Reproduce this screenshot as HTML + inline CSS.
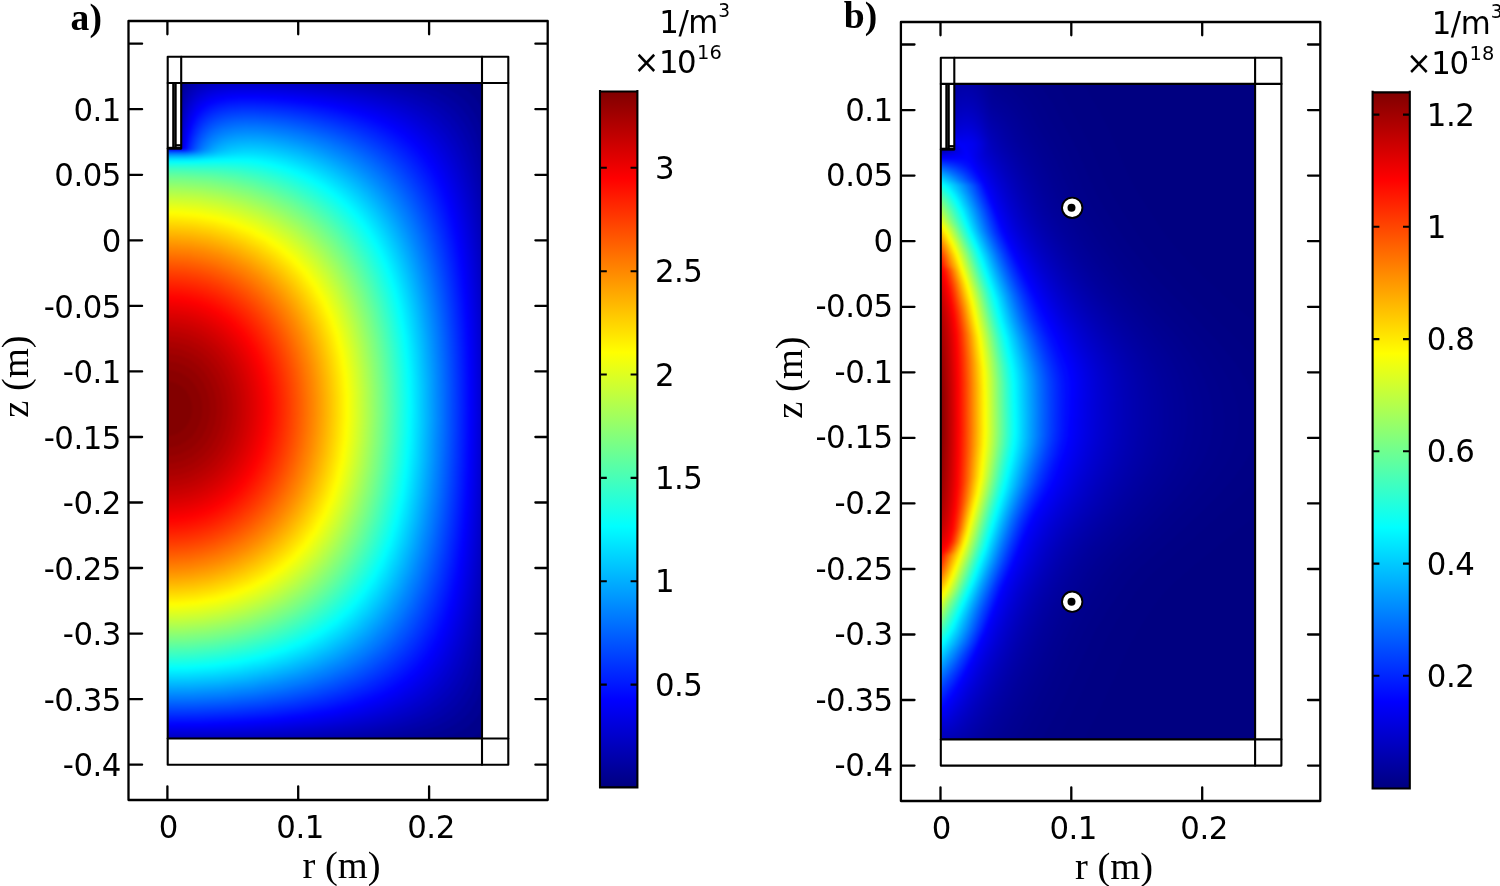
<!DOCTYPE html>
<html lang="en"><head><meta charset="utf-8"><title>Figure</title>
<style>html,body{margin:0;padding:0;background:#fff}body{width:1500px;height:886px;overflow:hidden}svg{display:block}.tk{font-family:"DejaVu Sans","Liberation Sans",sans-serif;font-size:30.8px;fill:#000;letter-spacing:-0.5px}.sup{font-size:18.6px}.ax{font-family:"Liberation Serif","Times New Roman",serif;font-size:38.5px;fill:#000}.pl{font-family:"Liberation Serif","Times New Roman",serif;font-weight:bold;font-size:37.6px;fill:#000}</style></head><body>
<svg width="1500" height="886" viewBox="0 0 1500 886">
<rect width="1500" height="886" fill="#fff"/>
<defs><filter id="bl" x="-5%" y="-5%" width="110%" height="110%" color-interpolation-filters="sRGB"><feGaussianBlur stdDeviation="1.3"/></filter></defs>
<clipPath id="clipa"><rect x="167.4" y="83.0" width="314.6" height="655.5"/></clipPath>
<g clip-path="url(#clipa)"><g filter="url(#bl)">
<rect x="159.4" y="75.0" width="330.6" height="671.5" fill="#000083"/>
<path fill="#00008b" d="M159.4,75 457.5,75 468.4,78.2 476.4,82.4 482.6,88 485.4,91.8 487.7,96 490.4,103.2 490.4,714.3 487.4,722.1 483.1,729 478,734 471.4,738 463.4,741 452.4,743.6 439.4,745.4 421.8,747 159.4,747Z"/>
<path fill="#000093" d="M184.6,76 185.9,75 416.4,75.1 431.4,77.3 443.4,79.9 453.4,83 461.4,86.6 468.4,91.2 474.4,97 478.7,103 482.7,111 487.1,125 490.4,142.4 490.4,675.1 488.2,688 485.7,698 482.5,707 479,714 474.8,720 469.4,725.5 463,730 455.4,733.7 441.4,738.2 422.4,741.6 398.4,744.1 367.4,746 340.7,747 159.4,747 159.4,80.8 180.4,80.9 181.4,80.4Z"/>
<path fill="#00009b" d="M191.4,76 194,75 372.1,75 394.4,77 412.4,79.4 426.4,82.1 438.4,85.4 448.4,89.3 456.8,94 463.4,99.1 469.7,106 474.9,114 479,123 482.5,134 485.7,148 488.3,165 490.4,184.3 490.4,633.2 487.9,656 484.8,674 480.9,689 476.2,701 470.4,710.7 463.4,718.5 454.4,725.1 443.4,730.4 428.4,735 410.4,738.5 387.4,741.3 358.4,743.4 321.4,745.1 274.4,746.3 213,747 159.4,747 159.4,88.6 180.4,88.7 181.4,87.9 183.4,83.2 185.4,80.3 188,78Z"/>
<path fill="#0000a3" d="M201,76 206.6,75 324.4,75 352.4,76.6 375.4,78.5 395,81 411.9,84 425.4,87.4 436.4,91.3 446.1,96 454.4,101.6 461.4,108.2 467.4,115.9 472.4,124.9 476.4,134.7 481.2,152 485,173 488,199 490.4,232 490.4,585.5 489.1,606 486.3,635 482.6,659 478,678 472.4,692.6 469,699 465.4,704.5 461.4,709.4 456.4,714.3 451.4,718.2 445.3,722 438.4,725.4 431.4,728.2 415.4,732.8 396.4,736.3 373.4,739.2 345.4,741.4 310.4,743.2 267.4,744.4 159.4,745.4 159.4,96.4 180.4,96.5 181.4,95.5 184.4,87.1 188.2,82 193.4,78.5Z"/>
<path fill="#0000ab" d="M218.6,76 239.4,75.2 268.4,75.3 303.4,76.4 335.4,78.1 360.4,80.2 381.4,82.7 399.4,85.8 414.4,89.4 426.4,93.3 436.7,98 445.4,103.2 453.6,110 460.4,117.7 465.8,126 470.7,136 475,148 477.9,159 480.6,172 485,203 488.2,243 490.4,293.1 490.4,524.4 488.3,572 485.4,610 481.9,638 477.6,660 472.1,678 468.7,686 465.4,692.2 461.4,698.5 457,704 452,709 446.4,713.6 440.4,717.5 433.4,721.2 425.4,724.6 417.4,727.3 401.4,731.4 381.4,734.8 358.4,737.6 330.4,739.8 296.4,741.5 256.4,742.8 159.4,743.7 159.4,104.3 180.4,104.4 181.4,103.1 183.2,96 185.4,90.4 188.4,86 191.4,83.1 195.4,80.7 201.4,78.6 209.2,77Z"/>
<path fill="#0000b3" d="M220.2,78 240.4,77.1 268.4,77.3 302.4,78.5 333.4,80.5 357.4,82.8 378.4,85.7 396.4,89.2 411.4,93.2 423.4,97.7 434.1,103 443,109 450.8,116 457.4,124 463.5,134 468.5,145 472.9,158 476.4,171.9 479.3,187 481.7,204 483.9,224 487.2,273 489.2,334 490,415 489,495 486.4,559 484.6,585 482.4,608 478.5,635 473.6,657 470.9,666 467.6,675 463.8,683 459.8,690 455.4,696.2 450.4,701.9 444.9,707 439.4,711.2 432.4,715.5 425.4,719 416.4,722.6 407.4,725.5 390.4,729.7 370.4,733.1 347.4,735.8 319.4,738.1 286.4,739.8 248.4,741.1 159.4,742 159.4,112.2 180.4,112.3 181.4,110.8 183.2,102 185.4,95.5 188.4,90.1 191.4,86.7 196.4,83.3 202.4,80.9 210.4,79.1Z"/>
<path fill="#0000bb" d="M221.6,80 241.4,79.1 269.4,79.3 302.4,80.7 332.4,83 356.4,85.6 376.4,88.7 393.4,92.4 408.8,97 421.1,102 431.4,107.6 440.4,114.1 448.5,122 455.4,131 461.7,142 466.8,154 471.2,168 474.7,183 477.6,199 480.1,217 482.2,238 485.5,289 487.4,351 487.9,429 486.5,503 483.6,562 481.6,586 479.1,608 474.8,634 469.3,656 466.2,665 462.5,674 458.9,681 454.4,688.1 449.4,694.5 444.2,700 438.4,705 431.4,709.9 424.3,714 416.4,717.6 407.4,721 397.4,724.1 380.4,728.1 360.4,731.4 337.4,734.1 310.4,736.4 278.4,738.1 242.4,739.4 159.4,740.3 159.4,120.2 180.4,120.3 181.4,118.5 183.3,108 185.6,100 188.4,94.2 192.4,89.3 197.4,85.7 203.4,83.2 211.4,81.3Z"/>
<path fill="#0000c3" d="M222.6,82 243.4,81 270.4,81.4 301.4,82.9 331.4,85.4 355.4,88.4 375.4,91.9 392.4,96 407.4,101 419.4,106.4 430.3,113 439.4,120.3 447.4,128.9 454.4,139 460.2,150 465.3,163 469.7,178 473.1,193 476.1,211 478.6,230 480.7,252 483.9,304 485.6,367 485.8,441 484.1,509 480.9,564 478.7,587 475.9,608 471.1,634 465.1,655 461.4,664.7 457.5,673 453.4,680.2 448.4,687.4 443.4,693.2 437.4,699 430.4,704.5 423.4,709 415.7,713 407.4,716.5 397.6,720 387.1,723 370.4,726.7 350.4,729.9 327.4,732.6 301.4,734.7 270.4,736.5 236.4,737.7 159.4,738.6 159.4,128.3 180.4,128.4 181.4,126.3 183.3,114 185.6,105 188.4,98.4 192.4,92.7 197.4,88.6 203.4,85.7 211.4,83.5Z"/>
<path fill="#0000cb" d="M223.6,84 243.4,83 270.4,83.4 301.4,85.1 330.4,87.8 353.4,90.9 373.4,94.8 391.4,99.5 406.2,105 418.4,111 429,118 438.1,126 445.8,135 453,146 458.8,158 464,172 468.4,188 471.7,204 474.6,222 477.1,242 479.2,265 482.3,319 483.8,383 483.6,453 481.5,516 479.9,543 477.9,568 475.4,589.9 472.5,609 467.3,634 464.1,645 460.7,655 456.8,664 452.4,672.6 447.7,680 442.4,686.8 436.6,693 430.4,698.4 423.4,703.5 415.8,708 407.5,712 398.4,715.6 388.1,719 376.9,722 359.4,725.6 340.4,728.5 318.4,731.1 292.4,733.2 263.4,734.8 231.4,736 159.4,736.9 159.4,136.4 180.4,136.6 181.4,134.2 183.3,120 185.6,110 188.4,102.6 192.4,96.2 197.4,91.6 204.4,87.9 212.4,85.6Z"/>
<path fill="#0000d3" d="M245.2,85 265.4,85.3 287.4,86.3 309.4,88 330.4,90.3 348.4,92.9 364.5,96 379.4,99.6 392.4,103.7 403.4,108.1 413.4,113.2 422.4,118.9 430.4,125.2 437.4,132.2 443.7,140 449.5,149 454.6,159 459.9,172 464.2,186 468,202 471.3,220 474.1,240 476.6,263 478.6,289 480.1,317 481.3,352 481.9,390 481.9,428 481.2,466 480,501 478.3,532 476.1,560 473.3,584 469.2,610 464.1,632 458.2,650 450.9,666 446.8,673 442.4,679.3 437.7,685 432.4,690.5 426.4,695.7 420.5,700 406.4,708 389.4,714.8 370.4,720.2 347.4,724.8 319.4,728.6 286.4,731.5 248.4,733.6 205.4,734.8 159.4,735.1 159.4,144.7 180.4,144.8 181.4,142.2 184.3,121 187.4,109.3 189.4,104.6 192.2,100 195.4,96.2 198.4,93.7 205.5,90 215.4,87.2 228.4,85.6Z"/>
<path fill="#0000db" d="M243.4,87 262.4,87.2 283.4,88.2 305.4,89.9 326.4,92.3 344.3,95 360.4,98.1 375.4,101.9 388,106 399.4,110.6 409.4,115.7 418.4,121.4 426.7,128 433.8,135 440.4,143 446.3,152 451.5,162 456.6,174 461.1,188 465.2,204 468.7,222 471.7,242 474.2,264 476.2,289 477.9,317 479.2,351 479.9,387 479.9,424 479.4,460 478.2,493 476.6,524 474.3,552 471.6,576 467.6,602 462.4,625 456.4,644 449.4,660 445.4,667 440.8,674 436.1,680 430.6,686 425.1,691 418.6,696 411.4,700.7 404.4,704.5 387.4,711.8 367.4,717.8 344.4,722.6 317.4,726.5 285.4,729.5 247.4,731.8 205.4,733.1 159.4,733.4 159.4,148.2 181.6,148 184,128 187.4,113.8 189.7,108 192.4,103.1 195.4,99.3 199.4,95.9 206.7,92 216.4,89.3 228.4,87.7Z"/>
<path fill="#0000e3" d="M242.3,89 260.4,89.1 280.4,90 301.4,91.7 322.4,94.2 340.4,97 356.4,100.2 371.1,104 384.4,108.3 395.6,113 406.4,118.5 415.4,124.4 423.7,131 431.4,138.7 438,147 443.8,156 449.1,166 454.4,178.7 459,193 463.1,209 466.5,226 469.4,245 472,267 474.1,291 475.8,318 477.1,350 477.8,385 478,420 477.4,455 476.4,487 474.8,517 472.6,544 469.9,569 465.7,596 460.6,619 454.3,639 446.9,656 442.4,664 437.7,671 433,677 427.4,683 421.4,688.5 415.4,693.2 401.4,701.7 384.4,709.2 364.4,715.4 341.4,720.4 314.4,724.5 282.4,727.7 245.4,730 204.4,731.3 159.4,731.7 159.4,148.7 180.4,148.7 182.3,148 184.9,129 188.4,115.2 190.6,110 193.4,105.1 196.4,101.4 200.4,97.9 207.4,94.1 216.4,91.4 227.4,89.8Z"/>
<path fill="#0000eb" d="M241.6,91 259.4,91.1 279.4,92 300.4,93.9 320.4,96.3 338.4,99.3 354.4,102.7 368.4,106.4 381.8,111 393.4,115.9 403.4,121.3 412.4,127.2 420.8,134 428.4,141.6 435.1,150 441,159 446.3,169 451.4,181 456.2,195 460.4,210.8 464,228 467,247 469.8,269 472,293 473.7,319 475.1,350 475.8,383 476,417 475.5,451 474.5,483 472.9,512 470.7,539 468.1,563 463.9,590 458.6,614 452.4,634 445.1,651 440.7,659 436.2,666 430.9,673 425.5,679 419.4,684.8 413.4,689.6 399.4,698.5 382.4,706.3 362.4,712.9 339.4,718.1 312.4,722.4 280.4,725.8 244.4,728.2 203.4,729.6 159.4,730 159.4,149 181.4,149 183,148 185.7,130 189.4,116.6 191.4,112 194.4,106.9 197.4,103.3 201.4,99.9 208.4,96.1 217.4,93.4 228.4,91.8Z"/>
<path fill="#0000f3" d="M241.2,93 258.4,93 277.4,94 297.4,95.7 317.4,98.3 334.4,101.1 350.4,104.6 365.4,108.7 378.4,113.2 389.4,117.9 399.4,123.2 408.4,129.1 417.4,136.3 425.1,144 431.7,152 437.7,161 443.7,172 448.9,184 453.7,198 458.1,214 461.7,231 464.9,250 467.6,271 469.8,294 471.6,320 473,350 473.8,382 474,415 473.6,448 472.6,479 471,508 468.9,534 466.2,558 461.8,586 456.5,610 450.2,630 442.5,648 438.1,656 433.5,663 428.4,669.8 422.9,676 416.6,682 410.4,687 396.5,696 379.4,704 359.4,710.6 336.4,716.1 309.4,720.5 278.4,723.9 242.4,726.4 202.4,727.9 159.4,728.3 159.4,149.2 183.1,149 183.8,148 187,129 190.4,118 192.7,113 195.4,108.7 198.4,105.2 202.4,101.9 209.4,98.1 217.4,95.6 228.4,93.8Z"/>
<path fill="#0000fb" d="M240.9,95 257.4,95 276.4,96 296.4,97.8 315.4,100.3 332.4,103.3 348.8,107 363.4,111.2 376.4,115.8 387.4,120.8 397.4,126.2 406.4,132.2 415.4,139.7 422.6,147 429.4,155.3 435.8,165 441.2,175 446.4,187 451.4,201.1 455.8,217 459.5,234 462.8,253 465.5,274 467.8,297 469.6,321 471,350 471.9,381 472.1,413 471.7,444 470.8,474 469.2,503 467.1,529 464.4,552.9 460,581 454.7,605 448.2,626 440.5,644 431.7,659 426.5,666 421.3,672 415.4,677.9 409.4,683 402.4,688.1 394.4,693.1 386.4,697.3 377.4,701.3 357.4,708.2 334.4,713.9 308.4,718.4 277.4,722 241.4,724.6 201.4,726.2 159.4,726.6 159.4,149.5 181.4,149.5 184,149 184.5,148 187.6,131 191.5,119 194.4,113.4 197.4,109.3 200.4,106.1 204.4,103.1 211.4,99.6 219.4,97.3 229.4,95.7Z"/>
<path fill="#0004ff" d="M240.7,97 256.4,96.9 274.4,97.9 294.4,99.8 313.4,102.4 330.4,105.4 346.4,109.2 360.4,113.3 373.4,118 384.4,123 394.4,128.5 403.9,135 412.4,142 420.3,150 426.7,158 433.4,168 438.8,178 444.1,190 449.1,204 453.3,219 457.2,236 460.5,255 463.3,275 465.7,298 467.5,322 469,350 469.9,380 470.2,411 469.8,442 468.9,471 467.3,499 465.2,525 462.6,548 458.3,576 452.7,601 446.2,622 438.6,640 434.3,648 429.4,655.8 424.4,662.6 419,669 413,675 406.4,680.7 392.4,690.2 384.4,694.5 375.4,698.7 355.4,705.9 332.4,711.7 306.4,716.4 275.4,720.2 240.4,722.8 201.4,724.4 159.4,724.8 159.4,149.7 181.4,149.7 184.9,149 188.2,133 191.4,123 195.4,115.1 200.4,108.9 207.1,104 215.4,100.5 226.4,98.2Z"/>
<path fill="#000cff" d="M240.6,99 255.4,98.9 273.4,99.8 292.4,101.7 311.4,104.4 328.4,107.6 344.4,111.4 358.4,115.6 371.4,120.5 382.4,125.7 392.4,131.3 402,138 410.3,145 417.4,152.3 424.5,161 431.1,171 436.5,181 441.9,193 446.9,207 451.2,222 455.1,239 458.4,257 461.2,277 463.6,299 465.5,323 467,350 467.9,379 468.2,409 467.9,439 467,468 465.5,495 463.4,520.6 460.8,544 456.4,572 450.8,597 444.4,618 436.4,636.8 432,645 427,653 421.9,660 416.4,666.4 410.4,672.4 404,678 397.3,683 389.5,688 381.4,692.4 372.4,696.6 352.4,703.9 329.4,709.8 303.4,714.6 272.4,718.5 238.4,721.1 200.4,722.7 159.4,723.1 159.4,149.9 181.4,149.9 185.7,149 189.1,134 192.1,125 196.4,116.6 201.4,110.7 208.4,105.7 216.4,102.4 227.4,100.1Z"/>
<path fill="#0014ff" d="M240.6,101 255.4,100.9 273.4,101.9 292.4,103.9 310.4,106.5 327.4,109.8 342.4,113.6 356.5,118 369.4,123 380.4,128.2 390.4,134 399.4,140.4 408.3,148 415.9,156 422.4,164.1 428.9,174 434.3,184 439.7,196 444.8,210 449.1,225 453.1,242 456.4,260 459.3,280 461.7,302 463.6,325 465.1,352 466,380 466.3,409 466,438 465.1,466 463.6,492 461.6,517 459,540 454.6,568 449,593 442.4,614.4 434.6,633 425.5,649 420.4,656.1 414.7,663 408.9,669 402.1,675 395.4,680.1 387.4,685.4 379.1,690 370.4,694.1 350.4,701.6 327.4,707.8 301.4,712.7 271.4,716.6 237.4,719.3 199.4,721 159.4,721.4 159.4,150.1 182.4,150.1 186.6,149 190,135 193.1,126 197.4,118.2 202.4,112.5 209.4,107.6 217.4,104.3 227.4,102.2Z"/>
<path fill="#001cff" d="M240.7,103 255.4,102.9 272.4,103.9 290.4,105.8 308.4,108.5 325.4,111.9 340.4,115.7 353.8,120 366.5,125 377.4,130.2 387.4,136 397.2,143 405.4,150 413.1,158 420.3,167 426.4,176.3 432.2,187 437.6,199 442.7,213 447.1,228 450.9,244 454.3,262 457.2,282 459.6,303 461.6,326 463.1,352 464,380 464.3,408 464.1,436 463.1,464 461.7,490 459.7,514 457,537 452.6,565 447,590 440.4,611.2 432.5,630 423.4,646 418.4,653.1 412.4,660.3 406,667 399.4,672.8 385.4,682.8 377.4,687.3 368.4,691.7 348.4,699.4 326.4,705.5 300.4,710.6 270.4,714.7 236.4,717.6 199.4,719.2 159.4,719.7 159.4,150.3 182.4,150.3 185.4,149.9 187.5,149 190.8,136 194.2,127 198.4,119.8 203.6,114 210.4,109.4 218.4,106.2 228.4,104.1Z"/>
<path fill="#0024ff" d="M240.8,105 255.4,104.9 271.4,105.8 289.4,107.8 306.4,110.4 322.4,113.7 337.4,117.6 351.4,122.1 364.4,127.3 375.4,132.6 385.4,138.6 394.4,145 402.6,152 410.3,160 417.4,168.7 423.6,178 429.7,189 435.4,201.5 440.4,215 444.9,230 448.7,246 452.2,264 455.1,283 457.6,304 459.6,327 461.1,353 462.1,380 462.4,407 462.1,435 461.3,462 459.8,488 457.7,512 455.2,534 450.7,562 445,587 438.4,608.2 430.5,627 421.4,643 416.4,650.1 410.4,657.5 404.2,664 397.6,670 390.4,675.6 383.4,680.3 375.3,685 366.4,689.4 346.4,697.2 324.4,703.5 298.4,708.8 268.4,712.9 235.4,715.8 198.4,717.5 159.4,717.9 159.4,150.6 182.4,150.6 186.3,150 188.4,149 191.7,137 195.3,128 199.4,121.3 204.4,115.9 211.4,111.2 219.4,108.1 229.4,106Z"/>
<path fill="#002cff" d="M241,107 255.4,106.9 271.4,107.9 288.4,109.8 305.4,112.5 321.4,115.9 336.4,119.9 350.4,124.6 362.4,129.5 373.3,135 383.3,141 392.4,147.6 400.9,155 408.6,163 415.7,172 422.3,182 427.8,192 433.4,204.4 438.4,218 442.9,233 446.8,249 450.3,267 453.2,286 455.7,307 457.7,329 459.2,354 460.2,380 460.5,407 460.2,434 459.4,460 457.9,485 455.9,509 453.3,531 448.8,559 443.1,584 436.4,605.3 428.4,624.3 423.8,633 418.9,641 413.9,648 408.2,655 402.4,661.1 395.4,667.5 388.5,673 381.1,678 364.4,687.1 344.4,695.1 322.4,701.5 296.4,706.9 266.4,711.1 233.4,714.1 197.4,715.8 159.4,716.2 159.4,150.8 182.4,150.8 186.4,150.3 188.4,149.6 189.4,149 192.6,138 196.4,129 201.1,122 206.2,117 212.4,113 220.4,110 229.4,108.1Z"/>
<path fill="#0034ff" d="M241.2,109 254.4,108.9 270.4,109.9 287.4,111.8 304.4,114.6 319.8,118 334.4,122 348.4,126.7 360.9,132 372.4,137.9 382.2,144 391.4,150.9 399.4,158 406.9,166 413.9,175 420.4,184.9 425.9,195 431.4,207.2 436.4,220.6 440.8,235 444.7,251 448.3,269 451.3,288 453.7,308 455.7,330 457.2,354 458.2,380 458.6,406 458.3,433 457.5,458 456.1,483 454.1,506 451.5,528 446.9,556 441.2,581 434.3,603 426.2,622 421.4,630.9 416.4,639 411.4,646 405.6,653 393.4,665 386.4,670.6 378.5,676 370.4,680.8 361.4,685.4 342.4,693 320.4,699.6 294.4,705.1 265.4,709.3 232.4,712.3 197.4,714 159.4,714.5 159.4,151 182.4,151 188.7,150 190.3,149 194.3,137 198.2,129 202.4,123.2 207.4,118.5 213.4,114.8 221.4,111.8 230.4,110Z"/>
<path fill="#003cff" d="M241.5,111 255.4,110.9 270.4,111.9 286.4,113.8 303.4,116.7 318.4,120.1 333.4,124.3 346.4,128.8 358.5,134 369.4,139.6 379.4,145.8 388.4,152.5 396.9,160 404.4,168 411.5,177 418.1,187 423.6,197 429.1,209 434.3,223 438.7,237 442.7,253 446.1,270 449.2,289 451.7,309 453.8,331 455.3,355 456.3,380 456.7,405 456.5,431 455.6,456 454.2,481 452.2,504 449.7,525 445.1,553 439.4,578 432.4,600 424.3,619 419.6,628 414.6,636 404,650 398.4,656 391.4,662.6 384.4,668.2 376.4,673.8 368.4,678.5 359.4,683.2 340.4,691 318.4,697.6 292.4,703.2 263.4,707.5 231.4,710.5 196.4,712.3 159.4,712.7 159.4,151.3 182.4,151.3 186.4,150.9 189.9,150 191.4,149 195.4,137.5 199.4,130 203.4,124.7 208.4,120.2 214.4,116.6 222.4,113.7 231.4,111.9Z"/>
<path fill="#0044ff" d="M241.9,113 255.4,113 270.4,114 286.4,116 302.4,118.8 317.4,122.2 332.4,126.6 345.4,131.3 357.4,136.5 368.4,142.4 378.4,148.8 387.4,155.6 395.4,162.9 402.9,171 409.8,180 416.3,190 421.8,200 427.4,212.3 432.4,225.5 436.9,240 440.9,256 444.3,273 447.4,292 449.9,312 451.9,333 453.5,357 454.4,381 454.8,406 454.5,431 453.7,455 452.3,479 450.3,502 447.8,523 443.1,551 437.4,575.6 430.6,597 422.4,616.3 413,633 407.4,640.9 401.6,648 395.4,654.6 388.5,661 374.4,671.5 366.4,676.3 357.5,681 338.4,689 316.4,695.7 291.4,701.3 262.4,705.7 230.4,708.8 196.4,710.5 159.4,711 159.4,151.6 183.4,151.5 187.8,151 191,150 192.4,149 196.4,138.5 200.4,131.3 204.4,126.3 209.4,121.9 215.4,118.4 223.4,115.6 232.4,113.8Z"/>
<path fill="#004cff" d="M242.4,115 255.4,115 270.4,116 286.4,118.1 302,121 317.4,124.7 331.4,128.9 344.4,133.7 356.1,139 366.4,144.5 376.4,151 385.4,157.9 393.4,165.3 401.4,174 408.3,183 414.4,192.5 420.1,203 425.5,215 430.8,229 435.1,243 439.1,259 442.6,276 445.5,294 448.1,314 450,335 451.6,358 452.5,382 452.6,431 451.8,455 450.4,478 448.4,500 445.9,521 441.2,549 435.5,573 428.5,595 420.4,614 415.6,623 410.7,631 405.4,638.5 399.4,645.9 393.4,652.3 386.4,658.8 372.4,669.3 364.4,674.2 355.4,679 336.4,687 314.4,693.9 289.4,699.5 261.4,703.8 229.4,707 195.4,708.8 159.4,709.3 159.4,151.8 183.4,151.8 188.4,151.2 192.2,150 193.6,149 197.4,139.5 201.4,132.6 205.4,127.8 210.4,123.6 216.4,120.2 223.4,117.7 232.4,115.9Z"/>
<path fill="#0054ff" d="M243,117 255.4,117 270.4,118.1 285.4,120.1 301.4,123.1 316.4,126.8 329.9,131 342.4,135.7 354.4,141.2 365,147 374.4,153.2 383.2,160 391.4,167.5 399.1,176 406,185 412.4,194.8 417.9,205 423.4,217 428.4,230 432.8,244 436.9,260 440.5,277 443.5,295 446,314 448,335 449.6,358 450.6,381 451,405 450.7,430 449.9,454 448.5,477 446.5,499 444,519 439.4,546.2 433.5,571 426.4,593 418.2,612 408.5,629 403.4,636.2 397.4,643.6 385,656 377.7,662 370.4,667.2 362.4,672.1 353.4,676.9 334.4,685.1 312.4,692 287.4,697.7 259.4,702.1 228.4,705.3 195.4,707.1 159.4,707.5 159.4,152.1 183.4,152.1 188.4,151.5 192.4,150.4 194.7,149 198.4,140.5 202.4,134 206.4,129.4 211.4,125.3 217.4,122 224.4,119.6 233.4,117.8Z"/>
<path fill="#005cff" d="M243.7,119 256.4,119.1 270.4,120.2 285.4,122.3 301.4,125.4 315.4,129 329.4,133.4 341.4,138.1 353.4,143.7 363.4,149.3 373.4,156 382.2,163 390.4,170.8 397.7,179 404.6,188 410.9,198 416.3,208 421.8,220 426.7,233 431.1,247 435.2,263 438.8,280 441.8,298 444.2,317 446.3,338 447.8,361 448.8,384 448.8,431 448,454 446.5,477 444.5,498 442,518 437.3,545 431.4,569.6 424.4,591 416.1,610 406.4,626.8 395.4,641.3 389.2,648 382.8,654 368.4,665.1 360.4,670 351.4,674.9 332.4,683.1 310.4,690.2 286.4,695.8 258.4,700.3 227.4,703.5 194.4,705.3 159.4,705.8 159.4,152.4 184.4,152.3 189.4,151.7 193.4,150.6 196,149 199.8,141 204.4,134.2 208.4,130 213.4,126.4 219.4,123.4 226.4,121.2 234.4,119.7Z"/>
<path fill="#0064ff" d="M244.6,121 257.4,121.2 271.4,122.4 286.4,124.6 301.4,127.7 315.4,131.4 328.4,135.7 340.4,140.4 352.4,146.2 362.4,152 371.4,158.1 380.4,165.3 388.5,173 395.6,181 402.4,190 408.8,200 414.8,211 420.2,223 425.1,236 429.5,250 433.6,266 437.1,283 440.1,301 442.5,320 444.5,340 446,362 446.9,385 446.9,431 444.7,475 442.7,496 440.2,516 435.4,543 429.6,567 422.4,588.9 414,608 404.4,624.6 393.4,639.2 387.4,645.6 380.7,652 366.4,663 358.4,668 349.4,672.9 330.4,681.3 308.4,688.4 284.4,694 256.4,698.6 226.4,701.7 194.4,703.6 159.4,704 159.4,152.7 184.4,152.6 189.4,152.1 193.9,151 197.3,149 201.4,141.1 205.4,135.6 209.4,131.6 214.4,128.1 220.4,125.2 227.4,123 235.4,121.6Z"/>
<path fill="#006cff" d="M246,123 258.4,123.3 272.4,124.6 287.4,127 301.4,130 315.4,133.9 328.4,138.3 340.4,143.3 351.9,149 362,155 371.4,161.6 379.4,168.3 387.4,176 394.4,184.1 401.4,193.5 407.4,203 413.2,214 418.6,226 423.5,239 427.8,253 431.9,269 435.2,285 438.2,303 440.7,322 442.7,342 444.1,364 445,386 445,431 444.2,453 442.7,475 440.7,496 438.2,515 433.4,542 427.4,566 420.4,587 412,606 402.1,623 396.4,630.9 390.6,638 384.4,644.6 377.5,651 363.4,661.7 355.4,666.6 346.4,671.5 327.4,679.8 306.4,686.6 282.4,692.3 255.4,696.8 225.4,700 193.4,701.8 159.4,702.3 159.4,153 184.4,152.9 190.4,152.3 195.4,151 198.6,149 202.6,142 207.4,136 211.4,132.5 215.4,129.8 221.4,127 228.4,124.9 236.4,123.6Z"/>
<path fill="#0074ff" d="M234,126 244.4,125.1 257.4,125.2 271.4,126.6 286.4,129 301.4,132.3 315.4,136.3 328.6,141 341.4,146.5 352.4,152.3 362.4,158.5 371.4,165.2 380.3,173 388.1,181 395.4,190 402.3,200 408.2,210 414.1,222 419,234 423.5,247 427.8,262 431.6,278 434.8,295 437.5,313 439.8,332 441.5,353 442.7,374 443.3,396 443.4,419 442.8,441 441.6,463 440,483 437.8,503 433.3,531 427.5,557 420.7,579 412.4,599.2 402.7,617 391.9,632 385.8,639 378.8,646 371.9,652 364.4,657.6 356.3,663 347.5,668 328.4,676.8 307.3,684 283.3,690 255.4,694.8 225.4,698.1 193.4,700.1 159.4,700.5 159.4,153.3 185.4,153.2 191.4,152.5 197,151 200.1,149 203.4,143.5 206.4,139.6 213.4,133.4 217.4,131 222.4,128.8Z"/>
<path fill="#007cff" d="M234.5,128 245.4,127.1 257.4,127.3 271.4,128.7 286.4,131.2 301.4,134.6 315.4,138.8 328.4,143.5 340.4,148.9 351.4,154.8 361.1,161 370.4,168 378.4,175 386.1,183 393.4,192 400.3,202 406.2,212 412.1,224 417.1,236 421.6,249 426,264 429.6,279 432.8,296 435.6,314 437.9,333 440.8,374 441.5,418 439.8,461 438.2,481 436,501 431.5,529 425.9,554 418.8,577 410.5,597 406,606 400.7,615 390,630 383.9,637 376.8,644 369.9,650 362.4,655.7 354.4,661 345.4,666.2 326.4,675 305.4,682.2 281.4,688.2 254.4,693 224.4,696.4 193.4,698.3 159.4,698.8 159.4,153.7 185.4,153.6 192.4,152.7 197.4,151.4 201.7,149 207.5,141 211.4,137.3 215.4,134.4 224.4,130.3Z"/>
<path fill="#0083ff" d="M235,130 246.4,129.1 258.4,129.4 272.4,130.9 286.4,133.4 300.4,136.7 314.4,140.9 327.4,145.8 339.4,151.2 349.9,157 359.4,163.1 368.5,170 377.4,177.9 385,186 392.2,195 398.4,204 404.4,214.2 410.2,226 415.2,238 419.8,251 424.1,266 427.7,281 431,298 433.8,316 436,334 437.7,354 438.9,375 439.6,418 438,460 436.3,480 434,500 429.5,528 423.8,553 416.9,575 408.4,595.4 398.8,613 393.4,621 387.4,628.7 374.9,642 368,648 360.4,653.8 344.1,664 324.9,673 304.4,680.2 280.4,686.3 253.4,691.2 224.4,694.5 193.4,696.5 159.4,697 159.4,154 185.4,153.9 192.4,153.2 197.6,152 202.2,150 209.4,141.5 216.4,136.1 224.4,132.5Z"/>
<path fill="#008bff" d="M235.6,132 246.4,131.2 258.4,131.5 271.4,132.9 285.4,135.3 299.4,138.7 313.4,143 326.4,148 338.4,153.6 348.4,159.1 358.4,165.6 367.4,172.6 375.6,180 383.1,188 390.3,197 397.1,207 402.9,217 408.4,228.1 413.7,241 418.3,254 422.4,268.3 426.1,284 429.3,300 432,318 434.2,336 435.9,356 437.1,377 437.7,419 436,460 434.4,480 432.1,499 427.5,527 421.7,552 414.7,574 406.4,593.7 396.9,611 391.4,619.1 385.4,626.8 373,640 366.2,646 358.4,652 342.4,662 323.4,671 302.4,678.4 278.4,684.6 251.4,689.5 222.4,692.9 191.4,694.8 159.4,695.2 159.4,154.3 185.4,154.3 192.4,153.6 198.4,152.3 204,150 211.4,142.1 218.4,137.3 226.4,134Z"/>
<path fill="#0093ff" d="M236.3,134 246.4,133.2 258.4,133.6 271.4,135 285.4,137.5 299.2,141 312.4,145.1 325.4,150.2 337.4,155.9 347.4,161.5 357.1,168 366.1,175 374.4,182.7 382.1,191 389.2,200 395.4,209.2 401.4,219.6 406.9,231 412.3,244 416.8,257 420.8,271 424.4,286.1 427.7,303 430.3,320 432.4,338 434.2,358 435.3,378 435.8,419 434.1,460 432.5,479 430.2,498 425.7,525 419.9,550 412.9,572 404.4,592 394.4,609.9 383.4,625 371.2,638 364.4,644 356.6,650 340.4,660.2 321.4,669.2 300.4,676.7 277.4,682.8 251.4,687.6 222.4,691 191.4,693 159.4,693.5 159.4,154.7 186.4,154.6 193.4,153.9 199.4,152.6 205.9,150 213.2,143 219.4,139 227.4,135.8Z"/>
<path fill="#009bff" d="M237,136 247.4,135.3 259.4,135.7 272.4,137.3 285.4,139.8 299.4,143.4 312.4,147.6 324.4,152.4 336.4,158.2 346.5,164 356.4,170.7 365.4,177.9 372.9,185 380.4,193.1 387.4,202.1 394,212 399.7,222 405.4,233.6 410.4,245.8 415,259 419,273 422.6,288 425.7,304 428.4,321 430.5,339 433.4,378 434,419 432.3,459 430.6,478 428.3,497 423.8,524 418.1,548 411.1,570 402.6,590 397.9,599 392.5,608 381.6,623 369.4,636 362.4,642.2 354.9,648 338.4,658.4 319.4,667.5 298.4,675 275.4,681.1 249.4,685.9 221.4,689.3 191.4,691.2 159.4,691.7 159.4,155.1 186.4,155 193.4,154.3 200.4,153 208,150 215,144 221.4,140.2 228.4,137.7Z"/>
<path fill="#00a3ff" d="M237.7,138 247.4,137.4 259.4,137.8 272.4,139.4 285.4,142 298.4,145.4 311.4,149.7 323.4,154.6 335.4,160.4 345.4,166.3 354.4,172.5 363.4,179.7 371.4,187.2 378.5,195 385.5,204 392.2,214 397.9,224 403.4,235.2 408.7,248 413.2,261 417.2,275 420.8,290 424,306 428.7,340 430.4,359 431.5,379 432.1,419 430.3,459 428.6,478 426.4,496.2 421.8,523 416,547 408.9,569 400.8,588 390.7,606 379.8,621 367.4,634.2 353.2,646 345.4,651.3 336.4,656.7 318.4,665.4 297.4,673 274.4,679.2 248.4,684.1 220.4,687.5 190.4,689.5 159.4,689.9 159.4,155.5 186.4,155.4 193.4,154.8 200.4,153.6 208.5,151 217.4,144.7 223.4,141.6 230.4,139.3Z"/>
<path fill="#00abff" d="M238.5,140 248.4,139.4 260.4,140 272.4,141.6 285.4,144.2 298.4,147.7 311.4,152.2 323.4,157.2 334.4,162.7 344.4,168.7 353.4,175 362.4,182.3 370.4,190 377.5,198 384.5,207 391.1,217 396.7,227 402.4,238.9 407.3,251 411.7,264 415.8,278 419.3,293 422.4,309 427,343 429.7,381 430.2,421 428.3,460 424.4,496 419.9,522 414,546 406.8,568 398.4,587.2 388.4,604.8 377.4,619.7 364.9,633 350.4,644.8 334.3,655 315.7,664 295.4,671.4 272.4,677.5 247.4,682.3 219.4,685.8 190.4,687.7 159.4,688.1 159.4,155.9 186.4,155.8 200.4,154.2 205.5,153 211,151 219.4,145.8 225.4,143 231.4,141.2Z"/>
<path fill="#00b3ff" d="M239.4,142 249.4,141.5 260.4,142.1 272.4,143.7 285.4,146.4 298.4,150.1 310.4,154.2 322.4,159.3 333.4,165 343.3,171 352.4,177.4 360.4,184 368.7,192 375.8,200 382.7,209 389.3,219 394.9,229 400.4,240.3 405.5,253 410,266 414,280 417.6,295 420.5,310 423.1,327 425.2,344 427.9,382 428.3,421 426.5,459 424.8,477 422.5,495 417.9,521 412,545 405,566 396.4,585.7 386.5,603 375.5,618 363.2,631 356.4,637 348.6,643 332.4,653.3 314.4,662 294.4,669.4 271.4,675.7 246.4,680.5 218.4,684 189.4,685.9 159.4,686.3 159.4,156.3 186.4,156.3 200.4,154.8 211.4,152 222.4,146.5 227.4,144.5 233.4,142.9Z"/>
<path fill="#00bbff" d="M240.5,144 250.4,143.6 261.4,144.3 273.4,146.1 286.4,148.9 299.4,152.7 311.1,157 322.4,162 333.4,167.8 342.4,173.4 351.5,180 359.8,187 367.9,195 374.9,203 381.7,212 388.2,222 393.7,232 398.9,243 403.8,255 408.3,268 412.3,282 415.9,297 418.8,312 421.4,329 423.4,346 426,383 426.4,422 424.5,460 420.5,495 415.8,521 410,544 402.9,565 394.5,584 384.8,601 373.8,616 361.4,629.1 347,641 330.4,651.6 312.4,660.4 292.4,667.8 269.7,674 244.4,678.9 217.4,682.2 189.4,684.1 159.4,684.5 159.4,156.7 186.4,156.7 200.4,155.4 213.4,152.4 229.4,146Z"/>
<path fill="#00c3ff" d="M241.8,146 251.4,145.7 262.4,146.6 274.4,148.4 287.4,151.4 299.4,155.1 311.4,159.6 322.4,164.6 332.4,170 342.4,176.4 351.2,183 359.4,190.1 367.2,198 374,206 380.7,215 387.1,225 392.5,235 397.7,246 402.5,258 406.9,271 410.8,285 414.4,300 417.2,315 419.8,332 421.8,349 424.2,385 424.5,423 422.6,460 420.8,478 418.5,495 413.8,520 408,543 400.8,564 392.3,583 382.4,600 371.4,614.8 358.8,628 344.4,639.8 328.4,649.9 310.4,658.7 290.4,666.1 268.4,672.2 243.9,677 217.4,680.4 189.4,682.3 159.4,682.7 159.4,157.2 185.4,157.2 199.4,156.2 213.4,153.4 232.4,147.4Z"/>
<path fill="#00cbff" d="M243.4,148 253.4,147.9 264.4,148.9 276.4,151 288.4,154 300.4,157.8 311.4,162.1 322.4,167.3 332.6,173 341.8,179 350.9,186 358.7,193 366.4,200.9 373.2,209 379.7,218 385.9,228 391.3,238 396.4,249 401.4,261.7 405.5,274 409.4,288 412.9,303 415.7,318 420.1,351 422.4,387 422.6,424 420.6,461 416.4,495 411.7,520 405.7,543 398.4,563.7 390.1,582 380.4,598.5 369.4,613.2 356.4,626.7 342.6,638 326.4,648.3 308.4,657.1 288.4,664.5 266.4,670.5 242.4,675.3 216.4,678.6 188.4,680.5 159.4,680.9 159.4,157.7 185.4,157.7 199.4,156.8 212.4,154.6 233.4,149.3Z"/>
<path fill="#00d3ff" d="M244.8,150 255.4,150.1 266.4,151.3 277.4,153.4 289.4,156.5 301.4,160.5 312.3,165 322.5,170 332.4,175.7 341.7,182 350.4,188.9 358.2,196 365.4,203.6 372.3,212 378.7,221 384.8,231 390.1,241 395.1,252 399.8,264 404.1,277 408,291 411.4,306 414.1,321 418.4,354 420.6,390 420.7,426 418.6,462 414.4,495 409.5,520 403.7,542 396.4,562.5 387.9,581 378.4,597 367.1,612 354.6,625 340.4,636.5 324.4,646.7 306.4,655.5 286.4,662.9 265.4,668.7 241.4,673.5 215.4,676.8 188.4,678.7 159.4,679.1 159.4,158.2 185.4,158.2 198.4,157.5 211.4,155.7 233.4,151.2Z"/>
<path fill="#00dbff" d="M243,152 253.4,152 263.4,153 274.4,154.9 286.4,157.8 297.4,161.4 309,166 319.4,171 329.9,177 339.4,183.4 347.9,190 355.6,197 363.3,205 369.9,213 376.4,222 382.4,231.6 388,242 393,253 397.8,265 402.1,278 405.8,291 409.3,306 412.1,321 416.4,353 418.7,388 418.9,424 416.9,459 412.9,492 408.3,516 402.3,539 395.3,559 386.7,578 377.4,594.1 366.4,609 353.4,622.7 339.4,634.2 323.4,644.5 305.4,653.4 285.4,660.9 264.4,666.8 240.4,671.7 214.4,675.1 187.4,676.9 159.4,677.3 159.4,158.7 185.4,158.8 197.4,158.2 210.4,156.7 233.4,152.9Z"/>
<path fill="#00e3ff" d="M238.5,154 248.4,153.7 259.4,154.5 270.4,156.1 281.4,158.6 293.4,162.3 304.4,166.5 315.4,171.6 325.4,177 334.6,183 343.4,189.5 351.4,196.4 359.4,204.4 366.8,213 373.4,221.9 379.2,231 384.8,241 390.1,252 395,264 399.2,276 403,289 406.5,303 409.5,318 414,349 416.6,383 417.1,419 415.4,454 411.6,487 407.1,512 401.4,534.4 394.5,555 386.1,574 376.5,591 365.6,606 353.4,619.2 339.4,631.1 323.4,641.8 305.4,650.9 285.4,658.7 264.4,664.7 240.4,669.7 214.4,673.2 187.4,675.1 159.4,675.5 159.4,159.3 185.4,159.4 197.4,158.9Z"/>
<path fill="#00ebff" d="M232.4,156 243.4,155.5 253.4,155.8 264.4,157.1 275.4,159.3 287.4,162.6 298.4,166.4 309,171 319.4,176.3 329.4,182.4 338.4,188.7 346.4,195.3 354.6,203 361.9,211 369,220 375.1,229 381,239 386.4,249.5 391.4,261 395.9,273 400,286 403.7,300 406.7,314 411.6,345 414.5,378 415.3,413 414,448 410.5,481 406.2,506 400.4,530 393.6,551 385.4,570.1 375.5,588 364.8,603 352.4,616.7 338.4,628.8 322.4,639.6 304.4,648.9 284.4,656.8 263.4,662.9 239.4,667.9 214.4,671.3 187.4,673.3 159.4,673.7 159.4,159.9 195.4,159.6Z"/>
<path fill="#00f3ff" d="M224.4,158 236.4,157.2 247.4,157.2 257.4,158 268.4,159.8 279.4,162.4 290.9,166 301.4,170.1 312.4,175.2 322.4,180.8 331.9,187 341.1,194 349,201 356.4,208.5 363.6,217 370.4,226.2 376.6,236 382.1,246 387.4,257.3 392.1,269 396.5,282 400.3,295 403.6,309 408.9,339 412.2,372 413.4,406 412.5,441 409.5,474 405.4,500 399.9,524 393,546 384.8,566 375.4,583.6 364.4,599.6 352.4,613.2 338.4,625.7 322.4,636.8 304.4,646.4 285.4,654.1 263.4,660.8 239.4,665.9 214.4,669.4 187.4,671.4 159.4,671.9 159.4,160.5 193.4,160.4Z"/>
<path fill="#00fbff" d="M227.7,159 239.4,158.7 250.4,159.1 260.4,160.3 271.4,162.4 282.4,165.4 293.4,169.2 304.4,173.8 314.4,178.9 324.4,184.8 333.3,191 342,198 349.6,205 357.4,213.3 364.4,222 370.7,231 376.4,240.4 382,251 386.9,262 391.4,273.5 395.5,286 399.1,299 402.4,313 407.4,343 410.6,376 411.6,410 410.4,444 407.2,476 403.1,501 397.7,524 390.7,546 382.7,565 373.4,582.2 362.5,598 350.2,612 336.4,624.2 320.9,635 303.4,644.4 284.4,652.2 262.4,658.9 238.4,664.1 213.4,667.6 187.4,669.6 159.4,670 159.4,161.2 193.4,161.1Z"/>
<path fill="#04fffb" d="M213.1,161 239.4,160.2 249.4,160.8 259.4,162 270.4,164.2 281.4,167.3 292,171 302.4,175.4 312.4,180.4 322.4,186.3 332,193 340.4,199.8 348.1,207 355.6,215 362.9,224 369.4,233.4 375.4,243.4 380.9,254 385.7,265 390.3,277 394.4,289.7 398,303 403.7,331 407.6,362 409.5,395 409.3,429 407,462 403.3,489 398.1,514 391.5,537 383.9,557 374.4,575.9 364,592 357.8,600 351.6,607 337.8,620 322.4,631.2 313.4,636.7 304.4,641.4 284.4,649.9 263.4,656.5 239.4,661.9 214.4,665.6 187.4,667.7 159.4,668.2 159.4,161.9 190.4,161.9Z"/>
<path fill="#0cfff3" d="M213.4,162 238.4,161.7 249.4,162.5 259.4,163.9 270.4,166.3 281.4,169.5 292.4,173.5 302.4,177.9 312.4,183 322.1,189 331.4,195.6 339.4,202.1 347.4,209.7 355,218 362.1,227 368.2,236 374.1,246 379.3,256 384.1,267 388.7,279 392.8,292 396.3,305 402,333 405.9,364 407.7,397 407.4,430 405,462 401.4,488.1 396.2,513 389.6,536 381.8,556 372.4,574.7 361.8,591 350.1,605 336.4,618 328.7,624 320.4,629.7 303.4,639.3 283.4,648 262.4,654.7 238.4,660.1 213.4,663.8 187.4,665.9 159.4,666.3 159.4,162.6 190.4,162.7Z"/>
<path fill="#14ffeb" d="M215.9,163 240.4,163.3 251.4,164.5 261.4,166.2 272.4,168.9 282.4,172 292.8,176 303.4,180.8 313.4,186.3 322.4,192 331.4,198.6 339.4,205.4 347.2,213 354.4,221.1 361.3,230 367.4,239.1 373.1,249 378.2,259 383,270 387.4,282 391.4,294.6 394.9,308 400.5,336 404.2,367 405.8,399 405.5,431 403,463 399.2,489 394.1,513 387.6,535 379.8,555 370.4,573.4 359.5,590 347.4,604.3 333.8,617 318.4,628.2 301.1,638 282.4,646 260.8,653 237.4,658.3 212.4,662 186.4,664.1 159.4,664.5 159.4,163.4 191.4,163.5Z"/>
<path fill="#1cffe3" d="M159.4,165 159.4,164.2 228.4,164.2 245.4,165.4 261.4,168.1 280.4,173.5 290.4,177.3 299.4,181.4 308.4,186.1 317.4,191.5 333,203 340.4,209.6 347.4,216.7 353.7,224 359.8,232 370.5,249 375.6,259 380.1,269 388.1,291 394.5,315 399.2,341 402.4,369 404,400 403.5,432 401,463 396.6,492 390.3,519 386.7,531 382.4,542.9 377.8,554 372.9,564 367.4,574 361.4,583.3 354.9,592 348.4,599.7 341.4,607 333.7,614 325.4,620.5 316.4,626.7 307.4,632.1 298,637 287.4,641.7 276.4,645.9 253.4,652.8 227.4,658 200.4,661.3 180.4,662.4 159.4,662.6Z"/>
<path fill="#24ffdb" d="M159.4,166 159.4,165.1 226.4,165.6 244.1,167 260.4,169.9 270.4,172.5 280.4,175.8 290.4,179.7 299.4,183.9 308.4,188.7 316.9,194 332.4,205.6 339.4,212 346.4,219.2 353,227 359,235 369.5,252 379,272 386.8,294 393,318 397.7,344 400.8,372 402.1,403 401.5,435 398.8,465 394.2,494 387.9,520 380,543 375.3,554 370.3,564 364.6,574 358.7,583 352.4,591.3 345.4,599.4 337.9,607 330.4,613.6 322.1,620 313.4,625.9 304.4,631.1 294.9,636 284.4,640.6 273.4,644.7 250.4,651.4 224.4,656.5 197.4,659.6 179.4,660.6 159.4,660.8Z"/>
<path fill="#2cffd3" d="M159.4,167 159.4,166 223.4,166.8 242.4,168.5 259.4,171.6 269.4,174.3 279.4,177.6 289.4,181.7 298.4,185.9 307.4,190.8 315.7,196 324.1,202 331.5,208 339.1,215 345.7,222 352.4,230 358.2,238 368.5,255 377.8,275 385.5,297 391.6,321 396.1,347 399.1,375 400.3,406 399.4,437 396.6,467 391.9,495 385.4,520.9 381.4,533 377.2,544 372.4,554.8 367.4,564.6 361.9,574 355.8,583 343.4,598.1 336.4,605.1 328.4,612.2 320.4,618.3 311.4,624.4 302.4,629.6 292.4,634.7 282.4,639 271.4,643.1 247.8,650 222.4,654.9 195.4,657.9 178.4,658.7 159.4,658.9Z"/>
<path fill="#34ffcb" d="M159.4,168 159.4,167 169.4,167 221.4,168.1 240.9,170 258.4,173.4 268.4,176.1 278.4,179.5 288.4,183.6 297.4,187.9 314.5,198 322.9,204 330.4,210.2 337.7,217 344.3,224 350.4,231.3 356.4,239.5 367,257 376.2,277 383.9,299 390,323 394.4,349 397.2,376 398.4,406 397.5,437 394.8,466 390.1,494 383.8,519 375.7,542 370.8,553 365.7,563 360.4,572 354.3,581 348.2,589 341.1,597 334.1,604 326.4,610.7 318.3,617 309.4,622.9 300.4,628.1 290.8,633 280.4,637.5 269.4,641.6 246.4,648.2 221.4,653.1 194.4,656 177.4,656.9 159.4,657Z"/>
<path fill="#3cffc3" d="M159.4,169 159.4,168.1 172.4,168.1 219.4,169.4 239.4,171.5 257.4,175.1 267.4,178 277.4,181.4 287.4,185.6 296.4,189.9 313.4,200 321.6,206 329.4,212.5 336.4,219.1 343.4,226.6 355.3,242 365.5,259 374.7,279 382.3,301 388.3,325 392.7,351 395.5,378 396.5,408 395.6,438 392.7,467 387.8,495 381.3,520 377.2,532 372.9,543 368.3,553 363,563 357.4,572.3 351.4,581 345.1,589 338.4,596.4 331.4,603.3 323.4,610.1 315.4,616.1 306.5,622 297.4,627.2 287.7,632 277.4,636.4 266.4,640.4 243.4,646.8 218.4,651.5 192.4,654.3 177.4,655 159.4,655.1Z"/>
<path fill="#44ffbb" d="M159.4,170 159.4,169.2 176.4,169.3 218.4,170.8 238.4,173.1 257.4,177.2 277.4,183.7 295.5,192 312.4,202.2 320.4,208 328.4,214.7 341.5,228 348,236 353.8,244 364.4,261.8 373.1,281 380.4,302 386.5,326 390.9,352 393.6,379 394.6,408 393.6,438 390.7,467 385.9,494 379.4,518.8 371.3,541 366.8,551 361.5,561 356.1,570 350,579 343.7,587 337.4,594 330.4,601 322.3,608 314.4,614 305.4,620 296.4,625.1 286.4,630.1 276.4,634.4 265.4,638.5 242.4,645 217.4,649.7 191.4,652.4 176.4,653.1 159.4,653.2Z"/>
<path fill="#4cffb3" d="M159.4,171 159.4,170.4 179.4,170.6 216.4,172.2 237.4,174.8 256.4,178.9 276.4,185.6 294.5,194 311.4,204.3 319.4,210.2 327.4,217 334.4,223.8 340.9,231 347.4,239 353,247 363.4,264.8 372,284 379.4,306 385.2,330 389.3,355 391.9,382 392.7,411 391.6,440 388.6,468 383.6,495 377.1,519 368.9,541 364.3,551 358.9,561 353.4,570 347,579 340.4,587.2 333.4,594.8 326.4,601.4 318.5,608 302.4,619.1 293.4,624.2 283.4,629.1 262.4,637.2 239.4,643.6 215.4,648 189.4,650.6 159.4,651.3Z"/>
<path fill="#54ffab" d="M159.4,172 185.4,172 216.4,173.8 237.4,176.6 256.2,181 276.4,187.9 294.4,196.5 311.2,207 326.1,219 333.2,226 339.6,233 351.4,248.8 361.5,266 370.4,285.9 377.5,307 383.4,331 387.5,356 390,383 390.8,412 389.6,441 386.5,469 381.5,495 374.9,519 366.9,540 362.3,550 356.8,560 351.3,569 345.4,577.3 339.2,585 332.4,592.4 325.4,599.1 317.4,605.9 309.2,612 300.4,617.6 282.4,627.1 272.4,631.4 261.4,635.3 238.4,641.8 214.4,646.2 188.4,648.8 159.4,649.4Z"/>
<path fill="#5cffa3" d="M159.4,174 159.4,173.1 176.4,173.2 212.2,175 234.4,177.9 254.4,182.6 274.4,189.5 292.4,198 301,203 309.4,208.5 317.4,214.6 324.7,221 331.9,228 338.2,235 344.4,242.8 350.1,251 360.4,268.9 368.9,288 376.2,310 381.7,333 385.8,358 388.2,384 388.9,413 387.7,441 384.6,468 379.7,494 373.3,517 365,539 360.2,549 354.8,559 349.4,567.6 343.4,576 336.9,584 330.4,591.1 323.2,598 315.4,604.5 307.4,610.4 298.7,616 280.4,625.6 270.4,629.8 259.4,633.8 237.4,639.9 213.4,644.3 187.4,646.9 159.4,647.5Z"/>
<path fill="#64ff9b" d="M159.4,175 159.4,174.5 180.4,174.7 211.4,176.5 233.4,179.6 253.4,184.4 273.4,191.4 291.4,200 299.9,205 308.4,210.7 323.4,222.9 330.4,229.8 336.8,237 348.4,252.6 358.4,270 366.9,289 374.3,311 379.9,334 383.9,359 386.3,385 387,413 385.7,441 382.6,468 377.6,494 370.8,518 362.6,539 352.7,558 347,567 341.3,575 334.7,583 328.2,590 320.8,597 313.4,603.1 305.4,609 296.4,614.7 278.4,624.1 258.1,632 235.4,638.3 211.4,642.6 186.4,645 159.4,645.6Z"/>
<path fill="#6cff93" d="M159.4,177 159.4,176 175.4,176.1 193.4,176.8 208.8,178 231.4,181.2 252.4,186.2 272.4,193.3 290.4,202 299.4,207.4 307.4,212.8 322.2,225 335.4,239 346.5,254 356.9,272 365.4,291 372.4,312 378,335 382.1,360 384.4,386 385,414 383.7,442 380.4,469 375.5,494 368.8,517 360.6,538 350.7,557 344.9,566 339.1,574 332.4,582 325.9,589 311.4,601.7 303.4,607.5 294.8,613 276.4,622.6 256.4,630.3 234.4,636.4 210.4,640.7 185.4,643.1 159.4,643.6Z"/>
<path fill="#74ff8b" d="M159.4,178 159.4,177.6 182.4,177.9 210.4,179.9 232.4,183.3 252.4,188.4 271.4,195.2 289.4,204 298.4,209.5 306.4,215 320.9,227 334,241 345.4,256.4 355.4,273.9 363.8,293 370.8,314 376.3,337 380.2,361 382.5,387 383.1,415 381.7,442 378.6,468 373.6,493 366.9,516 358.6,537 353.7,547 348.6,556 337.4,572.3 331.1,580 324.4,587.1 317.4,593.7 309.8,600 301.6,606 293.4,611.2 275.4,620.6 255.4,628.4 233.4,634.5 210.4,638.7 185.4,641.2 159.4,641.7Z"/>
<path fill="#7cff83" d="M159.4,180 159.4,179.2 177.4,179.3 192.4,180 207.4,181.3 230.4,184.9 250.5,190 270.4,197.2 288.2,206 304.4,216.4 312.4,222.6 319.4,228.8 332.4,242.7 343.7,258 354,276 362.3,295 369.2,316 374.7,339 378.5,363 380.6,388 381.1,415 379.8,442 376.6,468 371.5,493 365,515 356.6,536 351.7,546 346.5,555 335.4,571.1 328.8,579 322.2,586 314.7,593 307.4,598.9 291.4,609.7 273.4,619.1 253.4,626.8 231.4,632.9 208.4,637 184.4,639.3 159.4,639.7Z"/>
<path fill="#83ff7c" d="M159.4,181 184.4,181.3 208.4,183.3 230.4,186.9 250.4,192.1 269.4,199.1 287.4,208.1 303.4,218.5 311.4,224.8 318.3,231 331.3,245 342.2,260 352,277 360.4,296.1 367.3,317 372.8,340 376.6,364 378.7,389 379.2,416 377.7,443 374.4,469 369.4,492.8 362.8,515 354.7,535 345.1,553 339.4,561.8 333.3,570 327.4,577.1 320.4,584.5 306.1,597 297.8,603 289.4,608.3 271.4,617.5 251.4,625.2 230.4,631 207.4,635.1 183.4,637.3 159.4,637.8Z"/>
<path fill="#8bff74" d="M159.4,183 159.4,182.6 181.4,182.9 206.8,185 228.4,188.5 249.4,194 268.4,201.1 286.1,210 302.4,220.7 316.4,232.4 329.1,246 340.4,261.4 350,278 358.4,297 365.4,317.9 370.7,340 374.6,364 376.8,389 377.2,416 375.8,442 372.7,467 367.7,491 361.2,513 353.1,533 343.4,551.4 337.8,560 331.9,568 319.4,582.2 312.1,589 304.4,595.4 288.4,606.2 270.4,615.6 250.4,623.3 229.4,629.1 207.4,633.1 183.4,635.3 159.4,635.8Z"/>
<path fill="#93ff6c" d="M159.4,185 159.4,184.5 179.4,184.7 205.4,186.7 227.4,190.4 247.4,195.6 266.4,202.6 284.4,211.6 300.3,222 314.6,234 327.4,247.6 338.7,263 348.5,280 356.9,299 363.8,320 369.1,342 372.7,365 374.9,390 375.3,416 373.9,442 370.6,467 365.6,491 358.9,513 350.7,533 341,551 329.8,567 317.3,581 309.7,588 302.4,594 286.4,604.8 268.5,614 249.4,621.4 228.4,627.2 206.4,631.2 182.4,633.4 159.4,633.8Z"/>
<path fill="#9bff64" d="M159.4,187 159.4,186.3 177.4,186.5 203.4,188.4 225.4,192 246.4,197.5 265.4,204.6 283.4,213.7 299.1,224 313.3,236 326.3,250 337.3,265 347,282 354.9,300 361.6,320 367,342 370.7,365 372.9,390 373.3,416 371.9,442 368.6,467 363.7,490 357.3,511 349.2,531 339.5,549 328.4,565 316,579 308.5,586 301.4,591.8 285.4,602.7 268.4,611.6 249.4,619.1 228.4,625 206.4,629.1 182.4,631.4 159.4,631.8Z"/>
<path fill="#a3ff5c" d="M159.4,189 159.4,188.2 176.4,188.3 202.4,190.3 224.4,193.9 245.4,199.4 264.4,206.6 281.4,215.1 297.4,225.6 312,238 324.4,251.3 335.4,266.3 345,283 353.4,302 360,322 365.3,344 369,367 371,391 371.4,417 369.9,442 366.7,466 361.8,489 355.4,510 347.2,530 337.4,548 326.2,564 313.6,578 299.4,590.4 283.8,601 266.4,610.1 247.4,617.5 226.4,623.3 204.4,627.3 181.4,629.4 159.4,629.8Z"/>
<path fill="#abff54" d="M159.4,191 159.4,190.1 175.4,190.2 188.4,190.9 201.4,192.1 223.4,195.8 244.4,201.4 263.4,208.6 280.4,217.2 296.4,227.8 310.4,239.7 322.8,253 333.7,268 343.4,284.9 351.4,303 358.1,323 363.4,344.9 367.1,368 369,391 369.4,416 368,441 364.8,465 359.9,488 353.4,509.2 345.2,529 335.4,546.9 324.4,562.5 312.3,576 298.4,588.2 282.7,599 265.4,608.1 246.4,615.6 226.4,621.2 204.4,625.2 181.4,627.4 159.4,627.8Z"/>
<path fill="#b3ff4c" d="M159.4,193 159.4,192.1 174.4,192.2 187.4,192.8 200.4,194 222.4,197.7 243.4,203.3 261.4,210.1 278.9,219 294.4,229.2 308.4,241 320.6,254 331.6,269 341.4,285.9 349.5,304 356.2,324 361.4,345.4 365,368 367.1,392 367.4,417 365.9,442 362.6,466 357.7,488 351.2,509 343.2,528 333.9,545 322.6,561 310,575 296.2,587 280.4,597.7 263.4,606.5 244.4,613.9 224.4,619.5 202.4,623.4 180.4,625.4 159.4,625.7Z"/>
<path fill="#bbff44" d="M159.4,195 159.4,194.1 174.4,194.2 187.4,194.8 200.4,196.1 222.4,199.8 242.4,205.3 260.4,212.1 277.8,221 293.4,231.3 307.1,243 319.4,256.3 330.2,271 339.4,287 347.5,305 354.3,325 359.4,346 363.1,369 365.1,392 365.4,417 363.9,441 360.7,465 355.8,487 349.4,507.6 341.4,526.6 331.8,544 321.3,559 308.7,573 295,585 279.4,595.6 262.4,604.5 243.4,612 223.4,617.5 202.4,621.3 180.4,623.4 159.4,623.7Z"/>
<path fill="#c3ff3c" d="M159.4,197 159.4,196.1 174.4,196.2 187.4,196.8 199.4,198 221.4,201.8 241.4,207.2 259.4,214.1 276.4,222.8 291.7,233 305.4,244.6 317.8,258 328.4,272.4 337.9,289 345.9,307 352.4,326.1 357.5,347 361.1,369 363.1,392 363.4,416 362,440 358.8,464 353.9,486 347.7,506 339.7,525 330.4,542 319.4,557.6 307.4,571 293.4,583.2 278.4,593.5 261.4,602.5 243.4,609.7 223.4,615.3 202.4,619.2 180.4,621.3 159.4,621.6Z"/>
<path fill="#cbff34" d="M159.4,199 159.4,198.1 174.4,198.2 187.4,198.9 199.4,200.1 220.4,203.7 240.4,209.2 258.4,216.1 275.4,224.9 290.4,235 304.4,246.9 316.4,260 327.3,275 336.4,291 344.4,309 350.7,328 355.8,349 359.3,371 361.1,393 361.4,417 360,440 356.8,463 352,485 345.7,505 337.7,524 328.3,541 317.4,556.3 305,570 291.4,581.8 276.4,592 259.4,600.9 241.4,608 221.4,613.6 200.4,617.4 179.4,619.3 159.4,619.5Z"/>
<path fill="#d3ff2c" d="M159.4,201 159.4,200.2 174.4,200.3 198.4,202.1 219.4,205.7 239.4,211.2 257,218 273.4,226.4 288.4,236.4 302.4,248.3 314.4,261.2 325.2,276 334.4,292 342.4,310 348.8,329 353.9,350 357.3,372 359.1,394 359.3,418 357.8,441 354.5,464 349.8,485 343.4,504.9 335.7,523 326.2,540 315.5,555 303.4,568.3 289.9,580 275.3,590 258.4,598.9 240.4,606 221.4,611.4 200.4,615.2 179.4,617.2 159.4,617.5Z"/>
<path fill="#dbff24" d="M159.4,203 159.4,202.2 175.4,202.4 198.4,204.2 219.4,207.9 238.4,213.2 255.9,220 272.4,228.5 287.4,238.6 300.8,250 312.8,263 323.4,277.5 332.4,293.1 340.4,311 346.8,330 351.7,350 355.3,372 357.1,394 357.3,417 355.9,440 352.6,463 347.8,484 341.4,504 333.6,522 324.4,538.5 314.1,553 302.4,566 288.7,578 273.4,588.4 257.4,596.9 239.4,604 220.4,609.4 200.4,613.1 179.4,615.1 159.4,615.4Z"/>
<path fill="#e3ff1c" d="M159.4,205 159.4,204.3 176.4,204.5 198.4,206.4 218.4,209.9 237.4,215.2 255.4,222.3 271.4,230.6 286.4,240.8 299.4,252 311.4,265 321.6,279 330.8,295 338.4,312 344.9,331 349.8,351 353.3,373 355.1,395 355.3,418 353.8,440 350.7,462 345.9,483 339.4,503 331.6,521 322.4,537.3 311.8,552 300,565 286.4,576.8 271.4,586.9 255.4,595.3 237.4,602.3 218.4,607.6 198.4,611.2 178.4,613 159.4,613.2Z"/>
<path fill="#ebff14" d="M159.4,207 159.4,206.5 176.4,206.6 198.4,208.5 218.4,212.2 237.4,217.6 254.4,224.3 270.4,232.7 285.4,243 298.1,254 310,267 320.1,281 329.3,297 336.8,314 342.9,332 347.8,352 351.2,373 353.1,395 353.2,418 351.7,440 348.5,462 343.9,482 337.8,501 330.1,519 321.1,535 310.4,550 298.6,563 285.4,574.5 270.4,584.8 254.4,593.2 237.4,600 218.4,605.4 198.4,609 178.4,610.8 159.4,611.1Z"/>
<path fill="#f3ff0c" d="M159.4,209 159.4,208.6 177.4,208.8 198.4,210.7 217.4,214.2 236.4,219.6 253.4,226.4 269.4,234.9 283.4,244.4 296.4,255.7 308.4,268.8 318.4,282.6 327.2,298 334.8,315 341,333 345.9,353 349.2,374 351,395 351.2,417 349.7,439 346.6,461 342,481 335.8,500 328,518 319,534 308.4,548.7 296.4,561.8 283.5,573 269.4,582.6 253.4,591.1 236.3,598 217.4,603.4 198.4,606.8 178.4,608.7 159.4,609Z"/>
<path fill="#fbff04" d="M159.4,211 178.4,211 198.4,212.9 217.4,216.5 235.4,221.7 252.4,228.5 267.4,236.4 281.5,246 294.4,257.1 306.3,270 316.4,283.8 325.2,299 332.8,316 339,334 343.9,354 347.1,374 348.9,395 349.1,417 347.6,439 344.6,460 340,480 333.8,499 326.4,516.1 317.4,532.1 306.7,547 295.4,559.5 282.2,571 267.6,581 252.4,589 235.4,595.9 217.4,601.1 198.4,604.6 178.4,606.5 159.4,606.8Z"/>
<path fill="#fffb00" d="M159.4,213 179.4,213.3 198.4,215.1 217.4,218.8 235.2,224 251.4,230.6 267,239 280.4,248.2 293.4,259.5 304.8,272 315,286 323.6,301 331.2,318 337.3,336 341.9,355 345.1,375 346.9,396 347,418 345.5,439 342.4,460 337.7,480 331.4,499 323.9,516 314.7,532 304.5,546 293.4,558.1 280.4,569.4 266.3,579 250.4,587.4 233.4,594.2 215.4,599.2 196.4,602.7 177.4,604.4 159.4,604.6Z"/>
<path fill="#fff300" d="M159.4,216 159.4,215.1 173.4,215.2 195.4,216.9 214.4,220.4 232.4,225.5 248.8,232 264.4,240.2 278.4,249.7 291.4,260.9 302.6,273 312.8,287 321.5,302 329.2,319 335.3,337 339.9,356 343.1,376 344.8,396 344.9,418 343.4,439 340.4,459 335.7,479 329.8,497 322.3,514 313.4,529.7 303.4,543.5 292.1,556 279.4,567.1 265.4,576.8 250.1,585 233.4,591.7 215.4,596.9 196.4,600.5 177.4,602.2 159.4,602.4Z"/>
<path fill="#ffeb00" d="M159.4,218 159.4,217.3 174.4,217.4 195.4,219.2 214.4,222.7 232.4,227.9 248.4,234.4 263.4,242.3 277.4,251.9 290.1,263 301.4,275.4 311.3,289 319.9,304 327.1,320 333,337 337.7,356 341,376 342.6,396 342.8,417 341.4,438 338.4,458 333.7,478 327.7,496 320.4,512.6 311.7,528 301.6,542 290.4,554.3 277.4,565.6 263.4,575.2 248.4,583.2 231.4,590 214.4,594.8 196.4,598.2 177.4,600 159.4,600.2Z"/>
<path fill="#ffe300" d="M159.4,220 159.4,219.6 176.4,219.8 195.4,221.5 214.2,225 231.4,230 247.4,236.5 262.4,244.6 276.1,254 288.4,264.7 299.4,276.7 309.1,290 317.8,305 325,321 330.9,338 335.7,357 338.8,376 340.5,396 340.7,417 339.3,437 336.4,457 331.9,476 326,494 318.6,511 310.1,526 300.1,540 289.2,552 276.4,563.3 262.4,573 247.5,581 231.4,587.5 214.4,592.5 196.4,595.9 177.4,597.7 159.4,598Z"/>
<path fill="#ffdb00" d="M159.4,222 178.4,222.1 196.4,223.9 213.4,227.2 230.4,232.1 246.4,238.7 260.4,246.2 274.4,255.8 286.4,266.2 297.4,278.1 307.4,291.7 315.7,306 323,322 328.9,339 333.4,357 336.6,376 338.4,396 338.5,417 337.1,437 334.3,456 329.9,475 324,493 317,509 308.4,524.2 298.4,538.2 287.4,550.4 275.4,561 261.4,570.8 246.4,578.9 230.4,585.4 213.4,590.4 195.4,593.8 177.4,595.5 159.4,595.7Z"/>
<path fill="#ffd300" d="M159.4,225 159.4,224.1 172.4,224.2 193.4,225.8 211.4,229.1 228.4,233.9 244.4,240.4 258.7,248 272.4,257.3 284.7,268 295.8,280 305.3,293 313.5,307 320.9,323 326.8,340 331.4,358 334.5,377 336.2,397 336.4,417 335,437 332.1,456 327.6,475 321.5,493 314.4,508.9 305.7,524 296.2,537 285.3,549 272.7,560 259.4,569.1 244.8,577 229.4,583.2 212.4,588.2 194.4,591.6 176.4,593.2 159.4,593.4Z"/>
<path fill="#ffcb00" d="M159.4,227 159.4,226.4 174.4,226.5 193.4,228.1 210.4,231.2 227.4,236.1 242.4,242.1 257.4,250 270.5,259 283.3,270 294.2,282 303.8,295 311.9,309 319.2,325 325,342 329.4,359.5 332.4,378 334.1,397 334.2,417 332.7,437 329.8,456 325.5,474 319.8,491 312.7,507 304.1,522 294.4,535.4 283.4,547.4 271.4,557.9 258.2,567 243.4,575 228.4,581.1 211.4,586 194.4,589.3 176.4,590.9 159.4,591.1Z"/>
<path fill="#ffc300" d="M159.4,229 176.4,228.9 194.4,230.6 211.4,233.9 227.4,238.7 242.4,244.8 256.4,252.3 269.4,261.2 281.7,272 292.4,283.6 301.5,296 309.7,310 317.1,326 322.7,342 327.2,360 330.2,378 331.9,397 332,417 330.6,436 327.7,455 323.4,473 317.7,490 311,505 302.5,520 293.2,533 282.4,544.9 270.4,555.5 257.4,564.6 243.4,572.3 227.4,578.9 211.4,583.6 194.4,586.9 176.4,588.6 159.4,588.8Z"/>
<path fill="#ffbb00" d="M159.4,232 159.4,231 171.4,231.1 191.4,232.6 208.4,235.6 225.4,240.5 240.4,246.6 254.4,254 267.4,262.9 279.4,273.2 289.5,284 299.2,297 307.5,311 314.5,326 320.4,342.5 324.9,360 328,378 329.6,397 329.8,416 328.5,435 325.6,454 321.4,471.6 315.9,488 308.9,504 300.9,518 291.4,531.2 280.8,543 269.4,553.1 256.4,562.3 242.4,570 227.4,576.3 211.4,581.2 194.4,584.5 176.4,586.3 159.4,586.5Z"/>
<path fill="#ffb300" d="M159.4,234 159.4,233.4 173.4,233.5 191.4,235 208.4,238.1 224.4,242.7 239.4,248.8 253.4,256.3 266,265 277.6,275 288.4,286.6 297.6,299 305.8,313 312.8,328 318.4,344 322.8,361 325.8,379 327.4,397 327.6,416 326.2,435 323.5,453 319.2,471 313.4,488 306.7,503 298.6,517 289.4,529.7 279.2,541 267.4,551.5 254.4,560.6 240.4,568.2 225.4,574.4 209.4,579.2 193.4,582.3 176.4,583.9 159.4,584.1Z"/>
<path fill="#ffab00" d="M159.4,236 176.4,236 192.4,237.6 208.4,240.6 224.4,245.4 238.4,251.1 252.4,258.7 264.5,267 276.4,277.3 286.4,288.1 295.9,301 303.6,314 310.6,329 316.3,345 320.4,361 323.5,379 325.1,397 325.3,416 324.1,434 321.4,452 317,470 311.6,486 304.9,501 297,515 287.6,528 277.4,539.2 265.4,549.8 252.4,558.9 239.4,565.9 224.9,572 209.4,576.7 193.4,579.8 176.4,581.5 159.4,581.7Z"/>
<path fill="#ffa300" d="M159.4,239 159.4,238.2 171.4,238.3 190.4,239.7 206.4,242.7 222.4,247.3 236.5,253 250.4,260.4 262.9,269 274.4,278.9 284.7,290 293.6,302 301.4,315 308.4,330 314.1,346 318.3,362 321.2,379 322.9,397 323.1,415 321.9,433 319.2,451 315.2,468 309.8,484 303.2,499 295.3,513 285.9,526 275.4,537.6 264.4,547.4 252.2,556 238.4,563.6 223.4,569.9 208.4,574.4 192.4,577.5 176.4,579.1 159.4,579.3Z"/>
<path fill="#ff9b00" d="M159.4,241 159.4,240.7 174.4,240.8 191.4,242.3 207.4,245.4 222.4,249.9 236.4,255.7 249.4,262.8 261.4,271.1 272.8,281 283,292 291.9,304 299.6,317 306.6,332 312.2,348 316.3,364 319.1,381 320.6,398 320.7,416 319.4,434 316.8,451 312.7,468 307.2,484 300.4,499 292.4,512.8 283.5,525 273.4,536 262,546 249.4,554.7 236.4,561.8 222.4,567.6 207.4,572.1 191.4,575.2 175.4,576.7 159.4,576.9Z"/>
<path fill="#ff9300" d="M159.4,244 159.4,243.1 170.4,243.2 188.4,244.4 204.4,247.3 220.4,251.9 234.4,257.6 248,265 260.4,273.6 271.2,283 281.3,294 290.2,306 297.8,319 304.4,333 309.7,348 313.9,364 316.8,381 318.3,398 318.4,416 317.2,433 314.6,450 310.5,467 305.4,482 298.7,497 290.6,511 281.8,523 271.8,534 260.4,544 248.4,552.3 235.4,559.4 221.4,565.3 206.4,569.7 191.4,572.7 175.4,574.2 159.4,574.4Z"/>
<path fill="#ff8b00" d="M159.4,246 159.4,245.6 174.4,245.8 190.4,247.3 205.4,250.1 220.4,254.6 233.4,260 246.4,267 258.4,275.3 269.4,284.9 279.4,295.7 287.8,307 295.5,320 302.1,334 307.5,349 311.6,365 314.4,381 315.9,398 316.1,415 314.9,432 312.4,449 308.4,465.4 303.1,481 296.9,495 289.4,508.1 280.4,520.6 270.4,531.7 259.4,541.4 247.4,549.9 234.5,557 220.4,562.9 206.4,567.1 191.4,570.1 175.4,571.7 159.4,571.9Z"/>
<path fill="#ff8300" d="M159.4,249 159.4,248.2 170.4,248.2 188.4,249.5 203.4,252.3 218.4,256.7 231.4,262 244.5,269 256.4,277.1 267.4,286.6 277.4,297.4 286,309 293.4,321.4 299.8,335 305.2,350 309.2,365 312,381 313.5,398 313.7,415 312.5,432 309.9,449 306,465 300.8,480 294.5,494 287,507 278.4,518.9 268.4,529.9 258.2,539 246.4,547.4 233.4,554.6 219.4,560.5 205.4,564.7 190.4,567.7 175.4,569.2 159.4,569.4Z"/>
<path fill="#ff7c00" d="M159.4,251 174.4,250.9 189.4,252.3 204.4,255.2 218.4,259.5 231.6,265 244.3,272 255.7,280 266,289 275.3,299 283.5,310 291.3,323 297.5,336 302.9,351 306.9,366 309.7,382 311.1,398 311.3,415 310.1,432 307.6,448 303.7,464 298.5,479 292.4,492.5 285.2,505 276.5,517 267.4,527.2 256.4,537 245.2,545 232.4,552.2 219.4,557.7 205.4,562.1 190.4,565.1 175.4,566.6 159.4,566.8Z"/>
<path fill="#ff7400" d="M159.4,254 159.4,253.3 171.4,253.4 187.4,254.6 202.4,257.4 216.4,261.6 229.4,266.9 241.4,273.3 252.6,281 263.4,290.2 272.6,300 281.4,311.6 288.9,324 295.1,337 300.3,351 304.3,366 307.2,382 308.7,398 308.9,415 307.8,431 305.3,447 301.7,462 296.6,477 290.4,490.7 283.4,503 274.7,515 265.4,525.4 254.6,535 243.4,543 231.4,549.7 218.4,555.3 204.4,559.6 190.4,562.5 175.4,564 159.4,564.2Z"/>
<path fill="#ff6c00" d="M159.4,256 175.4,256.2 189.4,257.6 203.4,260.4 216.4,264.4 229.4,269.9 241.4,276.5 252.4,284.3 262.4,293 271.6,303 279.8,314 287,326 293.4,339.6 298.4,353.5 302.2,368 304.8,383 306.3,399 306.4,415 305.3,431 302.8,447 299,462 294.2,476 288.3,489 281.4,501.1 272.9,513 263.4,523.5 253.4,532.5 242.4,540.4 230.4,547.1 217.4,552.8 203.9,557 189.4,559.9 175.4,561.3 159.4,561.6Z"/>
<path fill="#ff6400" d="M159.4,259 159.4,258.6 172.4,258.7 187.4,260 201.4,262.7 214.4,266.6 227.4,272 239.4,278.5 250.4,286.2 260.4,294.9 269.4,304.6 277.4,315.2 284.5,327 290.7,340 295.9,354 299.6,368 302.3,383 303.8,399 303.9,415 302.8,431 300.4,446 296.6,461 291.8,475 285.9,488 278.4,500.8 270.4,511.7 261.4,521.6 251.4,530.5 240.4,538.4 228.4,545.1 215.4,550.6 202.4,554.6 188.4,557.4 174.4,558.7 159.4,558.9Z"/>
<path fill="#ff5c00" d="M159.4,262 159.4,261.4 170.4,261.4 186.4,262.6 200.4,265.3 213.4,269.1 225.4,274.1 237.4,280.6 248.4,288.2 258.4,296.8 267.4,306.5 275.4,317.1 282.4,328.7 288.4,341.3 293.4,355 297.2,369 299.9,384 301.3,399 301.4,415 300.3,430 298,445 294.5,459 289.7,473 283.9,486 277,498 269.1,509 260.1,519 250.1,528 239.4,535.7 227.4,542.5 214.5,548 201.5,552 188.4,554.6 174.4,556 159.4,556.2Z"/>
<path fill="#ff5400" d="M159.4,265 159.4,264.1 168.4,264.1 184.4,265.2 198.4,267.7 211.4,271.4 223.4,276.3 235.4,282.7 246.4,290.2 256.4,298.8 265.4,308.5 273.3,319 280.4,330.8 286.2,343 291,356 294.8,370 297.3,384 298.7,399 298.9,414 297.8,429 295.5,444 292.1,458 287.4,471.6 281.9,484 275,496 267.1,507 258.2,517 248.4,525.7 237.4,533.6 226.4,539.8 214.4,545 201.4,549.1 188.4,551.8 174.4,553.2 159.4,553.4Z"/>
<path fill="#ff4c00" d="M159.4,267 173.4,267 186.4,268.3 199.4,270.8 211.4,274.4 223.4,279.4 234.4,285.4 245.3,293 254.5,301 263.4,310.5 271.3,321 277.9,332 283.7,344 288.5,357 292.3,371 294.8,385 296.1,399 296.3,414 295.2,429 293,443 289.6,457 285.1,470 279.4,482.7 273,494 265.1,505 256.4,514.7 247.3,523 236.4,530.9 225.4,537.1 213.4,542.4 200.4,546.5 187.4,549.1 174.4,550.4 159.4,550.6Z"/>
<path fill="#ff4400" d="M159.4,270 172.4,269.9 185.4,271 198.4,273.5 210.4,277.1 222,282 233,288 243.1,295 252.4,303 260.9,312 268.5,322 275.3,333 281.1,345 286,358 289.5,371 292.1,385 293.4,399 293.6,414 292.7,428 290.5,442 287.1,456 282.6,469 277.2,481 270.4,492.7 263,503 254.4,512.6 245.4,520.7 235.4,528 224.4,534.4 212.4,539.7 200.4,543.5 187.4,546.2 174.4,547.6 159.4,547.8Z"/>
<path fill="#ff3c00" d="M159.4,273 159.4,272.7 171.4,272.7 184.4,273.8 197.4,276.3 209.4,279.9 220.4,284.5 231.4,290.4 241.4,297.4 250.4,305.1 258.8,314 266.4,324 273.1,335 278.5,346 283,358 286.7,371 289.3,385 290.7,399 291,414 289.9,428 287.7,442 284.5,455 280,468 274.5,480 268.1,491 260.9,501 252.4,510.4 243.4,518.6 233.4,525.8 222.6,532 211.4,536.9 199.4,540.7 187.4,543.3 174.4,544.7 159.4,544.9Z"/>
<path fill="#ff3400" d="M159.4,276 159.4,275.6 171.4,275.7 184.4,276.8 196.4,279.1 208.4,282.7 219.4,287.3 230.4,293.4 240.4,300.4 249.1,308 257.4,317 264.4,326.3 270.9,337 276.4,348.4 280.7,360 284.3,373 286.7,386 288.1,400 288.2,414 287.3,427 285.1,441 281.9,454 277.7,466 272.3,478 265.9,489 258.7,499 250.4,508.2 241.4,516.3 231.4,523.5 221.4,529.2 210.4,534.1 198.4,537.9 186.4,540.4 174.4,541.7 159.4,541.9Z"/>
<path fill="#ff2c00" d="M159.4,279 159.4,278.6 171.4,278.7 183.4,279.7 195.4,282 206.4,285.2 217.4,289.7 228.4,295.7 237.5,302 246.8,310 254.4,318.1 262,328 268.4,338.5 273.9,350 278.4,362 281.7,374 284,387 285.3,400 285.4,414 284.5,427 282.4,440 279.2,453 275,465 269.5,477 263.4,487.4 256.4,497 248.4,505.9 239.5,514 230.4,520.5 220.4,526.3 209.4,531.2 198.4,534.8 186.4,537.4 174.4,538.7 159.4,538.9Z"/>
<path fill="#ff2400" d="M159.4,282 171.4,281.8 182.4,282.7 194.4,284.9 205.4,288.2 216.4,292.7 226.4,298.1 235.4,304.3 244.4,312 252.4,320.5 259.7,330 265.8,340 271.2,351 275.6,363 278.9,375 281.1,387 282.4,400 282.6,414 281.6,427 279.5,440 276.4,452 272.2,464 267.2,475 261.4,485 254.4,494.6 247,503 238.4,510.8 229.4,517.5 219.4,523.3 208.4,528.3 197.4,531.8 186.4,534.2 174.4,535.6 159.4,535.8Z"/>
<path fill="#ff1c00" d="M159.4,285 171.4,284.9 182.4,285.9 193.4,287.9 204.4,291.2 214.4,295.3 224.4,300.6 233.7,307 242.4,314.5 250.4,323 257.3,332 263.4,342 268.3,352 272.5,363 275.9,375 278.2,387 279.5,400 279.7,413 278.9,425 276.9,438 273.9,450 270.2,461 265.3,472 259.4,482.3 252.5,492 245.4,500.1 236.9,508 228.4,514.3 218.4,520.3 208.4,524.9 197.4,528.6 186.4,531 174.4,532.4 159.4,532.7Z"/>
<path fill="#ff1400" d="M159.4,289 159.4,288.1 171.4,288.2 179.4,288.8 191.4,290.8 202.4,293.9 212.5,298 222.4,303.2 231.4,309.3 240.4,317 247.9,325 254.8,334 260.9,344 265.8,354 270,365 273.1,376 275.3,388 276.5,400 276.8,412 276,424 274.2,436 271.4,448 267.7,459 262.8,470 257.2,480 250.4,489.5 243,498 234.4,505.8 225.4,512.4 216.4,517.7 206.4,522.2 196.4,525.5 185.4,527.9 174.4,529.2 159.4,529.4Z"/>
<path fill="#ff0c00" d="M159.4,292 159.4,291.4 168.4,291.4 180.4,292.2 191.4,294.2 201.4,297.1 211.4,301.1 220.6,306 229.4,312 237.7,319 245.4,327 251.6,335 257.4,344.2 262.8,355 267,366 270.1,377 272.2,388 273.5,400 273.7,412 273,424 271.1,436 268.4,447 264.7,458 260.3,468 254.6,478 248.3,487 241.3,495 233.4,502.4 224.6,509 215.4,514.4 205.4,519 195.4,522.3 185.4,524.6 174.4,525.9 159.4,526.1Z"/>
<path fill="#ff0400" d="M159.4,295 171.4,294.9 181.4,295.7 191.4,297.7 201.4,300.7 210.4,304.4 219.4,309.2 227.8,315 236,322 243.4,329.8 249.6,338 255.2,347 260.2,357 264,367 267.1,378 269.2,389 270.4,400 270.6,412 269.9,423 268.1,435 265.4,446 261.7,457 257.1,467 252,476 245.6,485 238.6,493 231,500 222.4,506.4 213.4,511.7 204.4,515.7 194.4,519.1 184.4,521.3 173.4,522.6 159.4,522.7Z"/>
<path fill="#fb0000" d="M159.4,299 159.4,298.3 170.4,298.3 178.4,298.9 188.4,300.5 198.4,303.3 208.4,307.3 217.2,312 225.4,317.5 233.4,324.3 240.4,331.6 246.9,340 252.4,348.7 257,358 260.9,368 263.8,378 266,389 267.2,400 267.4,412 266.7,423 265,434 262.4,444.8 258.9,455 254.4,465 249.3,474 243.4,482.3 236.7,490 229.2,497 221.2,503 212.4,508.2 203.4,512.4 193.4,515.8 183.4,518 173.4,519.1 159.4,519.3Z"/>
<path fill="#f30000" d="M159.4,302 170.4,301.9 179.4,302.6 189.4,304.4 198.4,307.1 207.4,310.8 215.4,315.1 223.4,320.5 231.1,327 237.8,334 244.1,342 249.2,350 253.7,359 257.7,369 260.6,379 262.7,389 263.9,400 264.2,411 263.5,422 261.9,433 259.5,443 256.1,453 251.6,463 246.5,472 240.8,480 234.4,487.3 227.2,494 219.4,499.9 210.9,505 202.3,509 192.4,512.3 183.4,514.3 173.4,515.5 159.4,515.7Z"/>
<path fill="#eb0000" d="M159.4,306 159.4,305.5 168.4,305.5 178.4,306.2 187.4,307.8 196.4,310.3 205.4,313.9 213.4,318.2 221.4,323.6 228.4,329.4 235.4,336.7 241.1,344 246.4,352.3 250.8,361 254.4,370 257.4,380 259.4,390 260.5,400 260.8,411 260.2,421 258.8,431 256.4,441.2 253.1,451 249.2,460 244.2,469 238.6,477 232.4,484.1 225.1,491 217.4,496.8 209.4,501.6 201.4,505.3 192.4,508.5 183.4,510.6 173.4,511.8 159.4,512Z"/>
<path fill="#e30000" d="M159.4,310 159.4,309.4 170.4,309.4 177.4,309.9 186.4,311.5 195.4,314 204.4,317.7 212.3,322 219.6,327 226.4,332.7 232.4,339 238.4,346.5 243.4,354.4 247.8,363 251.3,372 254,381 256,391 257.1,401 257.3,411 256.7,421 255.2,431 252.8,441 249.7,450 245.6,459 241.1,467 235.4,475 229.4,481.8 222.8,488 215.4,493.6 208.1,498 199.5,502 191.4,504.8 182.4,506.9 173.4,508 159.4,508.2Z"/>
<path fill="#db0000" d="M159.4,314 159.4,313.3 176.4,313.8 185.4,315.3 193.4,317.5 201.4,320.7 209.4,324.8 216.4,329.5 223.4,335.3 229.9,342 235.4,348.9 240.4,356.8 244.4,364.6 247.7,373 250.4,382 252.3,391 253.4,401 253.7,411 253.2,420 251.7,430 249.5,439 246.5,448 242.4,457 237.9,465 232.9,472 226.8,479 220.4,484.9 213.4,490.2 206.4,494.4 198.4,498.2 190.4,500.9 182.4,502.8 173.4,504 159.4,504.2Z"/>
<path fill="#d30000" d="M159.4,318 159.4,317.4 175.4,317.9 183.4,319.1 191.4,321.2 199.4,324.3 206.7,328 213.4,332.3 220.4,338 226.4,344 232,351 236.6,358 240.8,366 244,374 246.8,383 248.6,392 249.7,401 250,410 249.5,419 248.2,428 246.1,437 243.1,446 239.6,454 235.4,461.5 230.4,468.7 225,475 218.8,481 212.4,485.9 205.4,490.3 197.4,494.1 189.4,496.9 181.4,498.8 173.4,499.9 159.4,500.1Z"/>
<path fill="#cb0000" d="M159.4,322 168.4,321.8 176.4,322.3 184.4,323.7 191.4,325.7 198.4,328.5 205.4,332.2 212.4,336.9 218.4,341.9 224.3,348 229.1,354 233.4,360.7 237.2,368 240.5,376 242.9,384 244.6,392 245.7,401 246,410 245.5,419 244.2,428 242.3,436 239.6,444 236,452 232.1,459 227.4,465.8 222.1,472 216.4,477.4 210.4,482.1 203.4,486.5 196.2,490 188.4,492.8 181.4,494.4 173.4,495.5 159.4,495.8Z"/>
<path fill="#c30000" d="M159.4,327 159.4,326.3 174.4,326.6 182.4,327.9 189.4,329.8 196.4,332.5 203.1,336 209.4,340.2 215.3,345 220.4,350.1 225.4,356.3 229.8,363 233.5,370 236.4,377 238.9,385 240.6,393 241.6,401 241.9,410 241.5,418 240.4,426 238.5,434 235.8,442 232.8,449 228.9,456 224.4,462.6 219.4,468.5 213.6,474 207.4,478.8 201.4,482.5 195.4,485.4 188.4,488 181.4,489.8 173.4,491 159.4,491.3Z"/>
<path fill="#bb0000" d="M159.4,332 159.4,331 172.4,331.2 179.4,332.1 186.4,333.8 193.4,336.4 199.4,339.3 205.4,343.1 211.6,348 216.7,353 221.7,359 225.7,365 229.4,371.8 232.4,378.9 234.6,386 236.2,393 237.3,401 237.6,409 237.2,417 236.1,425 234.5,432 232.3,439 229.3,446 225.5,453 221.4,459 216.4,464.9 211.4,469.8 206.1,474 200.4,477.6 194.4,480.7 187.4,483.4 180.4,485.2 173.4,486.2 159.4,486.5Z"/>
<path fill="#b30000" d="M159.4,337 159.4,336.1 171.4,336.2 178.4,337.1 185.4,338.8 191.4,341 197.4,343.9 203.4,347.7 208.4,351.7 213.4,356.6 217.4,361.3 221.4,367 224.7,373 227.8,380 230.1,387 231.7,394 232.6,401 233,408 232.7,416 231.8,423 230.2,430 228,437 225.5,443 222.3,449 218.3,455 214.3,460 209.4,465 204.4,469.1 198.4,473 192.4,476.1 186.4,478.4 180.4,480 173.4,481.1 159.4,481.4Z"/>
<path fill="#ab0000" d="M159.4,342 159.4,341.5 172.4,341.8 183.8,344 189.4,346 195.4,349 200.4,352.1 205.3,356 209.4,360 213.7,365 217.4,370.3 220.5,376 225.2,388 227.7,401 228.1,408 227.8,415 225.6,428 221.3,440 218.4,445.5 214.9,451 210.9,456 206.4,460.5 201.4,464.7 196.4,468 190.6,471 185.4,473 179.4,474.7 173.4,475.7 159.4,476Z"/>
<path fill="#a30000" d="M159.4,348 159.4,347.4 170.4,347.5 176.4,348.2 181.4,349.4 191.4,353.4 196.4,356.4 201.2,360 208.9,368 215.4,378 219.8,389 222.3,401 222.6,413 220.8,425 219,431 216.6,437 210.9,447 203.4,455.6 194.4,462.4 184.4,467.2 179.4,468.7 173.4,469.7 159.4,470.1Z"/>
<path fill="#9b0000" d="M159.4,354 171.4,354.1 180.4,355.8 189.4,359.6 197.3,365 204.4,372.2 210.1,381 214.2,391 216.3,401 216.8,412 215.2,423 211.8,433 206.9,442 200.4,449.7 192.4,456.2 183.4,460.7 173.4,463.2 159.4,463.6Z"/>
<path fill="#930000" d="M159.4,362 159.4,361.3 168.4,361.3 176.4,362.4 184.4,365.2 192.1,370 198.4,376 203.4,383 207.4,391.9 209.6,401 210.1,411 209,420 206.1,429 201.9,437 196.2,444 189.4,449.5 181.4,453.6 173.4,455.7 159.4,456.2Z"/>
<path fill="#8b0000" d="M159.4,371 159.4,370.1 168.4,370.1 173.4,370.6 180.4,372.8 186.4,376.3 191.7,381 196.3,387 199.7,394 201.6,401 202.3,408 201.7,416 199.5,424 196.4,430.3 192.3,436 186.4,441.3 180.4,444.7 173.4,446.9 168.4,447.5 159.4,447.5Z"/>
<path fill="#830000" d="M159.4,382 159.4,381.4 170.4,381.6 175.4,382.9 179.4,384.9 183.4,387.9 186.4,391.3 189.2,396 191,401 191.9,406 191.9,412 190.9,417 189,422 186.4,426.2 182.4,430.5 178.4,433.2 173.4,435.3 168.4,436.1 159.4,436.1Z"/>
</g></g>
<rect x="167.4" y="83.0" width="13.8" height="65.5" fill="#fff"/>
<g fill="none" stroke="#000" stroke-width="2.1" stroke-linejoin="round" stroke-linecap="round">
<path d="M167.7,56.8 H508.3 V764.7 H167.7 Z"/>
<path d="M167.7,83.0 H508.3 M167.7,738.5 H508.3 M482.0,56.8 V764.7"/>
<path d="M181.2,56.8 V148.5 H167.7"/>
<path d="M173.3,83.0 V148.5 M175.6,83.0 V148.5" stroke-width="2.2" stroke-linecap="butt"/>
<path d="M175.6,145.3 H181.2" stroke-width="2.2" stroke-linecap="butt"/>
<path d="M167.7,148.1 H181.2" stroke-width="2.6" stroke-linecap="butt"/>
</g>
<g fill="none" stroke="#000" stroke-width="2.3" stroke-linecap="butt">
<rect x="128.5" y="21.0" width="419.2" height="779.0" stroke-linejoin="round"/>
<path d="M167.4,22.0 v12.3 M167.4,799.0 v-12.7 M298.2,22.0 v12.3 M298.2,799.0 v-12.7 M429.1,22.0 v12.3 M429.1,799.0 v-12.7 M129.5,43.7 h12.6 M546.7,43.7 h-11.3 M129.5,109.2 h12.6 M546.7,109.2 h-11.3 M129.5,174.8 h12.6 M546.7,174.8 h-11.3 M129.5,240.3 h12.6 M546.7,240.3 h-11.3 M129.5,305.9 h12.6 M546.7,305.9 h-11.3 M129.5,371.4 h12.6 M546.7,371.4 h-11.3 M129.5,437.0 h12.6 M546.7,437.0 h-11.3 M129.5,502.5 h12.6 M546.7,502.5 h-11.3 M129.5,568.0 h12.6 M546.7,568.0 h-11.3 M129.5,633.6 h12.6 M546.7,633.6 h-11.3 M129.5,699.1 h12.6 M546.7,699.1 h-11.3 M129.5,764.7 h12.6 M546.7,764.7 h-11.3" stroke-linecap="round"/>
</g>
<g class="tk">
<text transform="translate(168.2,838.3) scale(1,1.03)" text-anchor="middle">0</text>
<text transform="translate(300.1,838.3) scale(1,1.03)" text-anchor="middle">0.1</text>
<text transform="translate(431.0,838.3) scale(1,1.03)" text-anchor="middle">0.2</text>
<text transform="translate(120.9,120.8) scale(1,1.03)" text-anchor="end">0.1</text>
<text transform="translate(120.9,186.3) scale(1,1.03)" text-anchor="end">0.05</text>
<text transform="translate(120.9,251.9) scale(1,1.03)" text-anchor="end">0</text>
<text transform="translate(120.9,317.5) scale(1,1.03)" text-anchor="end">-0.05</text>
<text transform="translate(120.9,383.0) scale(1,1.03)" text-anchor="end">-0.1</text>
<text transform="translate(120.9,448.6) scale(1,1.03)" text-anchor="end">-0.15</text>
<text transform="translate(120.9,514.1) scale(1,1.03)" text-anchor="end">-0.2</text>
<text transform="translate(120.9,579.6) scale(1,1.03)" text-anchor="end">-0.25</text>
<text transform="translate(120.9,645.2) scale(1,1.03)" text-anchor="end">-0.3</text>
<text transform="translate(120.9,710.8) scale(1,1.03)" text-anchor="end">-0.35</text>
<text transform="translate(120.9,776.3) scale(1,1.03)" text-anchor="end">-0.4</text>
</g>
<linearGradient id="cba" x1="0" y1="0" x2="0" y2="1"><stop offset="0.000" stop-color="#800000"/><stop offset="0.125" stop-color="#ff0000"/><stop offset="0.375" stop-color="#ffff00"/><stop offset="0.625" stop-color="#00ffff"/><stop offset="0.875" stop-color="#0000ff"/><stop offset="1.000" stop-color="#000080"/></linearGradient>
<rect x="600.0" y="91.5" width="37.4" height="695.9" fill="url(#cba)"/>
<path d="M600.0,89.9 V787.4 H637.4 V89.9 M600.0,91.5 H637.4 M600.0,167.8 h6.8 M637.4,167.8 h-6.8 M600.0,271.2 h6.8 M637.4,271.2 h-6.8 M600.0,374.5 h6.8 M637.4,374.5 h-6.8 M600.0,477.9 h6.8 M637.4,477.9 h-6.8 M600.0,581.2 h6.8 M637.4,581.2 h-6.8 M600.0,684.6 h6.8 M637.4,684.6 h-6.8" fill="none" stroke="#000" stroke-width="2.1"/>
<g class="tk">
<text transform="translate(655.0,178.8) scale(1,1.03)">3</text>
<text transform="translate(655.0,282.2) scale(1,1.03)">2.5</text>
<text transform="translate(655.0,385.5) scale(1,1.03)">2</text>
<text transform="translate(655.0,488.9) scale(1,1.03)">1.5</text>
<text transform="translate(655.0,592.2) scale(1,1.03)">1</text>
<text transform="translate(655.0,695.6) scale(1,1.03)">0.5</text>
<text transform="translate(659.3,33.1) scale(1,1.02)">1/m<tspan class="sup" dx="0.5" dy="-16">3</tspan></text>
<text transform="translate(633.6,73.4) scale(1,1.02)">×<tspan dx="0">1</tspan><tspan dx="-0.9">0</tspan><tspan class="sup" style="font-size:19.4px;letter-spacing:0.2px" dx="0.9" dy="-14.3">16</tspan></text>
</g>
<clipPath id="clipb"><rect x="940.5" y="83.9" width="314.6" height="655.5"/></clipPath>
<g clip-path="url(#clipb)"><g filter="url(#bl)">
<rect x="932.5" y="75.9" width="330.6" height="671.5" fill="#000081"/>
<path fill="#000083" d="M932.5,75.9 1080,75.9 1086.8,87.9 1093.3,100.9 1100.9,113.9 1110.5,132.9 1130.5,179.3 1135.3,187.9 1148.5,209.2 1162.5,230 1171.5,241.9 1180.7,252.9 1206.5,279.3 1226.6,297.9 1261.5,328.3 1263.5,329.6 1263.5,510.1 1261.5,511.3 1227.9,537.9 1188.5,570.6 1170.5,586.2 1160,597.9 1154.2,605.9 1137.8,630.9 1131.4,641.9 1100.1,708.9 1080.2,747.9 932.5,747.9Z"/>
<path fill="#000085" d="M932.5,75.9 1050.8,75.9 1063.8,94.9 1072.4,111.9 1081.1,126.9 1091.1,146.9 1105.8,181.9 1109.5,189.5 1114.9,198.9 1127.5,218.9 1140.5,238 1151.5,252.5 1162.1,264.9 1189.5,293.1 1236.1,337.9 1247.3,349.9 1263.5,368.7 1263.5,472.3 1249.9,486.9 1236.8,499.9 1189.5,541.9 1153.5,572.9 1146.5,579.7 1138.7,588.9 1132.5,597.6 1116.5,621.8 1110,632.9 1104.9,642.9 1078.4,699.9 1064.1,727.9 1052.9,747.9 932.5,747.9Z"/>
<path fill="#000088" d="M932.5,75.9 1032,75.9 1043.5,89.3 1053,103.9 1060,117.9 1067.7,130.9 1077.4,149.9 1096.3,193.9 1103.2,205.9 1120.6,232.9 1134.5,252.3 1148.9,269.9 1176.5,298.9 1210.3,332.9 1222,345.9 1232.5,358.9 1241,370.9 1247.7,382.9 1253.6,396.9 1256.4,407.9 1257.4,418.9 1257.4,424.9 1256.8,430.9 1255.1,438.9 1253.4,444.9 1251,450.9 1247,458.9 1242.9,465.9 1233.2,478.9 1217,496.9 1201.7,511.9 1176,535.9 1140,567.9 1134.1,573.9 1125,584.9 1104.3,615.9 1097.5,627.3 1092.1,637.9 1066,693.9 1051.7,721.9 1036.8,747.9 932.5,747.9Z"/>
<path fill="#00008a" d="M932.5,75.9 1017.1,75.9 1030.4,88.9 1037.6,97.9 1045.2,109.9 1051.5,122.8 1059.3,135.9 1068.5,153.9 1087.5,197.9 1094.5,210.2 1108.4,231.9 1123.5,253.5 1139.5,273.5 1194.5,331.9 1204.9,343.9 1212,352.9 1221.8,366.9 1229,379.9 1235.4,395.9 1238.2,407.9 1239,424.9 1236.8,438.9 1232.9,450.9 1229.2,458.9 1225.2,465.9 1219.8,473.9 1210.4,485.9 1195.8,501.9 1165.6,531.9 1130.6,563.9 1124.8,569.9 1115.5,581.5 1095.4,611.9 1088.9,622.9 1083.2,633.9 1056.6,690.9 1042.7,717.9 1025,747.9 932.5,747.9Z"/>
<path fill="#00008c" d="M932.5,75.9 1003.6,75.9 1015.5,84.9 1025.6,94.9 1030.5,101 1036.4,109.9 1044.5,125.9 1053.3,140.9 1062.9,159.9 1077.6,194.9 1081,201.9 1088.5,214.7 1108.5,245.5 1126.5,269.6 1134.5,279.2 1184.6,333.9 1199.7,352.9 1208.9,366.9 1215.3,378.9 1221.2,394.9 1223.9,406.9 1224.7,423.9 1224.2,429.9 1222.6,438.9 1220.7,445.9 1217.6,453.9 1211.5,465.9 1198.1,484.9 1182.4,502.9 1157.2,528.9 1123.5,560.4 1118.3,565.9 1108.1,578.9 1088.4,608.9 1082.5,618.9 1076.3,630.9 1050.6,685.9 1037.3,711.9 1030.1,724.9 1015.9,747.9 932.5,747.9Z"/>
<path fill="#00008f" d="M932.5,75.9 995,75.9 996.5,79.3 1004.5,84.3 1010.5,88.8 1021.8,99.9 1026.4,105.9 1031.5,113.7 1039.1,128.9 1047.9,143.9 1057,161.9 1071.7,196.9 1075.1,203.9 1082.6,216.9 1102.5,247.6 1119.5,270.8 1128.5,281.9 1170.7,328.9 1180.8,340.9 1189.7,352.9 1199,367.9 1204.4,378.9 1209.9,394.9 1212.3,406.9 1213.1,423.9 1211,438.9 1209.1,445.9 1206.2,453.9 1200.2,465.9 1188.8,482.9 1173.9,500.9 1150.6,525.9 1121.5,553.6 1113.4,561.9 1105.3,571.9 1099.7,579.9 1082.4,606.9 1076.5,616.8 1070.3,628.9 1052,668.9 1031.9,708.9 1018,732.9 1008.1,747.9 932.5,747.9Z"/>
<path fill="#000091" d="M932.5,75.9 992.3,75.9 994.1,81.9 995.5,84.6 1008.4,93.9 1014.7,99.9 1019.1,104.9 1027.9,117.9 1034.2,130.9 1042,143.9 1050.2,159.9 1066.4,197.9 1070.2,205.9 1078.3,219.9 1092.5,242.1 1104.5,259.6 1117.5,276.8 1124.1,284.9 1164.4,330.9 1174,342.9 1183.7,356.9 1191.1,369.9 1195.6,379.9 1200.3,394.9 1202.4,405.9 1203.2,422.9 1201.2,438.9 1199.6,444.9 1196.5,453.9 1190.7,465.9 1180.3,481.9 1166.8,498.9 1144.4,523.9 1108.5,559.3 1100.1,569.9 1094.6,577.9 1077.4,604.9 1070.5,616.9 1065.5,626.9 1047.1,666.9 1026,708.9 1013.1,730.9 1001.6,747.9 932.5,747.9Z"/>
<path fill="#000093" d="M940.8,76.9 941.6,75.9 989.9,75.9 993,85.9 994.5,89.1 1006.5,98.3 1012.2,103.9 1016.5,108.9 1023.8,119.9 1030.1,132.9 1038.5,146.9 1046.7,162.9 1062.3,199.9 1066.2,207.9 1074.2,221.9 1087.5,242.8 1099.5,260.5 1111.6,276.9 1119.6,286.9 1133.7,302.9 1159,332.9 1168.3,344.9 1176.2,356.9 1183.4,369.9 1187.6,379.9 1192.1,394.9 1194,405.9 1194.7,422.9 1192.6,438.9 1188.1,453.9 1185.1,460.9 1181.8,466.9 1173,480.9 1159.1,498.9 1139.1,521.9 1104.3,556.9 1092.5,572.5 1073.3,602.9 1066.5,614.7 1060.9,625.9 1043.1,664.9 1021.9,706.9 1009,728.9 995.7,747.9 932.5,747.9 932.5,77.2Z"/>
<path fill="#000096" d="M944.4,75.9 987.6,75.9 993.5,92.9 994.5,94.1 1003.4,100.9 1009.5,106.9 1014.5,112.9 1020.3,121.9 1026.6,134.9 1035,148.9 1043.7,165.9 1058.5,201.2 1062.1,208.9 1070.5,223.5 1085.5,247.1 1096.5,263.4 1108.5,279.6 1153.6,333.9 1161.8,344.9 1169.1,355.9 1176,368.9 1180.2,378.9 1184.8,394.9 1186.5,405.9 1187.1,422.9 1184.9,439.9 1179.9,455.9 1172.8,469.9 1165.2,481.9 1156.4,493.9 1149.8,501.9 1133.6,520.9 1100.4,554.9 1088.5,570.9 1069.5,601.2 1062.5,613.5 1057.3,623.9 1039.1,663.9 1019,703.9 1005.5,726.9 990.6,747.9 932.5,747.9 932.5,81.3 941.5,81.1 942.5,80.4 943.4,78.9Z"/>
<path fill="#000098" d="M946.8,75.9 985.2,75.9 991.7,93.9 993.5,97.6 1001.4,103.9 1007.5,110 1012.2,115.9 1017.3,123.9 1023.5,136.6 1031.5,149.9 1040.2,166.9 1055.3,202.9 1059.1,210.9 1067.5,225.5 1080.5,246.1 1091.5,262.6 1103.5,279.3 1112.5,290.9 1126.2,306.9 1148.7,334.9 1156.8,345.9 1163.2,355.9 1169.9,368.9 1174,378.9 1178.2,394.9 1179.8,405.9 1180.4,422.9 1178.2,439.9 1175.5,449.9 1173.3,455.9 1165.1,471.9 1160.9,478.9 1151.7,491.9 1134,513.9 1123.2,525.9 1105.5,543.8 1096.5,553.5 1085.2,568.9 1060.3,609.9 1053.8,622.9 1036.1,661.9 1015.4,702.9 1001.9,725.9 996.5,733.9 985.9,747.9 932.5,747.9 932.5,84.9 942.5,84.6 943.5,83.8 944.5,81.9Z"/>
<path fill="#00009a" d="M949.2,75.9 982.8,75.9 992.5,100.5 1002.5,109.4 1008.9,116.9 1014.2,124.9 1020.5,137.9 1028.9,151.9 1038,169.9 1052.6,204.9 1056.5,212.9 1064.5,226.9 1082.5,255.3 1096.5,275.5 1108.8,291.9 1122.3,307.9 1144.4,335.9 1152.2,346.9 1157.8,355.9 1164.8,369.9 1168.3,378.9 1172.3,394.9 1173.8,405.9 1174.2,422.9 1171.9,440.9 1167.3,455.9 1158.8,472.9 1146.8,490.9 1129.6,512.9 1119.9,523.9 1093.5,551.6 1082.4,566.9 1057.5,608.1 1050.6,621.9 1033,660.9 1012.8,700.9 998.7,724.9 993.2,732.9 981.5,747.9 932.5,747.9 932.5,88.1 941.5,88.1 943.5,87.7 945.4,84.9Z"/>
<path fill="#00009c" d="M951.3,76.9 951.7,75.9 980.3,75.9 985.8,87.9 991.5,102.9 993,104.9 1002.5,113.7 1007.4,119.9 1011.9,126.9 1017.6,138.9 1026.6,153.9 1035.2,170.9 1049.8,205.9 1053.7,213.9 1062.2,228.9 1079.5,256.2 1092.5,275.3 1105.5,292.9 1119.6,309.9 1140.4,336.9 1148.1,347.9 1154,357.9 1161,372.9 1164.5,383.9 1167.8,399.9 1168.7,416.9 1168.6,423.9 1167.3,435.9 1164.3,448.9 1160.5,458.9 1152.8,473.9 1142.4,489.9 1125.6,511.9 1116.5,522.4 1090.5,550.1 1079.2,565.9 1054.7,606.9 1047.8,620.9 1030.1,659.9 1010,699.9 997.7,720.9 992.4,728.9 977.3,747.9 932.5,747.9 932.5,91.1 942.5,91.1 944.5,90.5 945.7,88.9Z"/>
<path fill="#00009f" d="M954.5,75.9 977.5,75.9 983.9,87.9 991.5,106.7 1000.8,115.9 1005.5,121.9 1009.9,128.9 1015.6,140.9 1024,154.9 1032.7,171.9 1047.2,206.9 1051.1,214.9 1059.6,229.9 1078.5,259.9 1091.5,278.9 1103.5,295.1 1116.4,310.9 1129.4,327.9 1138.2,339.9 1144.9,349.9 1152,362.9 1156.3,372.9 1158.9,380.9 1162.7,399.9 1163.6,420.9 1162,436.9 1159.2,448.9 1155.9,457.9 1148.5,472.9 1138.3,488.9 1122.7,509.9 1113.4,520.9 1087.5,548.9 1076.3,564.9 1052.5,605 1045.5,619.1 1028.1,657.9 1020.8,672.9 1008,697.9 1002.4,707.9 989.8,727.9 980.5,739.9 973.4,747.9 932.5,747.9 932.5,93.8 943.5,93.8 945.5,92.9Z"/>
<path fill="#0000a1" d="M957.3,76.9 957.9,75.9 974.1,75.9 978.5,81.9 983.9,91.9 990.8,108.9 992.5,111.2 1000.1,118.9 1005.1,125.9 1008.6,131.9 1013.3,141.9 1022.2,156.9 1030.8,173.9 1044.9,207.9 1048.7,215.9 1057.5,231.4 1075.5,260.1 1087.5,277.9 1100.5,295.9 1113.5,311.9 1126.2,328.9 1134.9,340.9 1141.9,351.9 1148.2,363.9 1152.3,373.9 1154.4,380.9 1158.1,399.9 1158.9,420.9 1157.3,436.9 1154.5,448.9 1151.6,456.9 1144.5,471.9 1134.6,487.9 1119.4,508.9 1110.5,519.5 1085.5,546.9 1073.5,564.2 1049.6,604.9 1042.8,618.9 1029,649.9 1018.5,671.9 1006.2,695.9 1000.1,706.9 988.1,725.9 978.1,738.9 969.5,747.9 932.5,747.9 932.5,148.4 939.5,148.2 940.3,146.9 940.2,145.9 939,144.9 932.5,144.8 932.5,96.3 943.5,96.3 945.5,95.9 947.1,93.9 952.5,83.5Z"/>
<path fill="#0000a3" d="M962.4,76.9 964.1,75.9 968.5,76.1 973.5,79.6 978.5,85.7 984,95.9 990.5,111.9 998.7,120.9 1003.7,127.9 1008,135.9 1011.1,142.9 1020.1,157.9 1028.2,173.9 1042.3,207.9 1045.6,214.9 1055.5,232.7 1072.5,260 1085.5,279.5 1098.5,297.5 1110.7,312.9 1123.2,329.9 1131.7,341.9 1138.6,352.9 1144.7,364.9 1148.2,373.9 1150.3,380.9 1153.8,399.9 1154.5,420.9 1153,435.9 1150.1,448.9 1147.2,456.9 1140.2,471.9 1131.1,486.9 1116.2,507.9 1108,517.9 1082.9,545.9 1071.2,562.9 1047.4,603.9 1040.6,617.9 1023.6,655.9 1004.1,694.9 997.3,706.9 986,724.9 975.5,738.3 965.5,747.9 932.5,747.9 932.5,149.1 940.2,148.9 941.1,147.9 941.2,146.9 940.5,144.8 932.5,144.5 932.5,98.7 944.5,98.6 946.5,98 952.5,87.3 955.5,82.9 958.5,79.6Z"/>
<path fill="#0000a6" d="M964.6,79.9 968.5,80.1 972.5,82.3 976,85.9 979.5,90.9 984.2,99.9 990.5,115 997.5,122.9 1002.3,129.9 1009.2,143.9 1018.1,158.9 1026.2,174.9 1040.3,208.9 1043.6,215.9 1053.5,233.7 1070.5,261.1 1082.5,279.3 1096.4,298.9 1108.2,313.9 1120.5,330.9 1128.8,342.9 1135.6,353.9 1141,364.9 1144.8,374.9 1146.7,381.9 1149.7,399.9 1150.3,420.9 1148.9,435.9 1146.3,447.9 1143.6,455.9 1136.7,470.9 1127.9,485.9 1113.3,506.9 1105.2,516.9 1080.5,544.9 1069,561.9 1045.5,602.6 1038.6,616.9 1024.8,647.9 1014.4,669.9 1001.6,694.9 988,717.9 983.3,724.9 973.8,736.9 968.5,742.2 961.4,747.9 932.5,747.9 932.5,149.6 940.5,149.2 941.5,148.5 941.9,146.9 941.3,144.9 940.5,144.5 932.5,144.2 932.5,100.9 946.5,100.6 948.2,98.9 952.5,90.9 956.5,85.2 960.5,81.6Z"/>
<path fill="#0000a8" d="M962.4,83.9 966.5,83.1 970.5,84.3 974.5,87.5 979.3,93.9 984,102.9 989.9,116.9 996.5,124.9 1000.5,130.9 1007.3,144.9 1016.9,160.9 1024.4,175.9 1038.4,209.9 1041.7,216.9 1051.5,234.5 1079.5,278.9 1093.5,298.9 1105.9,314.9 1118,331.9 1126.1,343.9 1132.2,353.9 1137.5,364.9 1140.9,373.9 1142.8,380.9 1145.9,399.9 1146.4,420.9 1145,435.9 1142.5,447.9 1138.9,457.9 1132.9,470.9 1124.8,484.9 1110.6,505.9 1102.6,515.9 1078.2,543.9 1066.5,561.5 1043.5,601.9 1012.6,668.9 999.8,693.9 986.9,715.9 981.5,723.9 971.5,736.4 965.5,742 956.8,747.9 932.5,747.9 932.5,149.9 940.5,149.7 942,148.9 942.4,146.9 941.8,144.9 940.5,144.2 932.5,143.9 932.5,102.9 945.5,102.9 947.5,102.4 955.5,89.8 958.5,86.5Z"/>
<path fill="#0000aa" d="M962.8,86.9 965.5,86.2 967.5,86.4 971.5,88.1 975.5,91.7 979.5,97.3 984,105.9 989.5,119.2 995.5,126.9 999.4,132.9 1005.5,145.6 1014.1,159.9 1021.3,173.9 1036.7,210.9 1040.5,218.9 1049.5,235 1077.5,279.7 1091.5,300 1103.7,315.9 1115.6,332.9 1123.6,344.9 1128.9,353.9 1134.2,364.9 1137.8,374.9 1139.4,380.9 1142.4,399.9 1142.8,420.9 1141.3,435.9 1138.8,447.9 1135.2,457.9 1129.9,469.9 1122,483.9 1108,504.9 1101,513.9 1076.5,542.4 1064.5,560.6 1041.7,600.9 1010.9,667.9 998.1,692.9 985.5,714.4 979.8,722.9 971.1,733.9 965.5,739.5 960.5,743.2 951.2,747.9 932.5,747.9 932.5,150.2 940.5,150 942.6,148.9 943,147.9 942.3,144.9 940.5,143.9 932.5,143.8 932.5,104.9 947.5,104.6 949.4,102.9 953.5,95.7 956.5,91.7 959.5,88.8Z"/>
<path fill="#0000ad" d="M962.7,89.9 965.5,89.2 967.5,89.3 971.5,91 975.5,94.7 979.5,100.3 984,108.9 989.5,122 997.9,133.9 1003.6,145.9 1012.5,160.7 1019.7,174.9 1035.1,211.9 1038.9,219.9 1047.8,235.9 1075.5,280.4 1089.5,300.8 1101.6,316.9 1113.3,333.9 1121.2,345.9 1126.4,354.9 1131.4,365.9 1134.6,374.9 1136.2,380.9 1139,399.9 1139.3,420.9 1138,434.9 1135.4,447.9 1130.6,460.9 1125.9,470.9 1119.3,482.9 1105.6,503.9 1098.7,512.9 1074.5,541.4 1062.5,559.8 1040,599.9 1009.3,666.9 996.6,691.9 984.3,712.9 979,720.9 970.4,731.9 965.5,737 960.5,741 954.5,744.2 947.5,746.4 941.5,747.3 932.5,747.4 932.5,150.5 940.5,150.3 942.5,149.5 943.6,147.9 942.8,144.9 941,143.9 932.5,143.7 932.5,106.7 946.5,106.7 948.5,106.3 949.5,105.4 953.5,98.7 956.5,94.7 959.5,91.8Z"/>
<path fill="#0000af" d="M962.3,92.9 966.5,92 970.5,93.3 974.9,96.9 979.5,103.1 983.5,110.7 989.5,124.6 996.5,134.9 1002.1,146.9 1010.6,160.9 1018.3,175.9 1033.5,212.6 1037.4,220.9 1046.3,236.9 1073.5,280.8 1088.5,302.9 1101.1,319.9 1117.7,344.9 1123.5,354.9 1128.5,365.9 1131.6,374.9 1133.1,380.9 1135.7,398.9 1136.1,419.9 1134.7,434.9 1132.1,447.9 1126.1,463.9 1122.2,471.9 1116.7,481.9 1102.6,503.9 1096.6,511.9 1073,539.9 1063.1,554.9 1038.5,598.9 1007.9,665.9 995.1,690.9 982.9,711.9 977.5,719.9 969,730.9 963.5,736.5 959.5,739.6 953.5,742.7 947.5,744.6 942.5,745.2 932.5,745.3 932.5,150.7 940.5,150.6 942.6,149.9 943.8,148.9 944.1,147.9 943.2,144.9 941.6,143.9 932.5,143.6 932.5,108.4 947.5,108.4 949.3,107.9 956.5,97.5 959.5,94.6Z"/>
<path fill="#0000b1" d="M964.3,94.9 967.5,94.8 971.5,96.5 975.5,100.2 979.5,105.8 983.5,113.4 989.5,127.2 995.1,135.9 1000.8,147.9 1009.2,161.9 1016.9,176.9 1031.8,212.9 1035.5,220.9 1044.5,237.2 1071.5,281.1 1086.5,303.5 1099.2,320.9 1115.5,345.9 1121.2,355.9 1125.7,365.9 1128.7,374.9 1130.2,380.9 1132.6,398.9 1132.9,419.9 1131.6,434.9 1129,447.9 1123,463.9 1118.1,473.9 1113.7,481.9 1100.5,502.9 1094.5,510.9 1071.3,538.9 1061.4,553.9 1036.5,598.9 1029.5,613.7 1013.2,650.9 1006,665.9 993.8,689.9 981.5,710.9 976.2,718.9 967.6,729.9 962.5,735.1 958.5,738.2 953.5,740.9 947.5,742.9 942.5,743.6 932.5,743.7 932.5,151 941.5,150.6 943.5,149.7 944.4,148.9 944.7,147.9 943.7,144.9 942.1,143.9 932.5,143.5 932.5,110.1 947.5,110.1 949.5,109.7 950.5,108.9 954.5,102.8 957.5,99.1 960.5,96.5Z"/>
<path fill="#0000b4" d="M962.9,97.9 965.5,97.3 967.5,97.4 971.5,99.1 975.5,102.8 979.5,108.4 983.5,115.9 989.5,129.8 993.9,136.9 999.5,148.9 1008,162.9 1015.6,177.9 1030.5,213.9 1034.2,221.9 1042.5,236.9 1069.5,281.3 1085.5,305.4 1096.8,320.9 1113.5,346.9 1118.5,355.9 1123.3,366.9 1127.4,380.9 1129.7,398.9 1129.9,419.9 1128.6,434.9 1126,447.9 1120.1,463.9 1114.2,475.9 1098.5,501.9 1092.6,509.9 1069.5,538.1 1059.5,553.5 1035.1,597.9 1028.1,612.9 1011.4,650.9 1004.7,664.9 992,689.9 980.3,709.9 975,717.9 966.4,728.9 961.5,733.9 957.7,736.9 952.5,739.6 946.5,741.5 941.5,742 932.5,742.1 932.5,151.2 941.5,150.9 943.9,149.9 945,148.9 945.2,147.9 944.1,144.9 942.6,143.9 939.5,143.4 932.5,143.4 932.5,111.7 949.5,111.5 951.5,109.9 957.5,101.7 960.5,99.1Z"/>
<path fill="#0000b6" d="M964.4,99.9 967.5,99.8 971.5,101.6 975.5,105.2 979.5,110.8 983.3,117.9 989.5,132.3 994.7,141.9 997.8,148.9 1006.8,163.9 1014.4,178.9 1028.8,213.9 1032.5,221.9 1040.5,236.6 1066.5,279.7 1083.5,305.7 1095.2,321.9 1111.6,347.9 1116.5,356.9 1120.8,366.9 1124.7,380.9 1126.9,398.9 1127.1,419.9 1125.8,434.9 1123.2,447.9 1117.7,462.9 1110.9,476.9 1095.9,501.9 1090.8,508.9 1067.5,537.6 1057.8,552.9 1033.8,596.9 1026.5,612.6 1010.2,649.9 1003.5,663.9 990.8,688.9 979.1,708.9 973.5,717.3 965.3,727.9 960.5,732.8 957.5,735.2 952.5,738 946.5,739.9 941.5,740.5 932.5,740.6 932.5,151.4 941.5,151.1 944.5,149.9 945.6,148.9 945.8,147.9 944.6,144.9 943,143.9 939.5,143.3 932.5,143.3 932.5,113.2 950.5,112.9 958.5,103.1 961.5,100.9Z"/>
<path fill="#0000b8" d="M962.3,102.9 966.5,102.1 970.5,103.3 974.9,106.9 979.5,113.2 983.5,120.7 989.5,134.8 996.5,149.6 1005.5,164.5 1013.3,179.9 1027.6,214.9 1031.3,222.9 1037.5,234.2 1064.5,279.6 1081.5,305.8 1093.6,322.9 1106.8,343.9 1114,356.9 1118.3,366.9 1122.2,380.9 1124.3,398.9 1124.4,419.9 1123.2,433.9 1120.7,446.9 1115,462.9 1108.8,475.9 1094,500.9 1089,507.9 1065.8,536.9 1056.4,551.9 1032.1,596.9 1008.6,649.9 990.2,686.9 984.1,697.9 972,716.9 963.5,727.7 958.2,732.9 953.5,735.9 947.5,738.2 942.5,739 932.5,739.1 932.5,151.6 939.5,151.6 942.5,151.1 945.2,149.9 946.2,148.9 946.4,147.9 945,144.9 943.5,143.9 939.5,143.2 932.5,143.1 932.5,114.6 950.5,114.5 952.5,113 957.5,106.4Z"/>
<path fill="#0000bb" d="M962.9,104.9 965.5,104.3 967.5,104.4 971.5,106.1 975.5,109.8 979.5,115.4 984.4,124.9 995.1,149.9 1004.1,164.9 1011.8,179.9 1026,214.9 1029.7,222.9 1035.5,233.6 1062.5,279.3 1079.5,305.8 1092.1,323.9 1102.1,339.9 1111.6,356.9 1115.9,366.9 1119.7,380.9 1121.7,398.9 1121.8,418.9 1120.6,433.9 1118.1,446.9 1112.9,461.9 1106.3,475.9 1092.3,499.9 1087.3,506.9 1064.5,535.8 1055,550.9 1030.9,595.9 1007.1,649.9 989.1,685.9 982.5,697.8 971.1,715.9 962.5,726.8 957.2,731.9 952.5,734.9 946.5,737 941.5,737.7 932.5,737.7 932.5,151.8 939.5,151.8 942.5,151.3 945.8,149.9 946.8,148.9 946.9,147.9 945.4,144.9 943.9,143.9 940.5,143.1 932.5,143 932.5,116 951.5,115.7 952.6,114.9 958.5,107.7Z"/>
<path fill="#0000bd" d="M963.4,106.9 967.5,106.6 971.5,108.3 975.5,111.9 980.3,118.9 985.2,128.9 993.6,149.9 1003.1,165.9 1010.8,180.9 1025,215.9 1032.5,231 1038.5,241.9 1060.5,278.9 1078.5,307.3 1090.1,323.9 1100.5,340.9 1109.9,357.9 1114,367.9 1117.4,380.9 1119.3,398.9 1119,406.9 1119.3,418.9 1118.1,433.9 1115.9,445.9 1110.8,460.9 1104.3,474.9 1090.6,498.9 1080.4,512.9 1063.1,534.9 1053.5,550.4 1043,570.9 1029.5,595.6 1006,648.9 988.2,684.9 981.5,696.9 970.1,714.9 961.5,725.9 956.5,730.7 951.5,733.9 946.5,735.6 941.5,736.3 932.5,736.4 932.5,152 939.5,152 942.5,151.5 946.5,149.9 947.4,148.9 947.5,147.9 946.7,145.9 944.3,143.9 940.5,143 932.5,142.9 932.5,117.4 951.5,117.2 953.5,115.9 958.5,109.9 960.5,108.3Z"/>
<path fill="#0000bf" d="M963.6,108.9 966.5,108.5 968.5,108.9 972.5,111.1 976.5,115.2 980.5,121.3 986,132.9 992.7,150.9 1001.7,165.9 1009.8,181.9 1023.5,215.9 1029.5,228.2 1037.5,242.9 1057.5,276.7 1076.5,307.1 1088.7,324.9 1098.4,340.9 1107.7,357.9 1111.8,367.9 1115.1,380.9 1116.9,397.9 1116.9,418.9 1115.6,433.9 1113.4,445.9 1108.4,460.9 1102,474.9 1089,497.9 1079,511.9 1061.8,533.9 1052,549.9 1041.8,569.9 1028.3,594.9 1005.1,647.9 986.7,684.9 980.6,695.9 969.3,713.9 960.7,724.9 955.5,729.9 950.5,732.9 945.5,734.6 941.5,735.1 932.5,735.1 932.5,152.2 939.5,152.2 942.5,151.8 947.1,149.9 947.9,148.9 948,147.9 947.2,145.9 944.8,143.9 940.5,142.9 932.5,142.8 932.5,118.6 952.5,118.3 959.5,111.1Z"/>
<path fill="#0000c2" d="M963.6,110.9 966.5,110.5 968.5,110.9 972.5,113.1 976.5,117.2 980.5,123.3 987.2,137.9 991.3,150.9 1000.8,166.9 1008.4,181.9 1022.5,216.7 1027.5,227.2 1036.5,243.7 1057.5,279.4 1076.5,309.9 1086.8,324.9 1097,341.9 1104.1,354.9 1109.3,366.9 1112.8,379.9 1114.6,397.9 1114.3,406.9 1114.5,418.9 1113.4,432.9 1111.3,444.9 1106.4,459.9 1100.2,473.9 1086.8,497.9 1077.6,510.9 1060.5,533 1050.8,548.9 1040.3,569.9 1026.8,594.9 1003.7,647.9 985.8,683.9 979.5,695.3 967.7,713.9 959.9,723.9 954.8,728.9 950.5,731.6 945.5,733.3 941.5,733.8 932.5,733.9 932.5,152.4 939.5,152.4 943.5,151.7 947.8,149.9 948.5,148.9 948.6,147.9 947.6,145.9 945.2,143.9 940.5,142.8 932.5,142.8 932.5,119.9 952.5,119.7 954.1,118.9 959.5,113.1Z"/>
<path fill="#0000c4" d="M963.4,112.9 967.5,112.6 971.5,114.3 976.3,118.9 980.5,125.3 983.9,131.9 987.6,140.9 990,150.9 1000,167.9 1007.1,181.9 1021.3,216.9 1025.5,226 1035.1,243.9 1055.5,278.7 1074.5,309.5 1085.5,325.9 1101.6,353.9 1107.2,366.9 1110.7,379.9 1112.4,397.9 1112,406.9 1112.3,418.9 1111.2,432.9 1109.1,444.9 1104.2,459.9 1098,473.9 1085.4,496.9 1076.2,509.9 1058.8,532.9 1049.2,548.9 1039.2,568.9 1025.9,593.9 1002.8,646.9 985,682.9 978.4,694.9 967,712.9 959.2,722.9 954.5,727.5 950.5,730.2 945.5,732.1 941.5,732.6 932.5,732.7 932.5,152.6 939.5,152.6 943.8,151.9 948.4,149.9 949.1,148.9 949.1,147.9 948.1,145.9 945.5,143.8 940.5,142.7 932.5,142.7 932.5,121.1 953.5,120.8 959.5,115Z"/>
<path fill="#0000c6" d="M963,114.9 965.5,114.3 967.5,114.5 971.5,116.2 976.4,120.9 980.5,127.1 983.9,133.9 987.2,141.9 988.1,148.9 989.2,151.9 998.6,167.9 1006.3,182.9 1020,216.9 1024.5,226.7 1034.3,244.9 1054.5,279.6 1073.5,310.7 1084.3,326.9 1100.1,354.9 1105.6,367.9 1108.6,379.9 1110.3,397.9 1109.9,405.9 1110.1,418.9 1109,432.9 1106.9,444.9 1102.4,458.9 1096.3,472.9 1083.9,495.9 1074.5,509.5 1057.6,531.9 1048.1,547.9 1037.8,568.9 1024.5,593.9 1001.5,646.9 983.7,682.9 977.6,693.9 966.3,711.9 958.5,721.9 953.5,726.9 949.5,729.4 944.5,731.1 932.5,731.5 932.5,152.8 942.5,152.4 947.5,150.9 949.1,149.9 949.7,148.9 949.7,147.9 948.6,145.9 946.1,143.9 941.5,142.8 932.5,142.6 932.5,122.2 953.5,122.1 955.5,120.9 959.5,116.9Z"/>
<path fill="#0000c9" d="M962.5,116.9 966.5,116.1 968.5,116.5 971.5,118 975.7,121.9 980.5,128.9 986.5,141.9 987.3,149.9 987.9,151.9 997.9,168.9 1005,182.9 1019.2,217.9 1023.3,226.9 1033,244.9 1052.5,278.7 1071.5,310.1 1082.6,326.9 1098.2,354.9 1103.7,367.9 1106.7,379.9 1108.2,397.9 1107.8,405.9 1108.1,417.9 1106.9,432.9 1105,443.9 1100.3,458.9 1094.3,472.9 1082,495.9 1073,508.9 1056.6,530.9 1046.6,547.9 1036.8,567.9 1023.5,593.2 1003.9,638.9 994.1,659.9 982.4,682.9 976.9,692.9 965.5,711.1 957.5,721.3 953,725.9 948.5,728.7 944.5,730 932.5,730.4 932.5,153.1 939.5,153 943.5,152.4 948.2,150.9 949.7,149.9 950.3,148.9 950.3,147.9 949.1,145.9 946.5,143.9 941.5,142.7 932.5,142.5 932.5,123.3 954.5,123.1 959.5,118.7Z"/>
<path fill="#0000cb" d="M962,118.9 964.5,118 966.5,117.9 968.5,118.3 971.5,119.7 975.9,123.9 980.5,130.7 985.8,141.9 986.5,150.2 987.2,152.9 996.7,168.9 1004.3,183.9 1017.9,217.9 1022,226.9 1032.2,245.9 1051.5,279.4 1070.5,311.1 1081.5,327.9 1096.4,354.9 1101.8,367.9 1104.8,379.9 1106.3,397.9 1105.8,405.9 1106,417.9 1105,431.9 1103,443.9 1098.6,457.9 1092.7,471.9 1080.6,494.9 1071.8,507.9 1055.5,530 1045.6,546.9 1035.5,567.8 1022.3,592.9 999.5,645.9 980.7,683.9 975.5,693.1 965,709.9 956.5,720.8 953.5,723.9 949.5,726.9 945.5,728.6 941.5,729.3 932.5,729.3 932.5,153.3 939.5,153.2 943.5,152.7 949,150.9 950.4,149.9 950.9,148.9 950.8,147.9 949.6,145.9 946.5,143.7 941.5,142.6 932.5,142.4 932.5,124.4 954.5,124.3 955.7,123.9 959.5,120.4Z"/>
<path fill="#0000cd" d="M963.8,119.9 966.5,119.6 968.5,119.9 972.5,122.1 976.5,126.3 980.5,132.4 985.4,142.9 985.7,150.9 986.5,153.8 996,169.9 1003.1,183.9 1017.2,218.9 1020.8,226.9 1031.5,246.9 1049.5,278.3 1069.5,312 1079.8,327.9 1095.1,355.9 1100.3,368.9 1102.9,379.9 1104.3,397.9 1103.8,405.9 1104.1,417.9 1103,431.9 1101.3,442.9 1096.7,457.9 1090.8,471.9 1078.8,494.9 1070.7,506.9 1053.9,529.9 1044.5,546.1 1034.6,566.9 1021.5,592 998.8,644.9 980,682.9 974.4,692.9 964.4,708.9 955.9,719.9 953.1,722.9 949.2,725.9 944.5,727.8 940.5,728.3 932.5,728.3 932.5,153.5 940.5,153.4 944.5,152.7 949.7,150.9 951,149.9 951.5,148.9 951.4,147.9 950.1,145.9 946.5,143.6 941.5,142.5 932.5,142.4 932.5,125.5 955.5,125.3 960.5,121.4Z"/>
<path fill="#0000cf" d="M962.7,121.9 965.5,121.2 967.5,121.3 971.5,123 975.6,126.9 980.5,134 984.7,142.9 985,150.9 985.5,154 994.9,169.9 1002.5,184.9 1016.1,218.9 1020.2,227.9 1030.3,246.9 1053.5,287.6 1069.5,314.5 1078.8,328.9 1093.3,355.9 1098.6,368.9 1101.1,379.9 1102.5,397.9 1101.9,405.9 1102.2,417.9 1101.4,423.9 1101.1,431.9 1099.3,442.9 1095.1,456.9 1089.3,470.9 1076.9,494.9 1068.9,506.9 1053,528.9 1043.2,545.9 1033.3,566.9 1020.3,591.9 997.7,644.9 978.9,682.9 967.5,702.4 963.2,708.9 952.5,722 948.5,725.1 944.5,726.7 940.5,727.2 932.5,727.3 932.5,153.7 940.5,153.6 945.5,152.7 950.4,150.9 951.7,149.9 952.1,148.9 951.9,147.9 950.6,145.9 946.5,143.4 941.5,142.4 932.5,142.3 932.5,126.5 955.5,126.5 957,125.9 960.5,123Z"/>
<path fill="#0000d2" d="M965,122.9 967.5,122.9 969.5,123.5 973.5,126.2 977.5,130.9 981.2,136.9 984,142.9 984.3,151.9 984.8,154.9 994.3,170.9 1001.4,184.9 1015,218.9 1019,227.9 1029.5,247.7 1052.5,288.1 1068.5,315.3 1077.8,329.9 1092.1,356.9 1096.8,368.9 1099.5,380.9 1100.7,397.9 1100.1,404.9 1100.3,417.9 1099.5,423.9 1099.2,431.9 1097.5,442.9 1093.2,456.9 1088,469.9 1075.8,493.9 1067.8,505.9 1052,527.9 1042.3,544.9 1032.5,565.9 1019.5,591.1 997,643.9 978.3,681.9 972.7,691.9 962.7,707.9 954.5,718.5 951.5,721.6 948.5,724 944.5,725.7 940.5,726.3 932.5,726.3 932.5,153.9 940.5,153.8 945.7,152.9 951.2,150.9 952.3,149.9 952.7,148.9 952.5,147.9 951,145.9 948.2,143.9 946.5,143.3 941.5,142.3 932.5,142.2 932.5,127.5 956.5,127.4 961.5,124Z"/>
<path fill="#0000d4" d="M963.1,124.9 967.5,124.5 971.5,126.2 976.5,131.1 980.9,137.9 983.2,142.9 983.6,152.9 984.2,155.9 993.2,170.9 1000.8,185.9 1014.3,219.9 1017.9,227.9 1028.5,248 1051.5,288.7 1067.5,316.1 1076.3,329.9 1090.4,356.9 1095.5,369.9 1097.9,380.9 1098.9,397.9 1098.3,404.9 1098.5,417.9 1097.7,423.9 1097.4,431.9 1095.9,441.9 1091.8,455.9 1086.2,469.9 1074,493.9 1066.8,504.9 1050.5,527.9 1041,544.9 1031.2,565.9 1018.4,590.9 996,643.9 977.5,681.3 963.5,704.9 957.7,712.9 951.5,720.3 948.5,722.9 944.5,724.7 940.5,725.3 932.5,725.3 932.5,154.1 940.5,154 946.5,152.9 951.9,150.9 953,149.9 953.3,148.9 951.5,145.9 947.5,143.4 941.5,142.2 932.5,142.1 932.5,128.4 956.5,128.5Z"/>
<path fill="#0000d6" d="M965.4,125.9 969.5,126.6 973.5,129.3 977.5,133.9 981.5,140.5 982.7,143.9 982.9,153.9 983.5,156.5 992.7,171.9 999.7,185.9 1013.2,219.9 1017.3,228.9 1027.5,248.2 1051.5,290.9 1066.5,316.8 1075.3,330.9 1089.3,357.9 1093.9,369.9 1096.2,380.9 1097.2,397.9 1096.6,404.9 1096.7,417.9 1095.9,423.9 1095.7,430.9 1094.1,441.9 1090,455.9 1084.9,468.9 1073,492.9 1065.5,504.4 1049.7,526.9 1039.6,544.9 1030.5,564.9 1017.3,590.9 994.9,643.9 976.7,680.9 963.1,703.9 957.3,711.9 950.6,719.9 947.5,722.4 943.5,724 932.5,724.4 932.5,154.3 940.5,154.2 947.5,153 952.6,150.9 953.6,149.9 953.9,148.9 952,145.9 947.5,143.3 941.5,142.2 932.5,142.1 932.5,129.4 957.5,129.5 962.5,126.6Z"/>
<path fill="#0000d9" d="M963,127.9 965.5,127.3 967.5,127.5 971.5,129.2 976.5,134 980.9,140.9 982,143.9 982.1,153.9 982.7,156.9 991.6,171.9 998.7,185.9 1012.5,220.5 1016.2,228.9 1026.8,248.9 1029.9,253.9 1050.5,291.3 1065.5,317.4 1073.9,330.9 1087.7,357.9 1092.3,369.9 1094.6,380.9 1095.5,396.9 1094.9,404.9 1095.1,416.9 1094.3,422.9 1094,430.9 1092.4,441.9 1088.6,454.9 1083.1,468.9 1073.6,488.9 1070.7,493.9 1048.8,525.9 1038.9,543.9 1029.3,564.9 1016.5,590.3 993.9,643.9 976.1,679.9 964,700.9 956.5,711.5 950.5,718.7 947.5,721.3 943.5,723.1 932.5,723.5 932.5,154.5 940.5,154.4 947.5,153.2 952.5,151.4 954.3,149.9 954.5,148.9 952.5,145.9 949.5,143.9 947.5,143.1 941.5,142.1 932.5,142 932.5,130.3 957.5,130.6Z"/>
<path fill="#0000db" d="M964.6,128.9 968.5,129.1 972.5,131.3 976.5,135.5 980.1,140.9 981.2,143.9 981.3,153.9 981.7,156.9 991.2,172.9 998.2,186.9 1011.6,220.9 1015.2,228.9 1026.2,249.9 1029.4,254.9 1049.5,291.7 1064.5,318 1073,331.9 1086.6,358.9 1091,370.9 1093,380.9 1093.9,396.9 1093.2,404.9 1093.4,416.9 1092.6,422.9 1092.4,430.9 1090.9,440.9 1086.9,454.9 1081.9,467.9 1070.3,491.9 1063.3,502.9 1047.5,525.8 1037.6,543.9 1028.2,564.9 1015.6,589.9 993.4,642.9 975.1,679.9 962.9,700.9 955.8,710.9 950.1,717.9 946.5,720.9 943.5,722.1 932.5,722.6 932.5,154.7 941.5,154.5 948.5,153.3 953.5,151.3 954.9,149.9 955,148.9 953,145.9 950,143.9 947.5,143 941.5,142 932.5,141.9 932.5,131.2 952.5,131.2 957.5,131.7 958.5,131.6Z"/>
<path fill="#0000dd" d="M962.5,130.9 965.5,130.2 967.5,130.3 971.5,132 975.5,135.6 979.5,141.3 980.4,143.9 980.5,154.9 981.2,157.9 990.2,172.9 997.2,186.9 1014.2,228.9 1025.2,249.9 1028.3,254.9 1049.5,293.8 1063.7,318.9 1071.6,331.9 1085.1,358.9 1089.5,370.9 1091.5,380.9 1092.3,396.9 1091.6,403.9 1091.8,416.9 1091,422.9 1090.7,430.9 1089.3,440.9 1085.3,454.9 1080.3,467.9 1071,487.9 1068.1,492.9 1046.7,524.9 1036.9,542.9 1027.5,563.9 1014.6,589.9 992.4,642.9 974.7,678.9 962.5,699.9 958.5,705.9 949.5,717.2 946.5,719.9 943.5,721.3 940.5,721.7 932.5,721.7 932.5,154.9 941.5,154.7 949.5,153.3 954.5,151.2 955.6,149.9 955.6,148.9 953.5,145.9 950.4,143.9 947.8,142.9 941.5,141.9 932.5,141.8 932.5,132 953.5,132 958.5,132.7Z"/>
<path fill="#0000e0" d="M963.5,131.9 967.5,131.6 971.5,133.3 975.5,137 979,141.9 979.6,143.9 979.7,154.9 980.3,157.9 989.5,173.4 996.3,186.9 1013.5,229.4 1024.5,250.6 1027.8,255.9 1049.5,296 1062.9,319.9 1070.3,331.9 1083.6,358.9 1088,370.9 1090,380.9 1090.8,396.9 1090.1,403.9 1090.2,416.9 1089.4,422.9 1089.1,430.9 1087.7,440.9 1084,453.9 1079.1,466.9 1069.9,486.9 1067.2,491.9 1045.5,524.6 1035.7,542.9 1026.4,563.9 1013.6,589.9 991.9,641.9 973.7,678.9 961.5,699.9 954.5,709.9 948.7,716.9 945.5,719.5 942.5,720.6 932.5,720.9 932.5,155.1 941.5,155 949.5,153.6 954.5,151.7 956.2,149.9 956.2,148.9 954,145.9 948.3,142.9 940.5,141.7 932.5,141.7 932.5,132.9 953.5,132.9 958.5,133.8Z"/>
<path fill="#0000e2" d="M965.2,132.9 968.5,133.2 971.5,134.7 974.5,137.2 978.1,141.9 978.9,144.9 978.9,154.9 979.4,157.9 988.8,173.9 995.8,187.9 1012.8,229.9 1023.7,250.9 1026.8,255.9 1048.5,296.2 1061.7,319.9 1069.5,332.9 1082.7,359.9 1086.6,370.9 1088.6,380.9 1089.3,396.9 1088.5,403.9 1088.7,416.9 1087.8,422.9 1087.6,430.9 1086.3,439.9 1082.5,453.9 1077.6,466.9 1068.5,486.9 1065.7,491.9 1044.6,523.9 1035,541.9 1025.8,562.9 1013,588.9 991,641.9 973.3,677.9 961.2,698.9 957.2,704.9 948.5,715.9 945.5,718.5 942.5,719.8 932.5,720.1 932.5,155.3 941.5,155.2 949.5,154 954.5,152.3 956.3,150.9 956.8,149.9 956.4,147.9 954.5,145.9 948.9,142.9 941.5,141.7 932.5,141.6 932.5,133.7 953.5,133.7 959.5,134.8Z"/>
<path fill="#0000e4" d="M932.5,134.9 932.5,134.5 952.5,134.5 959.5,135.8 964.5,134.3 967.5,134.3 970.5,135.4 972.5,136.7 977.2,141.9 978,144.9 978.1,154.9 978.5,157.9 987.9,173.9 995,187.9 1011.8,229.9 1022.7,250.9 1026.3,256.9 1048.5,298.3 1061,320.9 1068.2,332.9 1081.2,359.9 1085.2,370.9 1087,379.9 1087.8,395.9 1087,403.9 1087.2,416.9 1086.3,421.9 1086.2,429.9 1084.8,439.9 1081.3,452.9 1076.9,464.9 1067.5,485.9 1059.2,499.9 1043.9,522.9 1033.8,541.9 1024.8,562.9 1012,588.9 990.1,641.9 971.9,678.9 960.2,698.9 956.2,704.9 949.2,713.9 944.5,718.2 942.5,719 939.5,719.3 932.5,719.3 932.5,155.5 941.5,155.4 950.5,154.1 955.5,152.2 957.1,150.9 957.5,149.9 957.4,148.9 956.1,146.9 953.5,144.9 949.4,142.9 941.5,141.5 932.5,141.4Z"/>
<path fill="#0000e7" d="M932.5,135.9 932.5,135.3 952.5,135.3 960.5,136.7 964.5,135.5 967.5,135.5 971.5,137.2 976.2,141.9 977.1,144.9 977.2,154.9 977.6,157.9 979.5,161.7 987.5,174.9 994.1,187.9 1010.9,229.9 1022.3,251.9 1025.4,256.9 1048.5,300.3 1067.4,333.9 1080.3,360.9 1084.1,371.9 1085.6,379.9 1086.4,395.9 1085.6,402.9 1085.7,416.9 1084.9,421.9 1084.7,429.9 1083.3,439.9 1079.8,452.9 1075.4,464.9 1066.1,485.9 1057.8,499.9 1042.6,522.9 1032.7,541.9 1023.7,562.9 1011.5,587.9 989.5,641.2 971.5,677.9 959.9,697.9 952.2,708.9 948.1,713.9 945,716.9 942.5,718.1 939.5,718.5 932.5,718.5 932.5,155.7 941.5,155.6 950.5,154.4 955.5,152.8 957.5,151.3 958.1,149.9 957.5,147.9 955.5,145.9 949.5,142.7 941.5,141.4 932.5,141.3Z"/>
<path fill="#0000e9" d="M932.5,136.9 932.5,136 952.5,136 960.5,137.8 964.5,136.8 967.5,136.8 971.5,138.5 975.5,142.4 976.2,144.9 976.2,154.9 976.8,157.9 978.7,161.9 986.6,174.9 993.7,188.9 1010.5,230.8 1021.5,252.2 1024.9,257.9 1049.5,304.2 1066.2,333.9 1079,360.9 1082.8,371.9 1084.3,379.9 1085,395.9 1084.2,402.9 1084.2,416.9 1083.4,421.9 1083.3,429.9 1081.8,439.9 1078.3,452.9 1074.3,463.9 1065.1,484.9 1057,498.9 1042,521.9 1032.1,540.9 1023.2,561.9 1010.6,587.9 988.8,640.9 970.6,677.9 959,697.9 952,707.9 945.1,715.9 942.5,717.3 939.5,717.7 932.5,717.7 932.5,155.9 941.5,155.8 951.5,154.5 956.5,152.8 957.8,151.9 958.8,149.9 958.1,147.9 956,145.9 949.5,142.5 942.5,141.4 932.5,141.2Z"/>
<path fill="#0000eb" d="M932.5,136.9 953.5,136.8 960.5,138.8 965.5,137.8 967.5,138 971.5,139.7 974.7,142.9 975.2,144.9 975.2,154.9 975.9,157.9 977.8,161.9 986.3,175.9 992.8,188.9 1009.6,230.9 1020.9,252.9 1024,257.9 1049.5,306.2 1065,333.9 1077.6,360.9 1081.4,371.9 1083.1,380.9 1083.6,395.9 1082.8,402.9 1082.8,416.9 1082.1,420.9 1081.8,429.9 1080.6,438.9 1077.2,451.9 1072.9,463.9 1063.8,484.9 1055.7,498.9 1040.7,521.9 1031,540.9 1022.2,561.9 1009.7,587.9 987.9,640.9 970.3,676.9 958.7,696.9 951,707.9 944.5,715.4 941.5,716.8 938.5,717 932.5,717 932.5,156.1 942.5,156 952.5,154.7 957.5,152.8 958.6,151.9 959.4,149.9 958.6,147.9 956.5,145.9 949.5,142.3 942.5,141.2 932.5,141.1Z"/>
<path fill="#0000ee" d="M932.5,137.9 932.5,137.5 952.5,137.5 961.5,139.8 965.5,139 967.5,139.2 970.5,140.3 973.5,142.9 974,144.9 974.2,154.9 975,157.9 977.5,162.9 985.5,175.9 992,188.9 1008.8,230.9 1020.5,253.8 1023.1,257.9 1050.5,310.1 1064.3,334.9 1076.8,361.9 1080.4,372.9 1081.8,380.9 1082.3,395.9 1081.4,402.9 1081.5,415.9 1080.7,420.9 1080.5,428.9 1079.2,438.9 1075.8,451.9 1071.9,462.9 1062.5,484.8 1054.9,497.9 1040.1,520.9 1030.4,539.9 1021.2,561.9 1008.8,587.9 987.1,640.9 969.5,676.9 957.9,696.9 950.5,707.3 943.9,714.9 941.5,716 938.5,716.3 932.5,716.3 932.5,156.3 942.5,156.2 953.5,154.8 958.5,152.9 959.5,151.9 960.1,149.9 959.2,147.9 957.1,145.9 950.5,142.4 943.5,141.1 932.5,141Z"/>
<path fill="#0000f0" d="M932.5,138.9 932.5,138.2 953.5,138.3 961.5,140.8 967.5,140.3 970.5,141.5 972.1,142.9 972.7,144.9 972.8,151.9 973.8,156.9 976.7,162.9 985.2,176.9 991.2,188.9 1008.4,231.9 1053.5,317.7 1063.1,334.9 1073.3,356.9 1077.7,367.9 1079.3,373.9 1080.6,381.9 1081,394.9 1080.1,401.9 1080.2,415.9 1079.3,420.9 1079.2,428.9 1077.9,438.9 1074.7,450.9 1070.5,462.9 1061.6,483.9 1054.2,496.9 1039.5,519.9 1029.4,539.9 1020.5,561.3 1008.3,586.9 986.7,639.9 969.2,675.9 957.5,696.1 949.9,706.9 943.5,714.3 941.5,715.3 938.5,715.5 932.5,715.5 932.5,156.5 942.5,156.4 953.5,155.2 958.5,153.6 960.4,151.9 960.8,150.9 960.4,148.9 958.9,146.9 951.5,142.5 945.5,141.1 932.5,140.7Z"/>
<path fill="#0000f2" d="M932.5,139.9 932.5,139 953.5,139 961.5,141.7 966.5,141.4 968.5,141.8 970.3,142.9 971,143.9 971.4,150.9 973,156.9 976.4,163.9 984.4,176.9 990.9,189.9 1007.6,231.9 1055.5,323.6 1062,334.9 1070.4,352.9 1074.6,362.9 1078.1,373.9 1079.4,381.9 1079.7,394.9 1078.8,401.9 1078.8,415.9 1077.9,420.9 1077.9,428.9 1076.5,438.9 1073.4,450.9 1069.2,462.9 1060.3,483.9 1052.9,496.9 1038.5,519.6 1028.3,539.9 1019.8,560.9 1007.4,586.9 985.9,639.9 968.4,675.9 956.8,695.9 949.5,706.2 943.5,713.4 941.5,714.5 938.5,714.8 932.5,714.8 932.5,156.7 943.5,156.6 954.5,155.5 959.5,153.8 960.6,152.9 961.5,150.9 961,148.9 959.5,146.9 957.5,145.4 951.5,142.2 948.5,141.3 942.5,140.4 932.5,140.2Z"/>
<path fill="#0000f5" d="M946.1,139.9 953.5,139.8 961.5,142.6 966.5,142.8 968.6,143.9 969.4,148.9 972.5,157.6 975.6,163.9 983.6,176.9 990.1,189.9 1006.8,231.9 1054.5,323.8 1060.8,334.9 1069.2,352.9 1073.8,363.9 1076.9,373.9 1078.2,381.9 1078.4,395.9 1077.5,401.9 1077.5,415.9 1076.7,419.9 1076.5,428.9 1075.7,432.9 1075.4,437.9 1072,450.9 1068.2,461.9 1059,483.9 1052.2,495.9 1037.8,518.9 1032.5,528.9 1027.3,539.9 1015.7,567.9 1006.6,586.9 985.1,639.9 967.6,675.9 955.9,695.9 951.9,701.9 944,711.9 942.5,713.2 940.5,714 932.5,714.2 932.5,157 946.5,156.7 956.5,155.5 960.7,153.9 961.7,152.9 962.2,150.9 961,147.9 958.5,145.5 950.5,141.3 948.1,140.9 947.5,140.2Z"/>
<path fill="#0000f7" d="M951.5,140.9 953.5,140.6 957.5,141.7 964.5,144.7 966.5,146.5 968.9,150.9 974.8,163.9 982.8,176.9 988.9,188.9 997.8,210.9 1002.5,223.9 1006.5,232.9 1054,324.9 1060.2,335.9 1068,352.9 1072.6,363.9 1075.7,373.9 1077,382.9 1077.2,395.9 1076.3,400.9 1076.3,415.9 1075.4,419.9 1075.3,428.9 1074.4,432.9 1074.1,437.9 1071,449.9 1066.9,461.9 1058.2,482.9 1051,495.9 1037.2,517.9 1032,527.9 1026.3,539.9 1014.8,567.9 1005.8,586.9 984.4,639.9 967.3,674.9 955.5,695.3 951.5,701.2 944,710.9 942.5,712.4 940.5,713.3 932.5,713.5 932.5,157.2 953.5,156.4 959.5,155.3 962.1,153.9 962.8,152.9 963,150.9 962.3,148.9 960.9,146.9 959.5,145.6Z"/>
<path fill="#0000f9" d="M960.1,144.9 961.5,144.7 963.5,145.6 965.9,147.9 968.5,151.9 974.5,164.7 982,176.9 985.2,182.9 989.1,190.9 1005.5,232.4 1053.4,325.9 1059.1,335.9 1067.2,353.9 1073.4,369.9 1075.8,381.9 1076,395.9 1075.1,400.9 1075.1,414.9 1074.1,419.9 1074.1,427.9 1072.8,437.9 1069.7,449.9 1063.6,466.9 1055,486.9 1036.1,517.9 1025.8,538.9 1017.5,559.9 1005.4,585.9 987.1,631.9 977.1,653.9 967.1,673.9 961.5,684 954.9,694.9 947.9,704.9 943.1,710.9 941.5,712.2 939.5,712.8 932.5,712.8 932.5,157.4 952.5,156.9 958.5,156.2 961.5,155.4 963.4,153.9 963.9,150.9 963.1,148.9Z"/>
<path fill="#0000fc" d="M965.2,150.9 965.5,149.9 967.5,152.1 973.3,163.9 981.9,177.9 985.1,183.9 988.9,191.9 1001.5,224.7 1005.5,233.8 1052.5,326.1 1058,335.9 1066.1,353.9 1072.2,369.9 1073.5,374.9 1074.6,381.9 1074.8,394.9 1073.9,400.9 1073.8,414.9 1073,418.9 1072.7,428.9 1072,431.9 1071.7,436.9 1070.8,440.9 1068.4,449.9 1064.7,460.9 1058.3,476.9 1053.7,486.9 1039.5,510.1 1030.5,526.9 1024.5,539.9 1013.6,566.9 1004.5,586.3 986.9,630.9 977,652.9 966.9,672.9 960.9,683.9 950.1,700.9 941.5,711.5 939.5,712.2 932.5,712.2 932.5,157.6 950.5,157.3 960.5,156.5 962.8,155.9 964.3,154.9 964.9,153.9Z"/>
<path fill="#0000fe" d="M967.5,154.9 985.1,184.9 990,195.9 1004.5,233 1048.5,320.2 1056.9,335.9 1067.4,359.9 1071.4,370.9 1073.6,382.9 1073.6,394.9 1072.9,399.9 1072.7,414.9 1071.9,418.9 1071.7,427.9 1070.7,435.9 1068.6,444.9 1063.5,460.9 1057.1,476.9 1052.5,486.9 1034.7,516.9 1029.5,527.2 1024.2,538.9 1012.9,566.9 1004.5,584.9 985.9,631.9 976.8,651.9 965.3,674.9 957.2,688.9 949.5,700.7 941.2,710.9 939.5,711.5 932.5,711.6 932.5,157.8 960.5,157.3 964.5,156.5 966.5,154.9Z"/>
<path fill="#0001ff" d="M965.3,157.9 967.5,158.1 969.5,160.2 977.7,172.9 984.1,183.9 989.9,196.9 1000.5,224.8 1004.5,234.1 1047.5,320.1 1055.8,335.9 1064.2,354.9 1070.2,370.9 1071.4,375.9 1072.4,382.9 1072.4,394.9 1071.9,399.9 1071.6,413.9 1069.6,435.9 1067.8,443.9 1062.8,459.9 1056.5,475.9 1052,485.9 1034.5,515.8 1028.5,527.9 1023.5,539 1012.8,565.9 1003.5,586 985.8,630.9 976.3,651.9 964.7,674.9 956.6,688.9 949.4,699.9 942.5,708.7 940.5,710.5 938.5,711 932.5,711 932.5,158Z"/>
<path fill="#0003ff" d="M932.5,158.9 932.5,158.2 953.5,158.4 962.5,158.8 966.5,159.6 968.5,160.8 970.5,163.1 980.2,177.9 983.7,183.9 987,190.9 1003.5,233 1056.2,338.9 1065.1,359.9 1068.3,368.9 1070.3,376.9 1071.2,386.9 1070.5,413.9 1068.6,435.9 1064.9,450.9 1055.6,475.9 1051,485.9 1033.8,515.9 1028.4,526.9 1023.4,537.9 1012.3,565.9 1003.5,585 985,631.9 971,661.9 959.6,682.9 950.8,696.9 941.5,709 939.5,710.1 937.5,710.2 932.5,710.2Z"/>
<path fill="#0005ff" d="M932.5,158.9 932.5,158.4 953.5,158.7 961.5,159.4 965.5,160.4 968.5,162.2 970.5,164.4 980.4,178.9 983.8,184.9 987,191.9 1003.5,233.9 1055.1,338.9 1063.9,359.9 1067.1,368.9 1069.2,377.9 1070,387.9 1069.4,413.9 1067.5,436.9 1066,443.9 1063.3,452.9 1054.2,476.9 1050.1,485.9 1033.5,515.3 1027.5,527.6 1022.5,538.9 1011.8,565.9 1002.7,585.9 985,630.9 971,660.9 959.5,682.2 950.5,696.5 941.5,708 939.5,709.2 937.5,709.4 932.5,709.4Z"/>
<path fill="#000aff" d="M932.5,158.9 932.5,158.5 954.5,158.9 961.5,159.5 965.5,160.6 968.5,162.5 970.5,164.6 980.3,178.9 983.8,184.9 987,191.9 1003.5,234.1 1054.9,338.9 1063.2,358.9 1067.1,369.9 1069.1,378.9 1069.7,388.9 1069.2,413.9 1067.3,436.9 1065.8,443.9 1063.1,452.9 1054,476.9 1049.9,485.9 1033.5,515.1 1027.5,527.4 1022.4,538.9 1011.7,565.9 1002.6,585.9 984.9,630.9 970.9,660.9 959.5,682.1 950.5,696.3 941.5,707.8 939.5,709.1 937.5,709.2 932.5,709.2Z"/>
<path fill="#0014ff" d="M932.5,159.9 932.5,159.4 939.5,159.4 950.5,160.1 958.5,161.4 963.5,163.1 967.5,165.7 971.5,169.6 975.5,174.6 982.3,184.9 991.8,207.9 1001.2,232.9 1031.8,296.9 1042.5,321.6 1049.9,336.9 1057.2,354.9 1061.2,365.9 1063.8,375.9 1064.9,383.9 1065.2,395.9 1064.6,422.9 1064.1,431.9 1063.1,438.9 1059,453.9 1050,477.9 1044.9,488.9 1031.5,514.1 1025.5,526.9 1011.1,562.9 1000.5,586.9 983,631.9 972.7,653.9 962.5,673.3 951.5,691 941.5,703.8 939.5,704.9 937.5,705 932.5,705Z"/>
<path fill="#001fff" d="M932.5,160.9 932.5,160.3 939.5,160.3 947.5,161 955.5,162.5 961.5,164.6 966.5,167.7 970.5,171.4 980.9,184.9 990.8,208.9 999.5,232.8 1028.9,295.9 1039.2,320.9 1047,337.9 1054,355.9 1058.1,367.9 1060.2,376.9 1061.1,384.9 1061.5,399.9 1061,426.9 1059.8,438.9 1055.8,453.9 1046.1,479.9 1041.1,490.9 1028.5,515.5 1023.5,526.7 1009.4,562.9 998.5,587.8 982.3,629.9 976.2,643.9 963.7,667.9 953.5,684.5 942.5,699.1 940.5,700.8 937.5,701.3 932.5,701.3Z"/>
<path fill="#0029ff" d="M932.5,161.9 932.5,161.3 940.5,161.3 945.5,161.9 953.5,163.5 960,165.9 964.5,168.6 968.5,171.9 979.5,184.9 989.7,209.9 997.5,231.9 1007.9,253.9 1027.1,296.9 1036.5,320.8 1044.2,337.9 1050.9,355.9 1054.8,367.9 1057.1,377.9 1057.9,384.9 1058.3,401.9 1057.9,428.9 1056.6,439.9 1052.9,453.9 1042.9,480.9 1022.5,524.4 1008.1,561.9 997.5,586.4 980.9,629.9 975.2,642.9 962.5,666.8 952.5,682.7 946.5,690.9 941.5,696.7 939.5,697.8 937.5,698 932.5,698Z"/>
<path fill="#0033ff" d="M932.5,162.9 932.5,162.2 943.5,162.6 951.5,164.3 958.5,167 963.4,169.9 967.5,173.2 978.1,184.9 988.3,209.9 995.9,231.9 1006.2,253.9 1024.6,295.9 1034.1,320.9 1041.2,336.9 1048.1,355.9 1051.9,367.9 1054.2,377.9 1055,385.9 1055.4,403.9 1055.1,429.9 1053.7,440.9 1049.9,454.9 1040.1,481.9 1021.5,522.3 1006.1,562.9 996.2,585.9 979.5,629.9 973.8,642.9 961.5,665.4 952.3,679.9 946.5,687.7 941.5,693.6 939.5,694.7 937.5,694.8 932.5,694.8Z"/>
<path fill="#003dff" d="M932.5,163.9 932.5,163.1 941.5,163.3 949.5,165 956.5,167.6 961.5,170.4 965.5,173.5 976.6,184.9 986.8,209.9 994.5,232.2 1004.1,252.9 1023.1,296.9 1031.5,319.9 1039.2,337.9 1045.2,354.9 1049.3,367.9 1051.6,378.9 1052.3,386.9 1052.8,405.9 1052.4,430.9 1051.2,440.9 1047.1,455.9 1037,483.9 1020.3,520.9 1004.9,561.9 994.5,586.5 978,629.9 972.8,641.9 960.6,663.9 951.5,678 941.5,690.6 939.5,691.8 937.5,691.9 932.5,691.9Z"/>
<path fill="#0047ff" d="M932.5,164.9 932.5,164 941.5,164.2 949.5,166.3 955.5,168.6 960.5,171.5 964.5,174.5 971.7,181.9 974.3,183.9 975.7,185.9 985.8,210.9 993.3,232.9 1003,253.9 1021.2,296.9 1029.5,320 1036.9,337.9 1042.8,354.9 1046.8,367.9 1049.1,378.9 1049.7,386.9 1050.2,406.9 1050.1,425.9 1049.6,435.9 1047.9,444.9 1044.4,456.9 1035.3,482.9 1018.5,521.2 1003.8,560.9 992.5,587.9 983.5,610.9 976.2,630.9 970.3,643.9 954.5,670.8 948.5,679.3 942.5,686.8 940.5,688.6 937.5,689.1 932.5,689.1Z"/>
<path fill="#0052ff" d="M932.5,165.9 932.5,165 941.5,165.2 948.5,167.1 954.5,169.6 962.7,174.9 969.9,181.9 972.7,183.9 974.2,185.9 984.4,210.9 991.5,232 1001.1,252.9 1019.1,295.9 1027.5,319.9 1034.8,337.9 1040.2,353.9 1044.4,367.9 1046.6,378.9 1047.3,386.9 1047.9,407.9 1047.8,426.9 1047.2,435.9 1045.4,445.9 1041.9,457.9 1032.9,483.9 1017.5,519.5 1002,561.9 982.8,608.9 974.8,630.9 968.9,643.9 953.5,669.5 942.5,684.1 940.5,685.9 937.5,686.4 932.5,686.4Z"/>
<path fill="#005cff" d="M932.5,166.9 932.5,165.9 940.5,166 946.5,167.6 952.5,170 957.5,172.7 961.5,175.6 968.2,181.9 971.1,183.9 972.7,185.9 983,210.9 990.4,232.9 1000,253.9 1017.4,295.9 1026,320.9 1032.8,337.9 1038.1,353.9 1042.2,367.9 1044.3,378.9 1045,387.9 1045.6,408.9 1045.1,434.9 1043.9,442.9 1041.3,452.9 1031.3,482.9 1015.8,519.9 1000.2,562.9 981.4,608.9 973.4,630.9 967.9,642.9 956.5,662.1 948.5,673.8 941.5,682.5 939.5,683.6 937.5,683.8 932.5,683.8Z"/>
<path fill="#0066ff" d="M932.5,166.9 941.5,167.1 951.7,170.9 959.8,175.9 966.4,181.9 969.5,183.9 971.1,185.9 981.2,209.9 988.6,231.9 998.2,252.9 1015.3,294.9 1024.2,320.9 1031.5,339.9 1038.7,362.9 1041.7,375.9 1042.7,384.9 1043.4,409.9 1043,434.9 1041.8,442.9 1039.3,452.9 1029.1,483.9 1014.5,519.2 998.8,562.9 980,608.9 972,630.9 966.4,642.9 955.5,661 947.3,672.9 941.5,679.9 939.5,681.1 937.5,681.2 932.5,681.3Z"/>
<path fill="#0070ff" d="M932.5,167.9 939.5,167.8 942.5,168.4 949.5,171.1 956.3,174.9 964.7,181.9 969,184.9 974.1,195.9 980.6,211.9 987.3,231.9 997.2,253.9 1014.1,295.9 1022.4,320.9 1029,337.9 1033.7,352.9 1038,367.9 1040,378.9 1040.8,389.9 1041.3,410.9 1040.9,434.9 1039.5,443.9 1037,453.9 1027.3,483.9 1013.1,518.9 997.4,562.9 978.6,608.9 970.6,630.9 965.5,641.9 954.5,659.9 946.5,671.3 941.5,677.5 939.5,678.7 937.5,678.8 932.5,678.8Z"/>
<path fill="#007aff" d="M932.5,168.9 941.5,169.1 948.7,171.9 955.6,175.9 962.9,181.9 967.4,184.9 973.1,196.9 979.3,211.9 986,231.9 995.9,253.9 1012.2,294.9 1020.5,320.3 1027.8,339.9 1034.4,361.9 1037.5,375.9 1038.5,385.9 1039.2,410.9 1038.9,434.9 1037.5,443.9 1035.1,453.9 1025.6,483.9 1011.5,519.3 996.1,562.9 977.3,608.9 969.6,629.9 964,641.9 953.4,658.9 945.5,670.2 940.5,675.9 937.5,676.4 932.5,676.4Z"/>
<path fill="#0085ff" d="M932.5,169.9 938.5,169.7 941.5,170 948.5,173 955,176.9 961.2,181.9 965.8,184.9 972.5,198.9 977.9,211.9 984.5,231.5 994.1,252.9 1010.7,294.9 1019.1,320.9 1026,339.9 1032.7,362.9 1035.5,375.9 1036.5,385.9 1037.3,411.9 1036.8,435.9 1035.6,443.9 1033.2,453.9 1023.9,483.9 1010.5,518.2 995.2,561.9 975.6,609.9 968.2,629.9 963.5,639.9 953.1,656.9 945.4,667.9 940.5,673.5 937.5,674 932.5,674Z"/>
<path fill="#008fff" d="M932.5,170.9 939.5,170.6 944.5,172.2 951.5,175.9 959.4,181.9 964.2,184.9 970.2,196.9 975,207.9 983,230.9 993.2,253.9 1009.2,294.9 1017.4,320.9 1023.6,337.9 1027.8,351.9 1031.8,366.9 1034,378.9 1034.8,390.9 1035.3,412.9 1034.9,435.9 1033.5,444.9 1031.1,454.9 1021.9,484.9 1009.2,517.9 993.9,561.9 974.5,609.3 967.2,628.9 962.6,638.9 959.8,643.9 952.1,655.9 944.5,666.7 940.5,671.2 937.5,671.7 932.5,671.7Z"/>
<path fill="#0099ff" d="M932.5,171.9 932.5,171.6 939.5,171.6 943.5,172.8 950.5,176.6 957.6,181.9 962.5,184.9 968.5,196.3 974.1,208.9 981.7,230.9 991.9,253.9 1007.8,294.9 1015.9,320.9 1022.6,339.9 1028.8,361.9 1031.7,375.9 1032.6,385.9 1033.4,412.9 1033,435.9 1031.7,444.9 1029.3,454.9 1020.3,484.9 1007.5,518.8 993,560.9 973,609.9 965.8,628.9 961.6,637.9 958.3,643.9 943.5,665.6 940.5,668.9 937.5,669.4 932.5,669.4Z"/>
<path fill="#00a3ff" d="M932.5,172.9 932.5,172.6 939.5,172.6 942.5,173.4 949,176.9 960.8,184.9 967.4,196.9 973.1,209.9 980.4,230.9 990.7,253.9 1006,293.9 1014.3,320.9 1020.9,339.9 1027,361.9 1029.8,375.9 1030.8,385.9 1031.5,413.9 1031.1,436.9 1029.7,445.9 1027.3,455.9 1018.8,484.9 1006.5,517.9 992.2,559.9 971.7,609.9 964.8,627.9 961.2,635.9 956.8,643.9 943.5,663.3 940.5,666.6 937.5,667.1 932.5,667.1Z"/>
<path fill="#00adff" d="M932.5,173.9 932.5,173.6 938.5,173.6 941.5,174.1 947.5,177.2 959.1,184.9 965.9,196.9 972.2,210.9 978.8,229.9 989.4,253.9 1004.6,293.9 1012.8,320.9 1019.2,339.9 1025.4,362.9 1028.1,376.9 1029,387.9 1029.7,414.9 1029.3,436.9 1027.9,445.9 1025.3,456.9 1016.9,485.9 1005.5,516.9 991,559.9 970.4,609.9 963.9,626.9 960.3,634.9 955.3,643.9 943.5,661 940.5,664.3 937.5,664.9 932.5,664.9Z"/>
<path fill="#00b8ff" d="M932.5,174.9 932.5,174.6 938.5,174.6 941.5,175.1 955.9,183.9 958.2,185.9 964.5,196.8 970.1,208.9 978,230.9 988.6,254.9 1004.6,297.9 1011.3,320.9 1017.1,337.9 1023.2,360.9 1025.5,371.9 1026.9,381.9 1027.9,415.9 1027.5,436.9 1026.2,445.9 1023.6,456.9 1015.4,485.9 1004.2,516.9 990.1,558.9 959.4,633.9 953.7,643.9 942.6,659.9 940.5,662.1 937.5,662.7 932.5,662.7Z"/>
<path fill="#00c2ff" d="M932.5,175.9 938.5,175.6 941.5,176.2 954.1,183.9 956.5,185.9 962.6,195.9 968.5,208.3 976.8,230.9 987.4,254.9 1003.3,297.9 1009.5,319.9 1015.5,337.9 1021.3,359.9 1023.6,370.9 1025,380.9 1026.1,415.9 1025.8,436.9 1024.4,445.9 1021.9,456.9 1013.9,485.9 1002.9,516.9 989.7,556.9 983.1,573.9 958.5,632.9 952.8,642.9 942.5,657.8 940.5,659.9 937.5,660.5 932.5,660.5Z"/>
<path fill="#00ccff" d="M932.5,176.9 938.5,176.7 941.5,177.3 952.3,183.9 954.7,185.9 961.1,195.9 967,207.9 975.6,230.9 986.6,255.9 1001.9,297.9 1008.4,320.9 1013.9,337.9 1019.6,359.9 1021.9,370.9 1023.2,380.9 1024.4,416.9 1023.9,437.9 1022.6,446.9 1020,457.9 1012.1,486.9 1001.6,516.9 988.8,555.9 981.1,575.9 957.5,632 951.3,642.9 942.5,655.5 940.5,657.7 937.5,658.3 932.5,658.3Z"/>
<path fill="#00d6ff" d="M932.5,177.9 939.5,177.8 942.5,178.9 952,184.9 957.2,191.9 961.3,198.9 966.6,209.9 974.4,230.9 985.7,256.9 1000.6,297.9 1006.9,320.9 1012.4,337.9 1017.9,359.9 1020.3,371.9 1021.5,381.9 1022.6,417.9 1022.2,437.9 1020.9,446.9 1018.2,458.9 1010.6,486.9 988,554.9 979.1,577.9 956.5,631.2 950.4,641.9 942.5,653.3 940.5,655.4 937.5,656.1 932.5,656.1Z"/>
<path fill="#00e0ff" d="M932.5,178.9 939.5,178.9 942.1,179.9 950.2,184.9 956.4,192.9 960.5,199.9 965.3,209.9 972.8,229.9 984.9,257.9 999.3,297.9 1005.5,320.9 1010.8,337.9 1016.2,359.9 1018.6,371.9 1019.8,381.9 1020.9,418.9 1020.9,431.9 1020.4,438.9 1019,447.9 1016.3,459.9 1009.2,486.9 987.2,553.9 977.2,579.9 955.5,630.4 949.5,640.9 942.5,651 940.5,653.2 937.5,653.9 932.5,653.9Z"/>
<path fill="#00ebff" d="M932.5,180.9 932.5,180 939.5,180.1 941.5,180.7 949.4,185.9 955.6,193.9 959.5,200.6 964.5,210.9 971.6,229.9 980.2,248.9 984.1,258.9 998,297.9 1004.1,320.9 1009.3,337.9 1014.6,359.9 1016.9,371.9 1018.1,381.9 1019.2,418.9 1019.2,431.9 1018.8,438.9 1017.4,447.9 1015,458.9 1007.8,486.9 986.8,551.9 976,579.9 954.5,629.7 948.7,639.9 941.7,649.9 939.5,651.5 937.5,651.6 932.5,651.7Z"/>
<path fill="#00f5ff" d="M932.5,181.9 932.5,181.2 937.5,181.2 941.5,181.9 947.6,185.9 954.8,194.9 958.5,201.3 963.2,210.9 970.5,229.9 979,248.9 983.3,259.9 997,298.9 1002.5,320.2 1007.8,337.9 1013,359.9 1015.2,371.9 1016.4,381.9 1017.5,419.9 1017.6,431.9 1017.1,438.9 1015.8,447.9 1013.2,459.9 1006.1,487.9 986,550.9 974.1,581.9 954.1,627.9 949.1,636.9 942.5,646.5 940.5,648.8 937.5,649.4 932.5,649.4Z"/>
<path fill="#00ffff" d="M932.5,182.9 932.5,182.4 939.5,182.5 944.5,184.9 950.5,191.1 956.4,199.9 962.4,211.9 969.5,230.3 979.2,251.9 993.1,290.9 996,299.9 1001.3,320.9 1006.3,337.9 1012.9,367.9 1014.8,383.9 1015.9,420.9 1015.8,433.9 1014.8,443.9 1012.8,454.9 1007.4,477.9 1003.8,490.9 985.3,549.9 973,581.9 953.2,626.9 948.5,635.5 942.5,644.4 940.5,646.6 937.5,647.2 932.5,647.2Z"/>
<path fill="#0afff5" d="M932.5,183.9 939.5,183.7 943.5,185.6 949.6,191.9 955.6,200.9 961.1,211.9 968.5,230.6 978.1,251.9 991.9,290.9 994.7,299.9 999.7,319.9 1004.9,337.9 1011.1,366.9 1013.1,383.9 1014.3,421.9 1014.2,433.9 1013.2,443.9 1011.2,454.9 1006,477.9 1002.1,491.9 984.9,547.9 971.9,581.9 952.4,625.9 948.1,633.9 942.5,642.2 940.5,644.4 937.5,645 932.5,645Z"/>
<path fill="#14ffeb" d="M932.5,185.9 932.5,185 938.5,185 940.5,185.3 942.5,186.4 948.9,192.9 954.8,201.9 959.9,211.9 967.5,230.8 977,251.9 991.1,291.9 1003.5,337.9 1009.8,367.9 1011.6,383.9 1012.7,422.9 1012.7,433.9 1011.7,443.9 1009.8,454.9 1004.6,477.9 1000.9,491.9 983.8,547.9 970.9,581.9 951.6,624.9 947.5,632.5 942.5,640 940.5,642.2 937.5,642.8 932.5,642.8Z"/>
<path fill="#1fffe0" d="M932.5,186.9 932.5,186.3 939.5,186.4 942.5,187.9 949,194.9 954.6,203.9 959.1,212.9 966.5,230.9 975.9,251.9 990,291.9 1002.2,337.9 1008.2,366.9 1010.1,383.9 1011.2,422.9 1011.2,434.9 1010.1,444.9 1003.1,478.9 999.1,493.9 983.1,546.9 969.9,581.9 951.3,622.9 947.1,630.9 942.5,637.9 940.5,640.1 937.5,640.7 932.5,640.7Z"/>
<path fill="#29ffd6" d="M932.5,187.9 939.5,187.8 942.5,189.4 948.5,196.2 954.5,206 957.9,212.9 974.9,251.9 988.9,291.9 1001,337.9 1006.8,366.9 1008.7,383.9 1009.8,422.9 1009.8,434.9 1008.8,444.9 1001.9,478.9 997.9,493.9 982.1,546.9 975.2,565.9 968.1,583.9 950.6,621.9 946.3,629.9 941.7,636.9 939.5,638.5 937.5,638.6 932.5,638.6Z"/>
<path fill="#33ffcc" d="M932.5,189.9 932.5,189.1 938.5,189.1 941.5,190.1 947.6,196.9 953.7,206.9 957.2,213.9 973.9,251.9 987.8,291.9 999.8,337.9 1005.6,366.9 1007.4,383.9 1008.5,422.9 1008.4,434.9 1007.5,444.9 1000.8,478.9 997.1,492.9 981.1,546.9 967.1,583.9 949.9,620.9 945.6,628.9 941.5,635.1 939.5,636.4 937.5,636.6 932.5,636.6Z"/>
<path fill="#3dffc2" d="M932.5,190.9 938.5,190.6 941.5,191.6 947.5,198.7 953.6,208.9 972.9,251.9 987.1,292.9 998.7,337.9 1004.3,366.9 1006.1,383.9 1007.2,422.9 1007.1,434.9 1006.2,444.9 999.9,477.9 996.1,492.9 980.8,544.9 974,563.9 966.2,583.9 949.7,618.9 945.5,626.9 941.5,633 939.5,634.5 937.5,634.6 932.5,634.6Z"/>
<path fill="#47ffb8" d="M932.5,192.9 932.5,192.1 938.5,192.1 941.5,193.2 946.5,199.2 952.4,208.9 972,251.9 985.8,291.9 997.6,337.9 1003,365.9 1004.9,382.9 1005.9,421.9 1005.9,434.9 1005,444.9 998.8,477.9 995.1,492.9 979.9,544.9 968.9,574.9 960.2,594.9 944.3,626.9 940.5,632 937.5,632.7 932.5,632.7Z"/>
<path fill="#52ffad" d="M932.5,193.9 938.5,193.6 940.5,194.1 941.5,194.8 946.3,200.9 951.7,209.9 971.1,251.9 985.2,292.9 996.4,336.9 1001.8,365.9 1003.7,382.9 1004.7,421.9 1004.6,434.9 1003.8,444.9 997.7,477.9 994,492.9 978.9,544.9 968,574.9 959.8,593.9 943.5,626.1 940.5,630.1 937.5,630.7 932.5,630.7Z"/>
<path fill="#5cffa3" d="M932.5,195.9 932.5,195.2 938.5,195.2 940.5,195.7 941.5,196.4 945.7,201.9 950.5,209.9 959.3,227.9 969.7,250.9 983.9,291.9 995.3,336.9 1000.7,365.9 1002.5,382.9 1003.5,420.9 1003.5,433.9 1002.7,443.9 1000.9,455.9 996.7,477.9 993.1,492.9 978.7,542.9 967,574.9 959.8,591.9 943,624.9 940.5,628.2 937.5,628.8 932.5,628.8Z"/>
<path fill="#66ff99" d="M932.5,196.9 939.5,196.9 941.3,197.9 945.1,202.9 949.9,210.9 958.4,227.9 968.8,250.9 983.3,292.9 994.3,336.9 999.6,365.9 1001.4,382.9 1002.3,419.9 1002.3,433.9 1001.5,443.9 999.8,455.9 995.7,477.9 992.1,492.9 978.1,541.9 974.1,553.9 966.9,572.9 959.4,590.9 942.5,623.7 940.5,626.3 937.5,626.9 932.5,626.9Z"/>
<path fill="#70ff8f" d="M932.5,198.9 932.5,198.4 937.5,198.4 940.5,198.9 943.8,202.9 949.3,211.9 954.5,222.9 957.5,228 968,250.9 972.8,263.9 982.1,291.9 993.3,336.9 998.2,363.9 1000.2,381.9 1001.1,418.9 1001.1,433.9 1000.4,443.9 998.7,455.9 994.7,477.9 991.2,492.9 977.5,540.9 972.9,554.9 963.7,578.9 959,589.9 953,600.9 942.5,621.8 940.5,624.4 937.5,625.1 932.5,625.1Z"/>
<path fill="#7aff85" d="M932.5,200.9 932.5,200 938.5,200.1 940.5,200.6 943.5,204.2 948.1,211.9 953.5,222.9 957,228.9 967.1,250.9 971.9,263.9 981.2,291.9 984,301.9 992.4,336.9 997.2,363.9 999.1,381.9 1000,418.9 1000,433.9 999.3,443.9 993.7,477.9 990.2,492.9 977,539.9 972,554.9 962.9,578.9 958.1,589.9 955.1,595.9 952,600.9 942.5,619.9 940.5,622.5 937.5,623.2 932.5,623.2Z"/>
<path fill="#85ff7a" d="M932.5,201.9 939.5,201.9 941.5,203.3 945.8,209.9 952.5,222.9 955.1,226.9 967.4,253.9 980.6,292.9 991.4,336.9 996.1,363.9 998,381.9 998.8,417.9 998.9,432.9 998.2,443.9 992.8,477.9 989,493.9 976.1,539.9 971.5,553.9 957.7,588.9 954.2,595.9 951,600.9 942.5,617.9 940.5,620.6 937.5,621.4 932.5,621.4Z"/>
<path fill="#8fff70" d="M932.5,203.9 932.5,203.4 938.5,203.4 940.5,204.1 941.5,205 945.9,211.9 951.4,222.9 954.2,226.9 961.9,242.9 966.5,253.9 979.4,291.9 982.2,301.9 990.2,335.9 995,362.9 996.9,381.9 997.7,415.9 997.8,432.9 997.2,442.9 995.7,454.9 992,476.9 988.4,492.9 975.9,537.9 970.7,553.9 961.1,578.9 956.9,588.9 953.3,595.9 950.1,600.9 941.5,617.6 939.5,619.4 937.5,619.6 932.5,619.6Z"/>
<path fill="#99ff66" d="M932.5,205.9 932.5,205.2 938.5,205.2 940.5,205.8 941.5,206.8 945.3,212.9 950.4,222.9 953.8,227.9 961,242.9 966.1,254.9 978.5,291.9 981.3,301.9 989.3,335.9 993.8,361.9 995.8,380.9 996.6,414.9 996.6,432.9 996.1,442.9 994.5,455.9 991.1,476.9 987.5,492.9 975,537.9 969.8,553.9 956.5,587.9 952.4,595.9 949.1,600.9 941.5,615.8 939.5,617.5 937.5,617.7 932.5,617.7Z"/>
<path fill="#a3ff5c" d="M932.5,207.9 932.5,206.9 938.5,206.9 940.5,207.6 943,210.9 949.4,222.9 952.9,227.9 960.1,242.9 965.2,254.9 977.7,291.9 980.4,301.9 988.4,335.9 992.6,360.9 994.7,380.9 995.5,413.9 995.6,431.9 995.1,441.9 993.6,454.9 990.1,476.9 986.6,492.9 974.8,535.9 969,553.9 955.6,587.9 951.5,595.9 948.2,600.9 941.5,613.9 939.5,615.7 937.5,615.9 932.5,615.9Z"/>
<path fill="#adff52" d="M932.5,208.9 938.5,208.7 940.5,209.4 942.5,211.9 948.4,222.9 952.5,228.9 959.3,242.9 964.4,254.9 976.8,291.9 979.5,301.9 987.4,335.9 991.5,359.9 993.6,379.9 994.3,411.9 994.5,431.9 994,441.9 992.5,454.9 989.2,476.9 985.7,492.9 974,535.9 968.5,552.9 955.2,586.9 950.6,595.9 947.2,600.9 941.5,612.1 939.5,613.9 937.5,614.1 932.5,614.1Z"/>
<path fill="#b8ff47" d="M932.5,210.9 932.5,210.4 938.5,210.5 940.5,211.2 942.5,213.8 947.5,222.9 951.6,228.9 958.4,242.9 963.5,254.9 975.9,291.9 978.7,301.9 986.5,335.9 990.3,358.9 992.6,379.9 993.2,410.9 993.4,431.9 992.9,441.9 991.5,454.9 988.4,475.9 984.8,492.9 973.7,533.9 967.7,552.9 954.4,586.9 949.7,595.9 946.8,599.9 941.5,610.2 939.5,612.1 937.5,612.3 932.5,612.3Z"/>
<path fill="#c2ff3d" d="M932.5,212.9 932.5,212.2 937.5,212.2 940.5,212.9 942.5,215.6 946.5,222.9 950.7,228.9 957.6,242.9 962.7,254.9 974.8,290.9 977.8,301.9 985.3,334.9 989,356.9 991.5,378.9 992.1,408.9 992.3,430.9 991.9,440.9 990.5,454.9 987.5,475.9 983.9,492.9 973.2,532.9 966.9,552.9 953.9,585.9 949.5,594.6 945.9,599.9 941.5,608.4 939.5,610.3 937.5,610.5 932.5,610.5Z"/>
<path fill="#ccff33" d="M932.5,214.9 932.5,214 938.5,214 940.5,214.7 950.3,229.9 956.7,242.9 961.8,254.9 973.9,290.9 976.9,301.9 984.4,334.9 987.9,355.9 990.3,377.9 991,406.9 991.1,433.9 990.1,448.9 986,478.9 981.8,497.9 969.4,542.9 956,578.9 950.6,590.9 947.8,595.9 945,599.9 941.5,606.6 939.5,608.5 937.5,608.7 932.5,608.7Z"/>
<path fill="#d6ff29" d="M932.5,215.9 938.5,215.8 940.5,216.5 949.5,230.2 955.9,242.9 961,254.9 972.8,289.9 976,301.9 983.3,333.9 986.4,352.9 989.2,376.9 989.9,404.9 990.1,432.9 989.2,447.9 985.1,478.9 981.1,496.9 968.9,541.9 965.2,552.9 955.5,578.1 950.2,589.9 941.5,604.7 939.5,606.7 937.5,606.9 932.5,606.9Z"/>
<path fill="#e0ff1f" d="M932.5,217.9 932.5,217.5 938.5,217.5 940.5,218.3 948.9,230.9 955,242.9 960.2,254.9 971.9,289.9 975.2,301.9 982.1,332.9 985,349.9 988.1,375.9 988.8,402.9 989,432.9 988.2,446.9 984.3,477.9 980.5,495.9 968.2,541.9 955.1,576.9 950.8,586.9 945.9,595.9 940.5,604.2 939.5,604.9 937.5,605.1 932.5,605.1Z"/>
<path fill="#ebff14" d="M932.5,219.9 932.5,219.2 937.5,219.2 939.5,219.4 940.5,220 948,230.9 954.1,242.9 959.3,254.9 970.7,288.9 975,304.9 982.8,341.9 986.8,372.9 987.7,400.9 987.9,431.9 987.2,445.9 983.4,477.9 979.9,494.9 967.7,540.9 954.7,575.9 950.4,585.9 944.9,595.9 940.5,602.4 939.5,603.1 937.5,603.3 932.5,603.3Z"/>
<path fill="#f5ff0a" d="M932.5,221.9 932.5,221 938.5,221 940.5,221.8 944.5,226.9 947.5,231.7 953.3,242.9 958.5,254.9 969.6,287.9 973.9,303.9 981.5,339.9 985.6,371.9 986.5,397.9 986.8,431.9 986.1,445.9 982.6,476.9 979.2,493.9 967.2,539.9 954.2,574.9 949.5,585.9 943.9,595.9 940.5,600.5 939.5,601.2 937.5,601.5 932.5,601.5Z"/>
<path fill="#ffff00" d="M932.5,222.9 938.5,222.7 940.5,223.4 943.5,226.9 947.5,233.5 952.9,243.9 958,255.9 968.7,287.9 973,303.9 980.6,339.9 984.5,370.9 985.4,396.9 985.7,431.9 985,445.9 981.5,477.9 978.1,494.9 966.1,540.9 953.7,573.9 948.6,585.9 943.5,594.8 940.5,598.8 939.5,599.4 937.5,599.6 932.5,599.6Z"/>
<path fill="#fff500" d="M932.5,224.9 932.5,224.3 937.5,224.3 940.5,225 943.1,227.9 946.5,233.4 952,243.9 956.8,254.9 967.2,285.9 972.1,303.9 979.4,338.9 983.3,369.9 984.3,393.9 984.5,430.9 984,444.9 980.6,476.9 977.4,493.9 967.2,534.9 962.2,549.9 951.7,576.9 947.5,586.1 941.5,596.1 939.5,597.6 937.5,597.8 932.5,597.8Z"/>
<path fill="#ffeb00" d="M932.5,226.9 932.5,225.9 938.5,225.9 940.5,226.5 942.5,228.7 945.8,233.9 951.1,243.9 955.9,254.9 966.1,284.9 971,302.9 978.3,337.9 982.2,368.9 983.2,391.9 983.4,430.9 983,443.9 979.7,476.9 976.8,492.9 967,532.9 962.2,547.9 951.2,575.9 947.2,584.9 941.5,594.3 939.5,595.9 937.5,596 932.5,596Z"/>
<path fill="#ffe000" d="M932.5,227.9 932.5,227.5 938.5,227.5 940.5,228.1 942.5,230.3 945.5,235 950.5,244.5 955.1,254.9 965,283.9 970.1,302.9 977.2,336.9 981,366.9 982.1,389.9 982.4,429.9 981.9,443.9 978.7,476.9 975.9,492.9 966.3,532.9 961.9,546.9 950.5,575.6 946.5,584.4 941.5,592.7 939.5,594.1 937.5,594.3 932.5,594.3Z"/>
<path fill="#ffd600" d="M932.5,229.9 932.5,229 938.5,229 940.5,229.6 942.5,231.9 945,235.9 949.8,244.9 954.2,254.9 959.7,269.9 963.9,282.9 969.3,302.9 976.3,336.9 979.8,365.9 981,387.9 981.3,429.9 980.9,443.9 977.8,476.9 975.1,492.9 966.2,530.9 962,544.9 949.9,574.9 945.8,583.9 941.5,591 939.5,592.5 937.5,592.6 932.5,592.6Z"/>
<path fill="#ffcc00" d="M932.5,230.9 932.5,230.5 938.5,230.5 940.5,231.1 944.7,236.9 949,244.9 953.4,254.9 958.9,269.9 963.1,282.9 968.7,303.9 975.4,336.9 978.8,365.9 979.9,386.9 980.3,429.9 979.9,443.9 976.9,476.9 974.1,493.9 965.3,531.9 961.3,544.9 956.5,555.9 949.1,574.9 945.5,582.7 941.5,589.3 939.5,590.8 937.5,591 932.5,591Z"/>
<path fill="#ffc200" d="M932.5,232.9 932.5,232 939.5,232.1 941.5,233.6 943.7,236.9 948.1,244.9 952.1,253.9 958.2,269.9 962,281.9 967.9,303.9 974.4,335.9 977.8,364.9 978.9,385.9 979.2,429.9 978.9,443.9 976,476.9 973.3,493.9 965.1,529.9 961.1,543.9 955.6,555.9 949.1,572.9 945,581.9 942.5,586.3 940.5,588.7 937.5,589.4 932.5,589.4Z"/>
<path fill="#ffb800" d="M932.5,233.9 932.5,233.4 939.5,233.6 941.5,235.1 944,238.9 948.2,246.9 951.7,254.9 957.5,269.9 961.6,282.9 967.1,303.9 973.5,335.9 976.8,364.9 977.9,385.9 978.2,429.9 977.8,444.9 975.2,476.9 972.3,494.9 964.3,530.9 960.5,543.9 957.5,550.9 954.8,555.9 948.7,571.9 944.5,581 940.5,587.2 937.5,587.8 932.5,587.8Z"/>
<path fill="#ffad00" d="M932.5,234.9 939.5,235 941.5,236.5 943.5,239.6 947.4,246.9 950.9,254.9 956.7,269.9 960.8,282.9 966.5,304.9 972.7,335.9 975.7,363.9 976.9,384.9 977.2,429.9 976.8,444.9 974.3,476.9 971.5,494.9 964.2,528.9 960.2,542.9 956.8,550.9 954,555.9 947.8,571.9 943.7,580.9 940.5,585.6 937.5,586.3 932.5,586.3Z"/>
<path fill="#ffa300" d="M932.5,236.9 932.5,236.3 939.5,236.5 941.4,237.9 942.7,239.9 946.5,246.9 950.1,254.9 954,265.9 956,269.9 960.1,282.9 966,305.9 971.8,335.9 974.8,363.9 975.8,384.9 976.2,429.9 975.8,444.9 973.3,477.9 970.6,495.9 963.6,528.9 959.6,542.9 956.2,550.9 953.2,555.9 947.4,570.9 943.5,579.5 940.5,584 937.5,584.7 932.5,584.7Z"/>
<path fill="#ff9900" d="M932.5,237.9 939.5,237.9 940.5,238.4 942.5,241 947.6,250.9 953.2,265.9 955.3,269.9 959.6,283.9 965.4,306.9 971,335.9 973.8,362.9 974.8,384.9 975.2,430.9 974.8,445.9 972.5,477.9 969.6,496.9 963,528.9 959.1,542.9 955.5,550.9 952.3,555.9 947,569.9 942.9,578.9 940.5,582.5 937.5,583.2 932.5,583.2Z"/>
<path fill="#ff8f00" d="M932.5,239.9 932.5,239.2 939.5,239.4 940.5,239.9 942.5,242.5 947.2,251.9 952.4,265.9 954.6,269.9 958.6,282.9 964.6,306.9 970,334.9 972.8,362.9 973.8,384.9 974.2,430.9 973.8,446.9 971.5,478.9 968.7,497.9 962.4,528.9 958.5,542.9 954.9,550.9 951.5,555.9 946.2,569.9 942.5,578 940.5,580.9 939.5,581.5 937.5,581.7 932.5,581.7Z"/>
<path fill="#ff8500" d="M932.5,240.9 939.5,240.8 940.5,241.4 942.5,244.1 947.2,253.9 951.6,265.9 953.8,269.9 957.9,282.9 964.1,307.9 969.1,334.9 971.8,361.9 972.8,383.9 973.2,430.9 972.8,446.9 970.7,478.9 968,497.9 962,527.9 958.3,541.9 954.2,550.9 950.7,555.9 945.9,568.9 942.5,576.4 940.5,579.3 939.5,579.9 937.5,580.1 932.5,580.1Z"/>
<path fill="#ff7a00" d="M932.5,242.9 932.5,242.1 939.5,242.3 940.5,242.8 942,244.9 946.4,253.9 950.7,265.9 953.1,269.9 957.4,283.9 963.5,308.9 968.3,334.9 970.8,361.9 971.8,383.9 972.2,430.9 971.8,447.9 969.8,478.9 967,498.9 961.5,527.9 957.7,541.9 953.6,550.9 949.9,555.9 945.1,568.9 941.8,575.9 940.3,577.9 937.5,578.6 932.5,578.6Z"/>
<path fill="#ff7000" d="M932.5,243.9 932.5,243.5 939.5,243.8 941.5,245.5 945.6,253.9 949.9,265.9 952.4,269.9 956.7,283.9 962.9,309.9 967.4,334.9 969.8,360.9 970.8,383.9 971.2,430.9 970.8,448.9 968.9,479.9 966.1,499.9 960.9,527.9 957.1,541.9 952.9,550.9 949.1,555.9 944.7,567.9 941.5,574.8 939.5,576.8 937.5,577 932.5,577Z"/>
<path fill="#ff6600" d="M932.5,245.9 932.5,245 938.5,245.1 940.5,245.9 941.5,247.1 945.2,254.9 949.1,265.9 951.6,269.9 955.9,283.9 962.1,309.9 966.4,333.9 968.8,359.9 969.8,383.9 970.2,430.9 969.8,449.9 968,479.9 965.2,500.9 960.3,527.9 956.6,541.9 952.2,550.9 948.3,555.9 944.3,566.9 941.5,573.2 939.5,575.2 937.5,575.4 932.5,575.4Z"/>
<path fill="#ff5c00" d="M932.5,246.9 932.5,246.6 939.5,246.8 941.5,248.7 944.8,255.9 948.3,265.9 950.9,269.9 955.4,284.9 961.5,310.9 965.5,333.9 967.7,358.9 968.8,382.9 969.1,430.9 968.8,449.9 967.1,479.9 964.5,500.9 959.7,527.9 956,541.9 951.5,550.9 947.5,555.9 941.5,571.4 939.5,573.6 937.5,573.8 932.5,573.8Z"/>
<path fill="#ff5200" d="M932.5,248.9 932.5,248.1 938.5,248.2 940.5,249 941.5,250.4 944.4,256.9 947.4,265.9 949.6,268.9 950.5,270.9 954.5,284.3 960.7,310.9 964.6,333.9 966.8,358.9 967.8,382.9 968.1,430.9 967.7,450.9 966.2,480.9 963.5,502.1 959,527.9 955.3,541.9 950.8,550.9 947.2,554.9 941.5,569.7 939.5,571.9 937.5,572.1 932.5,572.1Z"/>
<path fill="#ff4700" d="M932.5,249.9 939.5,250 941.5,252.1 944,257.9 946.6,265.9 948.8,268.9 949.7,270.9 954.1,285.9 960.3,312.9 963.7,333.9 965.8,358.9 966.7,382.9 967.1,431.9 966.7,452.9 965.2,481.9 962.5,503.9 958.4,527.9 954.7,541.9 950.1,550.9 946.4,554.9 941.5,567.9 939.5,570.2 937.5,570.4 932.5,570.4Z"/>
<path fill="#ff3d00" d="M932.5,251.9 932.5,251.4 939.5,251.7 941.5,253.9 945.8,265.9 948.9,270.9 953.5,286.7 959.5,313.2 962.8,333.9 964.7,357.9 965.7,382.9 966,431.9 965.6,453.9 964.3,481.9 961.5,505.1 957.6,528.9 954.1,541.9 949.4,550.9 945.6,554.9 942.5,563.6 940.5,567.6 939.5,568.4 937.5,568.7 932.5,568.7Z"/>
<path fill="#ff3300" d="M932.5,253.9 932.5,253.1 938.5,253.2 939.5,253.4 940.9,254.9 942.5,258.2 945,265.9 948.1,270.9 952.5,286.1 958.5,312.6 961.8,332.9 963.6,355.9 964.6,381.9 965,431.9 964.5,455.9 963.3,482.9 960.5,506.5 956.9,528.9 953.5,541.6 948.6,550.9 944.7,554.9 941.9,562.9 940.5,565.7 939.5,566.6 937.5,566.8 932.5,566.8Z"/>
<path fill="#ff2900" d="M932.5,255.9 932.5,255 937.5,255 939.5,255.3 940.5,256.1 942.3,259.9 944.1,265.9 946.3,268.9 947.5,271.7 951.6,285.9 957.5,312.2 960.7,331.9 962.5,355.7 963.5,381.9 963.9,431.9 963.4,456.9 962.2,483.9 959.5,507.8 956.4,527.9 952.7,541.9 948.4,549.9 943.9,554.9 940.5,563.7 939.5,564.6 937.5,564.9 932.5,564.9Z"/>
<path fill="#ff1f00" d="M932.5,257.9 932.5,257 937.5,257 939.5,257.3 940.5,258.2 943.3,265.9 945.3,268.9 946.6,271.9 951.5,289.5 956.9,313.9 959.8,332.9 961.5,356.9 962.4,381.9 962.7,431.9 962.3,457.9 961.2,484.9 958.5,508.8 955.5,528.3 951.9,541.9 947.5,549.9 943.1,554.9 940.5,561.6 939.5,562.5 937.5,562.9 932.5,562.9Z"/>
<path fill="#ff1400" d="M932.5,259.9 932.5,259.1 938.5,259.2 939.5,259.5 940.5,260.5 942.5,265.9 944.9,269.9 946,272.9 950.5,289.4 955.7,312.9 958.6,331.9 960.2,354.9 961.2,381.9 961.6,431.9 961.2,458.9 960.1,484.9 957.5,509.5 954.5,529.2 951.4,540.9 947.5,548.4 942.2,554.9 940.5,559.2 939.5,560.3 937.5,560.6 932.5,560.6Z"/>
<path fill="#ff0a00" d="M932.5,261.9 938.5,261.7 939.5,262 940.5,263.2 945.3,273.9 949.5,289.6 954.6,312.9 957.5,332.1 959.1,354.9 960,381.9 960.4,430.9 960,459.9 958.9,485.9 956.5,509.6 953.5,529.4 950.4,540.9 947.5,546.7 944.6,550.9 941.8,553.9 940.5,556.5 939.5,557.7 937.5,558.1 932.5,558.1Z"/>
<path fill="#ff0000" d="M932.5,264.9 937.5,264.6 939.5,265.1 942.5,269.9 946.5,282.1 951.5,303.6 954.5,318.8 956.7,335.9 958,358.9 958.8,382.9 959.2,429.9 958.8,458.9 957.8,485.9 955.5,508.8 952.5,528.9 949.5,540.2 947.5,544.5 943.5,550.5 939.5,554.7 937.5,555.2 932.5,555.2Z"/>
<path fill="#f50000" d="M932.5,268.9 932.5,268.6 939.5,268.9 941.5,271.3 945.5,283.2 950.5,304.6 953.3,318.9 955.4,335.9 956.7,358.9 957.5,382.9 957.9,426.9 957.6,455.9 956.6,483.9 954.5,507.1 951.5,527.5 948.1,539.9 945.6,544.9 942.5,549.1 940.5,550.9 937.5,551.6 932.5,551.6Z"/>
<path fill="#eb0000" d="M932.5,273.9 932.5,273.1 938.5,273.1 940.5,274.1 941.5,275.8 944.5,284.9 948.5,301.6 951.8,317.9 953.9,334.9 955.3,356.9 956.1,380.9 956.6,419.9 956.5,448.9 955.5,480.1 953.8,501.9 950.9,522.9 947.7,535.9 945.7,540.9 943.5,544.4 940.5,547.1 938.5,547.5 932.5,547.5Z"/>
<path fill="#e00000" d="M932.5,278.9 932.5,277.9 937.5,277.9 939.5,278.2 940.5,279.1 943.5,287 948.5,307.9 950.7,319.9 952.7,336.9 954.8,381.9 955.3,418.9 955.1,447.9 954.1,479.9 952.5,500.9 949.8,520.9 946.9,532.9 945.4,536.9 943.2,540.9 941.5,542.5 938.5,543.2 932.5,543.3Z"/>
<path fill="#d60000" d="M932.5,283.9 932.5,283.2 938.5,283.2 940.5,284.5 943.5,293.1 947.4,309.9 949.5,321.9 951.3,337.9 953.5,383.9 954,417.9 953.8,445.9 952.8,477.9 951.4,497.9 949,516.9 946.3,528.9 944.5,533.8 942.5,537.1 940.5,538.4 938.5,538.7 932.5,538.7Z"/>
<path fill="#cc0000" d="M932.5,289.9 932.5,289 938.5,289.1 939.5,289.4 940.5,290.4 942.5,296 946.2,311.9 948.3,323.9 949.8,337.9 951.3,361.9 952.1,385.9 952.6,416.9 952.5,443.9 951.4,475.9 950,495.9 948,512.9 945.5,524.9 942.5,531.8 940.5,533.4 938.5,533.7 932.5,533.7Z"/>
<path fill="#c20000" d="M932.5,295.9 932.5,295.5 938.5,295.6 939.5,295.9 940.5,297.1 942.5,303.1 944.9,313.9 946.9,325.9 948.4,339.9 949.8,362.9 950.7,387.9 951.2,416.9 951.1,441.9 950.1,472.9 948.7,492.9 946.9,508.9 944.5,520.7 942.9,524.9 941.5,527.1 940.5,527.9 938.5,528.3 932.5,528.3Z"/>
<path fill="#b80000" d="M932.5,303.9 932.5,302.9 938.5,303 939.5,303.4 940.5,304.7 941.5,307.4 943.5,315.9 945.5,328.7 947,343.9 948.5,366.9 949.4,390.9 949.7,439.9 948.8,465.9 947.5,487.5 945.6,504.9 943.7,514.9 941.5,520.5 940.5,521.6 938.5,522.2 932.5,522.2Z"/>
<path fill="#ad0000" d="M932.5,311.9 937.5,311.8 939.5,312.3 941.2,315.9 942.5,321.7 944.5,336.3 946,353.9 948.1,397.9 948.1,442.9 947.2,465.9 945.8,485.9 944.2,500.9 942.5,509.5 940.5,514.1 939.5,514.8 937.5,515 932.5,515Z"/>
<path fill="#a30000" d="M932.5,323.9 932.5,322.9 938.5,323 939.5,323.5 940.5,325.5 941.5,329.8 944.6,357.9 946.5,396.9 946.7,437.9 944.7,476.9 943.4,489.9 941.5,501.5 940.5,504.4 939.5,505.6 937.5,506 932.5,506Z"/>
<path fill="#990000" d="M932.5,338.9 932.5,338.1 938.5,338.2 939.5,338.9 940.5,341.4 941.6,347.9 943.1,362.9 944.9,395.9 945.2,431.9 943.7,466.9 942.5,479.2 941.1,487.9 939.5,492.3 937.5,492.9 932.5,492.9Z"/>
<path fill="#8f0000" d="M932.5,355.9 932.5,355.3 938.5,355.5 939.5,356.4 940.5,359.6 942,372.9 943.2,392.9 943.7,425.9 942.6,455.9 941.5,468.3 940.5,474.3 939.5,476.9 937.5,477.7 932.5,477.7Z"/>
<path fill="#850000" d="M932.5,376.9 932.5,376 937.5,376 938.5,376.2 939.5,377.5 940.5,382.4 941.5,395.1 942.1,419.9 941.5,442.9 940.1,455.9 939.5,458.1 938.5,459.2 937.5,459.4 932.5,459.4Z"/>
</g></g>
<rect x="940.5" y="83.9" width="13.8" height="65.5" fill="#fff"/>
<g fill="none" stroke="#000" stroke-width="2.1" stroke-linejoin="round" stroke-linecap="round">
<path d="M940.8,57.7 H1281.4 V765.6 H940.8 Z"/>
<path d="M940.8,83.9 H1281.4 M940.8,739.4 H1281.4 M1255.1,57.7 V765.6"/>
<path d="M954.3,57.7 V149.4 H940.8"/>
<path d="M946.4,83.9 V149.4 M948.7,83.9 V149.4" stroke-width="2.2" stroke-linecap="butt"/>
<path d="M948.7,146.2 H954.3" stroke-width="2.2" stroke-linecap="butt"/>
<path d="M940.8,149.0 H954.3" stroke-width="2.6" stroke-linecap="butt"/>
</g>
<circle cx="1072.2" cy="207.8" r="10.2" fill="#fff" stroke="#000" stroke-width="1.9"/>
<circle cx="1071.5" cy="207.8" r="4" fill="#000"/>
<circle cx="1072.2" cy="601.7" r="10.2" fill="#fff" stroke="#000" stroke-width="1.9"/>
<circle cx="1071.5" cy="601.7" r="4" fill="#000"/>
<g fill="none" stroke="#000" stroke-width="2.3" stroke-linecap="butt">
<rect x="900.9" y="22.0" width="419.4" height="779.0" stroke-linejoin="round"/>
<path d="M940.5,23.0 v12.3 M940.5,800.0 v-12.7 M1071.3,23.0 v12.3 M1071.3,800.0 v-12.7 M1202.2,23.0 v12.3 M1202.2,800.0 v-12.7 M901.9,44.5 h12.6 M1319.3,44.5 h-11.3 M901.9,110.1 h12.6 M1319.3,110.1 h-11.3 M901.9,175.6 h12.6 M1319.3,175.6 h-11.3 M901.9,241.2 h12.6 M1319.3,241.2 h-11.3 M901.9,306.8 h12.6 M1319.3,306.8 h-11.3 M901.9,372.3 h12.6 M1319.3,372.3 h-11.3 M901.9,437.9 h12.6 M1319.3,437.9 h-11.3 M901.9,503.4 h12.6 M1319.3,503.4 h-11.3 M901.9,569.0 h12.6 M1319.3,569.0 h-11.3 M901.9,634.5 h12.6 M1319.3,634.5 h-11.3 M901.9,700.0 h12.6 M1319.3,700.0 h-11.3 M901.9,765.6 h12.6 M1319.3,765.6 h-11.3" stroke-linecap="round"/>
</g>
<g class="tk">
<text transform="translate(941.3,838.9) scale(1,1.03)" text-anchor="middle">0</text>
<text transform="translate(1073.2,838.9) scale(1,1.03)" text-anchor="middle">0.1</text>
<text transform="translate(1204.1,838.9) scale(1,1.03)" text-anchor="middle">0.2</text>
<text transform="translate(892.6,120.6) scale(1,1.03)" text-anchor="end">0.1</text>
<text transform="translate(892.6,186.1) scale(1,1.03)" text-anchor="end">0.05</text>
<text transform="translate(892.6,251.7) scale(1,1.03)" text-anchor="end">0</text>
<text transform="translate(892.6,317.2) scale(1,1.03)" text-anchor="end">-0.05</text>
<text transform="translate(892.6,382.8) scale(1,1.03)" text-anchor="end">-0.1</text>
<text transform="translate(892.6,448.4) scale(1,1.03)" text-anchor="end">-0.15</text>
<text transform="translate(892.6,513.9) scale(1,1.03)" text-anchor="end">-0.2</text>
<text transform="translate(892.6,579.5) scale(1,1.03)" text-anchor="end">-0.25</text>
<text transform="translate(892.6,645.0) scale(1,1.03)" text-anchor="end">-0.3</text>
<text transform="translate(892.6,710.5) scale(1,1.03)" text-anchor="end">-0.35</text>
<text transform="translate(892.6,776.1) scale(1,1.03)" text-anchor="end">-0.4</text>
</g>
<linearGradient id="cbb" x1="0" y1="0" x2="0" y2="1"><stop offset="0.000" stop-color="#800000"/><stop offset="0.125" stop-color="#ff0000"/><stop offset="0.375" stop-color="#ffff00"/><stop offset="0.625" stop-color="#00ffff"/><stop offset="0.875" stop-color="#0000ff"/><stop offset="1.000" stop-color="#000080"/></linearGradient>
<rect x="1372.6" y="92.4" width="37.2" height="696.1" fill="url(#cbb)"/>
<path d="M1372.6,90.8 V788.5 H1409.8 V90.8 M1372.6,92.4 H1409.8 M1372.6,114.6 h6.8 M1409.8,114.6 h-6.8 M1372.6,226.8 h6.8 M1409.8,226.8 h-6.8 M1372.6,339.1 h6.8 M1409.8,339.1 h-6.8 M1372.6,451.3 h6.8 M1409.8,451.3 h-6.8 M1372.6,563.6 h6.8 M1409.8,563.6 h-6.8 M1372.6,675.8 h6.8 M1409.8,675.8 h-6.8" fill="none" stroke="#000" stroke-width="2.1"/>
<g class="tk">
<text transform="translate(1426.8,125.6) scale(1,1.03)">1.2</text>
<text transform="translate(1426.8,237.8) scale(1,1.03)">1</text>
<text transform="translate(1426.8,350.1) scale(1,1.03)">0.8</text>
<text transform="translate(1426.8,462.3) scale(1,1.03)">0.6</text>
<text transform="translate(1426.8,574.6) scale(1,1.03)">0.4</text>
<text transform="translate(1426.8,686.8) scale(1,1.03)">0.2</text>
<text transform="translate(1431.7,34.0) scale(1,1.02)">1/m<tspan class="sup" dx="0.5" dy="-16">3</tspan></text>
<text transform="translate(1406.0,74.3) scale(1,1.02)">×<tspan dx="0">1</tspan><tspan dx="-0.9">0</tspan><tspan class="sup" style="font-size:19.4px;letter-spacing:0.2px" dx="0.9" dy="-14.3">18</tspan></text>
</g>
<text class="pl" x="70.6" y="30.4">a)</text>
<text class="pl" x="843.8" y="27.8">b)</text>
<text class="ax" x="341.6" y="878.1" text-anchor="middle">r (m)</text>
<text class="ax" x="1114" y="878.8" text-anchor="middle">r (m)</text>
<text class="ax" transform="translate(27.8,376.5) rotate(-90)" text-anchor="middle">z (m)</text>
<text class="ax" transform="translate(801.8,377.5) rotate(-90)" text-anchor="middle">z (m)</text>
</svg></body></html>
